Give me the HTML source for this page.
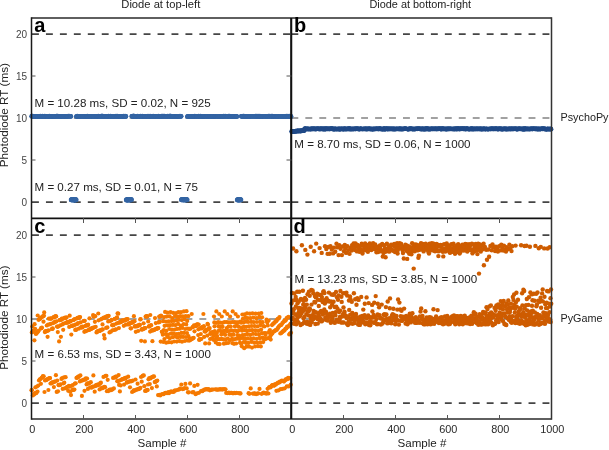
<!DOCTYPE html>
<html><head><meta charset="utf-8"><title>Figure</title>
<style>html,body{margin:0;padding:0;background:#fff;}svg{display:block;}</style></head>
<body>
<svg width="609" height="450" viewBox="0 0 609 450">
<rect width="609" height="450" fill="#fff"/>
<line x1="32.0" y1="34.0" x2="291.5" y2="34.0" stroke="#454545" stroke-width="1.75" stroke-dasharray="6.9 7.05"/>
<line x1="32.0" y1="202.0" x2="291.5" y2="202.0" stroke="#454545" stroke-width="1.75" stroke-dasharray="6.9 7.05"/>
<line x1="32.0" y1="118.0" x2="291.5" y2="118.0" stroke="#444" stroke-width="1.2" stroke-dasharray="6.9 7.05"/>
<line x1="32.0" y1="235.0" x2="291.5" y2="235.0" stroke="#454545" stroke-width="1.75" stroke-dasharray="6.9 7.05"/>
<line x1="32.0" y1="403.0" x2="291.5" y2="403.0" stroke="#454545" stroke-width="1.75" stroke-dasharray="6.9 7.05"/>
<line x1="32.0" y1="319.0" x2="291.5" y2="319.0" stroke="#444" stroke-width="1.2" stroke-dasharray="6.9 7.05"/>
<line x1="291.4" y1="34.0" x2="551.5" y2="34.0" stroke="#454545" stroke-width="1.75" stroke-dasharray="6.9 7.05"/>
<line x1="291.4" y1="202.0" x2="551.5" y2="202.0" stroke="#454545" stroke-width="1.75" stroke-dasharray="6.9 7.05"/>
<line x1="291.4" y1="118.0" x2="551.5" y2="118.0" stroke="#444" stroke-width="1.2" stroke-dasharray="6.9 7.05"/>
<line x1="291.4" y1="235.0" x2="551.5" y2="235.0" stroke="#454545" stroke-width="1.75" stroke-dasharray="6.9 7.05"/>
<line x1="291.4" y1="403.0" x2="551.5" y2="403.0" stroke="#454545" stroke-width="1.75" stroke-dasharray="6.9 7.05"/>
<line x1="291.4" y1="319.0" x2="551.5" y2="319.0" stroke="#444" stroke-width="1.2" stroke-dasharray="6.9 7.05"/>
<g fill="#3465a4"><circle cx="31.5" cy="116.3" r="2.2"/><circle cx="31.8" cy="116.3" r="2.2"/><circle cx="32.0" cy="116.4" r="2.2"/><circle cx="32.3" cy="116.0" r="2.2"/><circle cx="32.5" cy="116.3" r="2.2"/><circle cx="32.8" cy="116.0" r="2.2"/><circle cx="33.1" cy="116.2" r="2.2"/><circle cx="33.3" cy="116.4" r="2.2"/><circle cx="33.6" cy="116.4" r="2.2"/><circle cx="33.8" cy="116.2" r="2.2"/><circle cx="34.1" cy="116.3" r="2.2"/><circle cx="34.4" cy="116.3" r="2.2"/><circle cx="34.6" cy="116.4" r="2.2"/><circle cx="34.9" cy="116.6" r="2.2"/><circle cx="35.1" cy="116.4" r="2.2"/><circle cx="35.4" cy="116.7" r="2.2"/><circle cx="35.7" cy="116.3" r="2.2"/><circle cx="35.9" cy="116.4" r="2.2"/><circle cx="36.2" cy="116.4" r="2.2"/><circle cx="36.4" cy="116.4" r="2.2"/><circle cx="36.7" cy="116.3" r="2.2"/><circle cx="37.0" cy="116.6" r="2.2"/><circle cx="37.2" cy="116.6" r="2.2"/><circle cx="37.5" cy="116.5" r="2.2"/><circle cx="37.7" cy="116.7" r="2.2"/><circle cx="38.0" cy="116.5" r="2.2"/><circle cx="38.3" cy="116.1" r="2.2"/><circle cx="38.5" cy="116.5" r="2.2"/><circle cx="38.8" cy="116.2" r="2.2"/><circle cx="39.0" cy="116.6" r="2.2"/><circle cx="39.3" cy="116.3" r="2.2"/><circle cx="39.6" cy="116.4" r="2.2"/><circle cx="39.8" cy="116.3" r="2.2"/><circle cx="40.1" cy="116.2" r="2.2"/><circle cx="40.3" cy="116.0" r="2.2"/><circle cx="40.6" cy="116.3" r="2.2"/><circle cx="40.9" cy="116.3" r="2.2"/><circle cx="41.1" cy="116.5" r="2.2"/><circle cx="41.4" cy="116.2" r="2.2"/><circle cx="41.6" cy="116.4" r="2.2"/><circle cx="41.9" cy="116.2" r="2.2"/><circle cx="42.2" cy="116.3" r="2.2"/><circle cx="42.4" cy="116.0" r="2.2"/><circle cx="42.7" cy="116.7" r="2.2"/><circle cx="42.9" cy="116.4" r="2.2"/><circle cx="43.2" cy="116.2" r="2.2"/><circle cx="43.5" cy="116.4" r="2.2"/><circle cx="43.7" cy="116.5" r="2.2"/><circle cx="44.0" cy="116.4" r="2.2"/><circle cx="44.2" cy="116.6" r="2.2"/><circle cx="44.5" cy="116.3" r="2.2"/><circle cx="44.8" cy="115.9" r="2.2"/><circle cx="45.0" cy="116.1" r="2.2"/><circle cx="45.3" cy="116.5" r="2.2"/><circle cx="45.5" cy="116.5" r="2.2"/><circle cx="45.8" cy="116.4" r="2.2"/><circle cx="46.1" cy="116.2" r="2.2"/><circle cx="46.3" cy="116.5" r="2.2"/><circle cx="46.6" cy="116.4" r="2.2"/><circle cx="46.8" cy="116.2" r="2.2"/><circle cx="47.1" cy="116.2" r="2.2"/><circle cx="47.4" cy="116.4" r="2.2"/><circle cx="47.6" cy="116.5" r="2.2"/><circle cx="47.9" cy="116.6" r="2.2"/><circle cx="48.1" cy="116.4" r="2.2"/><circle cx="48.4" cy="116.7" r="2.2"/><circle cx="48.7" cy="116.2" r="2.2"/><circle cx="48.9" cy="116.4" r="2.2"/><circle cx="49.2" cy="116.2" r="2.2"/><circle cx="49.4" cy="116.0" r="2.2"/><circle cx="49.7" cy="116.1" r="2.2"/><circle cx="50.0" cy="116.5" r="2.2"/><circle cx="50.2" cy="116.2" r="2.2"/><circle cx="50.5" cy="116.1" r="2.2"/><circle cx="50.7" cy="116.4" r="2.2"/><circle cx="51.0" cy="116.5" r="2.2"/><circle cx="51.3" cy="116.3" r="2.2"/><circle cx="51.5" cy="116.6" r="2.2"/><circle cx="51.8" cy="116.1" r="2.2"/><circle cx="52.0" cy="116.7" r="2.2"/><circle cx="52.3" cy="116.5" r="2.2"/><circle cx="52.6" cy="116.4" r="2.2"/><circle cx="52.8" cy="116.4" r="2.2"/><circle cx="53.1" cy="116.3" r="2.2"/><circle cx="53.3" cy="116.3" r="2.2"/><circle cx="53.6" cy="116.4" r="2.2"/><circle cx="53.9" cy="116.1" r="2.2"/><circle cx="54.1" cy="116.7" r="2.2"/><circle cx="54.4" cy="116.3" r="2.2"/><circle cx="54.6" cy="116.4" r="2.2"/><circle cx="54.9" cy="116.3" r="2.2"/><circle cx="55.2" cy="116.3" r="2.2"/><circle cx="55.4" cy="116.5" r="2.2"/><circle cx="55.7" cy="116.4" r="2.2"/><circle cx="55.9" cy="116.2" r="2.2"/><circle cx="56.2" cy="116.3" r="2.2"/><circle cx="56.5" cy="116.4" r="2.2"/><circle cx="56.7" cy="116.0" r="2.2"/><circle cx="57.0" cy="115.9" r="2.2"/><circle cx="57.2" cy="116.6" r="2.2"/><circle cx="57.5" cy="116.3" r="2.2"/><circle cx="57.8" cy="115.9" r="2.2"/><circle cx="58.0" cy="116.2" r="2.2"/><circle cx="58.3" cy="116.3" r="2.2"/><circle cx="58.5" cy="116.4" r="2.2"/><circle cx="58.8" cy="116.4" r="2.2"/><circle cx="59.1" cy="116.4" r="2.2"/><circle cx="59.3" cy="116.4" r="2.2"/><circle cx="59.6" cy="116.2" r="2.2"/><circle cx="59.8" cy="116.4" r="2.2"/><circle cx="60.1" cy="116.4" r="2.2"/><circle cx="60.4" cy="116.5" r="2.2"/><circle cx="60.6" cy="116.3" r="2.2"/><circle cx="60.9" cy="116.5" r="2.2"/><circle cx="61.1" cy="116.4" r="2.2"/><circle cx="61.4" cy="116.1" r="2.2"/><circle cx="61.7" cy="116.3" r="2.2"/><circle cx="61.9" cy="116.2" r="2.2"/><circle cx="62.2" cy="116.3" r="2.2"/><circle cx="62.4" cy="116.3" r="2.2"/><circle cx="62.7" cy="116.3" r="2.2"/><circle cx="63.0" cy="116.4" r="2.2"/><circle cx="63.2" cy="116.2" r="2.2"/><circle cx="63.5" cy="116.5" r="2.2"/><circle cx="63.7" cy="116.1" r="2.2"/><circle cx="64.0" cy="116.3" r="2.2"/><circle cx="64.3" cy="116.4" r="2.2"/><circle cx="64.5" cy="116.4" r="2.2"/><circle cx="64.8" cy="116.4" r="2.2"/><circle cx="65.0" cy="116.3" r="2.2"/><circle cx="65.3" cy="116.4" r="2.2"/><circle cx="65.6" cy="116.1" r="2.2"/><circle cx="65.8" cy="116.5" r="2.2"/><circle cx="66.1" cy="116.7" r="2.2"/><circle cx="66.3" cy="116.4" r="2.2"/><circle cx="66.6" cy="116.7" r="2.2"/><circle cx="66.9" cy="116.3" r="2.2"/><circle cx="67.1" cy="116.1" r="2.2"/><circle cx="67.4" cy="116.2" r="2.2"/><circle cx="67.6" cy="116.5" r="2.2"/><circle cx="67.9" cy="116.4" r="2.2"/><circle cx="68.2" cy="116.0" r="2.2"/><circle cx="68.4" cy="116.3" r="2.2"/><circle cx="68.7" cy="116.3" r="2.2"/><circle cx="68.9" cy="116.1" r="2.2"/><circle cx="69.2" cy="115.9" r="2.2"/><circle cx="69.5" cy="116.1" r="2.2"/><circle cx="69.7" cy="116.3" r="2.2"/><circle cx="70.0" cy="116.3" r="2.2"/><circle cx="70.2" cy="116.2" r="2.2"/><circle cx="70.5" cy="116.4" r="2.2"/><circle cx="70.8" cy="116.5" r="2.2"/><circle cx="71.0" cy="116.3" r="2.2"/><circle cx="76.2" cy="116.4" r="2.2"/><circle cx="76.5" cy="116.4" r="2.2"/><circle cx="76.7" cy="116.6" r="2.2"/><circle cx="77.0" cy="116.5" r="2.2"/><circle cx="77.3" cy="116.0" r="2.2"/><circle cx="77.5" cy="116.7" r="2.2"/><circle cx="77.8" cy="116.4" r="2.2"/><circle cx="78.0" cy="116.3" r="2.2"/><circle cx="78.3" cy="116.4" r="2.2"/><circle cx="78.6" cy="116.5" r="2.2"/><circle cx="78.8" cy="116.3" r="2.2"/><circle cx="79.1" cy="116.3" r="2.2"/><circle cx="79.3" cy="116.3" r="2.2"/><circle cx="79.6" cy="116.6" r="2.2"/><circle cx="79.9" cy="116.3" r="2.2"/><circle cx="80.1" cy="116.5" r="2.2"/><circle cx="80.4" cy="116.4" r="2.2"/><circle cx="80.6" cy="116.3" r="2.2"/><circle cx="80.9" cy="116.2" r="2.2"/><circle cx="81.2" cy="116.2" r="2.2"/><circle cx="81.4" cy="116.4" r="2.2"/><circle cx="81.7" cy="116.2" r="2.2"/><circle cx="81.9" cy="116.1" r="2.2"/><circle cx="82.2" cy="116.1" r="2.2"/><circle cx="82.5" cy="116.1" r="2.2"/><circle cx="82.7" cy="116.3" r="2.2"/><circle cx="83.0" cy="116.3" r="2.2"/><circle cx="83.2" cy="116.2" r="2.2"/><circle cx="83.5" cy="116.5" r="2.2"/><circle cx="83.8" cy="116.3" r="2.2"/><circle cx="84.0" cy="116.4" r="2.2"/><circle cx="84.3" cy="116.4" r="2.2"/><circle cx="84.5" cy="116.6" r="2.2"/><circle cx="84.8" cy="116.5" r="2.2"/><circle cx="85.1" cy="116.3" r="2.2"/><circle cx="85.3" cy="116.2" r="2.2"/><circle cx="85.6" cy="116.2" r="2.2"/><circle cx="85.8" cy="116.3" r="2.2"/><circle cx="86.1" cy="116.4" r="2.2"/><circle cx="86.4" cy="116.5" r="2.2"/><circle cx="86.6" cy="116.3" r="2.2"/><circle cx="86.9" cy="116.4" r="2.2"/><circle cx="87.1" cy="116.2" r="2.2"/><circle cx="87.4" cy="116.0" r="2.2"/><circle cx="87.7" cy="116.3" r="2.2"/><circle cx="87.9" cy="116.6" r="2.2"/><circle cx="88.2" cy="116.5" r="2.2"/><circle cx="88.4" cy="116.6" r="2.2"/><circle cx="88.7" cy="116.5" r="2.2"/><circle cx="89.0" cy="116.1" r="2.2"/><circle cx="89.2" cy="116.3" r="2.2"/><circle cx="89.5" cy="116.6" r="2.2"/><circle cx="89.7" cy="116.2" r="2.2"/><circle cx="90.0" cy="116.1" r="2.2"/><circle cx="90.3" cy="116.4" r="2.2"/><circle cx="90.5" cy="116.4" r="2.2"/><circle cx="90.8" cy="116.4" r="2.2"/><circle cx="91.0" cy="116.3" r="2.2"/><circle cx="91.3" cy="116.2" r="2.2"/><circle cx="91.6" cy="116.1" r="2.2"/><circle cx="91.8" cy="116.1" r="2.2"/><circle cx="92.1" cy="116.1" r="2.2"/><circle cx="92.3" cy="116.1" r="2.2"/><circle cx="92.6" cy="116.2" r="2.2"/><circle cx="92.9" cy="116.6" r="2.2"/><circle cx="93.1" cy="116.3" r="2.2"/><circle cx="93.4" cy="116.3" r="2.2"/><circle cx="93.6" cy="116.4" r="2.2"/><circle cx="93.9" cy="116.2" r="2.2"/><circle cx="94.2" cy="116.4" r="2.2"/><circle cx="94.4" cy="116.5" r="2.2"/><circle cx="94.7" cy="116.1" r="2.2"/><circle cx="94.9" cy="116.2" r="2.2"/><circle cx="95.2" cy="116.3" r="2.2"/><circle cx="95.5" cy="116.2" r="2.2"/><circle cx="95.7" cy="116.1" r="2.2"/><circle cx="96.0" cy="116.3" r="2.2"/><circle cx="96.2" cy="116.7" r="2.2"/><circle cx="96.5" cy="116.4" r="2.2"/><circle cx="96.8" cy="116.4" r="2.2"/><circle cx="97.0" cy="116.5" r="2.2"/><circle cx="97.3" cy="116.3" r="2.2"/><circle cx="97.5" cy="116.1" r="2.2"/><circle cx="97.8" cy="116.4" r="2.2"/><circle cx="98.1" cy="116.5" r="2.2"/><circle cx="98.3" cy="116.0" r="2.2"/><circle cx="98.6" cy="116.4" r="2.2"/><circle cx="98.8" cy="116.5" r="2.2"/><circle cx="99.1" cy="116.3" r="2.2"/><circle cx="99.4" cy="116.2" r="2.2"/><circle cx="99.6" cy="116.4" r="2.2"/><circle cx="99.9" cy="116.2" r="2.2"/><circle cx="100.1" cy="116.4" r="2.2"/><circle cx="100.4" cy="116.5" r="2.2"/><circle cx="100.7" cy="116.3" r="2.2"/><circle cx="100.9" cy="116.2" r="2.2"/><circle cx="101.2" cy="116.4" r="2.2"/><circle cx="101.4" cy="116.3" r="2.2"/><circle cx="101.7" cy="116.3" r="2.2"/><circle cx="102.0" cy="115.8" r="2.2"/><circle cx="102.2" cy="116.4" r="2.2"/><circle cx="102.5" cy="116.1" r="2.2"/><circle cx="102.7" cy="116.3" r="2.2"/><circle cx="103.0" cy="116.3" r="2.2"/><circle cx="103.3" cy="116.2" r="2.2"/><circle cx="103.5" cy="116.2" r="2.2"/><circle cx="103.8" cy="116.1" r="2.2"/><circle cx="104.0" cy="116.3" r="2.2"/><circle cx="104.3" cy="116.4" r="2.2"/><circle cx="104.6" cy="116.4" r="2.2"/><circle cx="104.8" cy="116.2" r="2.2"/><circle cx="105.1" cy="116.2" r="2.2"/><circle cx="105.3" cy="116.1" r="2.2"/><circle cx="105.6" cy="116.2" r="2.2"/><circle cx="105.9" cy="116.1" r="2.2"/><circle cx="106.1" cy="116.1" r="2.2"/><circle cx="106.4" cy="116.3" r="2.2"/><circle cx="106.6" cy="116.6" r="2.2"/><circle cx="106.9" cy="116.5" r="2.2"/><circle cx="107.2" cy="116.6" r="2.2"/><circle cx="107.4" cy="116.1" r="2.2"/><circle cx="107.7" cy="116.5" r="2.2"/><circle cx="107.9" cy="116.1" r="2.2"/><circle cx="108.2" cy="116.2" r="2.2"/><circle cx="108.5" cy="116.0" r="2.2"/><circle cx="108.7" cy="116.2" r="2.2"/><circle cx="109.0" cy="116.3" r="2.2"/><circle cx="109.2" cy="116.4" r="2.2"/><circle cx="109.5" cy="116.3" r="2.2"/><circle cx="109.8" cy="116.3" r="2.2"/><circle cx="110.0" cy="116.4" r="2.2"/><circle cx="110.3" cy="116.3" r="2.2"/><circle cx="110.5" cy="116.0" r="2.2"/><circle cx="110.8" cy="116.6" r="2.2"/><circle cx="111.1" cy="116.3" r="2.2"/><circle cx="111.3" cy="116.5" r="2.2"/><circle cx="111.6" cy="116.3" r="2.2"/><circle cx="111.8" cy="116.2" r="2.2"/><circle cx="112.1" cy="116.3" r="2.2"/><circle cx="112.4" cy="116.2" r="2.2"/><circle cx="112.6" cy="116.6" r="2.2"/><circle cx="112.9" cy="116.1" r="2.2"/><circle cx="113.1" cy="116.4" r="2.2"/><circle cx="113.4" cy="116.2" r="2.2"/><circle cx="113.7" cy="116.3" r="2.2"/><circle cx="113.9" cy="116.8" r="2.2"/><circle cx="114.2" cy="116.4" r="2.2"/><circle cx="114.4" cy="116.3" r="2.2"/><circle cx="114.7" cy="116.1" r="2.2"/><circle cx="115.0" cy="116.3" r="2.2"/><circle cx="115.2" cy="116.3" r="2.2"/><circle cx="115.5" cy="116.6" r="2.2"/><circle cx="115.7" cy="116.1" r="2.2"/><circle cx="116.0" cy="116.0" r="2.2"/><circle cx="116.3" cy="116.3" r="2.2"/><circle cx="116.5" cy="116.4" r="2.2"/><circle cx="116.8" cy="116.6" r="2.2"/><circle cx="117.0" cy="116.2" r="2.2"/><circle cx="117.3" cy="115.9" r="2.2"/><circle cx="117.6" cy="116.2" r="2.2"/><circle cx="117.8" cy="116.1" r="2.2"/><circle cx="118.1" cy="116.2" r="2.2"/><circle cx="118.3" cy="116.5" r="2.2"/><circle cx="118.6" cy="116.1" r="2.2"/><circle cx="118.9" cy="116.5" r="2.2"/><circle cx="119.1" cy="116.4" r="2.2"/><circle cx="119.4" cy="116.3" r="2.2"/><circle cx="119.6" cy="116.2" r="2.2"/><circle cx="119.9" cy="116.3" r="2.2"/><circle cx="120.2" cy="116.3" r="2.2"/><circle cx="120.4" cy="116.4" r="2.2"/><circle cx="120.7" cy="116.5" r="2.2"/><circle cx="120.9" cy="116.3" r="2.2"/><circle cx="121.2" cy="116.4" r="2.2"/><circle cx="121.5" cy="116.5" r="2.2"/><circle cx="121.7" cy="116.5" r="2.2"/><circle cx="122.0" cy="116.4" r="2.2"/><circle cx="122.2" cy="116.6" r="2.2"/><circle cx="122.5" cy="116.5" r="2.2"/><circle cx="122.8" cy="116.6" r="2.2"/><circle cx="123.0" cy="116.3" r="2.2"/><circle cx="123.3" cy="116.3" r="2.2"/><circle cx="123.5" cy="116.0" r="2.2"/><circle cx="123.8" cy="116.6" r="2.2"/><circle cx="124.1" cy="116.4" r="2.2"/><circle cx="124.3" cy="116.2" r="2.2"/><circle cx="124.6" cy="116.4" r="2.2"/><circle cx="124.8" cy="116.4" r="2.2"/><circle cx="125.1" cy="116.0" r="2.2"/><circle cx="125.4" cy="116.4" r="2.2"/><circle cx="125.6" cy="116.5" r="2.2"/><circle cx="125.9" cy="116.5" r="2.2"/><circle cx="126.1" cy="116.3" r="2.2"/><circle cx="131.6" cy="116.1" r="2.2"/><circle cx="131.9" cy="116.2" r="2.2"/><circle cx="132.1" cy="116.3" r="2.2"/><circle cx="132.4" cy="116.5" r="2.2"/><circle cx="132.6" cy="116.2" r="2.2"/><circle cx="132.9" cy="116.4" r="2.2"/><circle cx="133.2" cy="116.7" r="2.2"/><circle cx="133.4" cy="115.8" r="2.2"/><circle cx="133.7" cy="116.2" r="2.2"/><circle cx="133.9" cy="116.0" r="2.2"/><circle cx="134.2" cy="116.5" r="2.2"/><circle cx="134.5" cy="116.1" r="2.2"/><circle cx="134.7" cy="116.1" r="2.2"/><circle cx="135.0" cy="116.1" r="2.2"/><circle cx="135.2" cy="116.3" r="2.2"/><circle cx="135.5" cy="116.5" r="2.2"/><circle cx="135.8" cy="116.3" r="2.2"/><circle cx="136.0" cy="116.7" r="2.2"/><circle cx="136.3" cy="116.6" r="2.2"/><circle cx="136.5" cy="116.3" r="2.2"/><circle cx="136.8" cy="116.5" r="2.2"/><circle cx="137.1" cy="116.3" r="2.2"/><circle cx="137.3" cy="116.3" r="2.2"/><circle cx="137.6" cy="116.0" r="2.2"/><circle cx="137.8" cy="116.1" r="2.2"/><circle cx="138.1" cy="116.3" r="2.2"/><circle cx="138.4" cy="116.1" r="2.2"/><circle cx="138.6" cy="116.5" r="2.2"/><circle cx="138.9" cy="116.4" r="2.2"/><circle cx="139.1" cy="116.2" r="2.2"/><circle cx="139.4" cy="116.5" r="2.2"/><circle cx="139.7" cy="116.4" r="2.2"/><circle cx="139.9" cy="116.5" r="2.2"/><circle cx="140.2" cy="116.3" r="2.2"/><circle cx="140.4" cy="116.0" r="2.2"/><circle cx="140.7" cy="116.4" r="2.2"/><circle cx="141.0" cy="116.3" r="2.2"/><circle cx="141.2" cy="116.5" r="2.2"/><circle cx="141.5" cy="116.5" r="2.2"/><circle cx="141.7" cy="116.5" r="2.2"/><circle cx="142.0" cy="116.1" r="2.2"/><circle cx="142.3" cy="115.9" r="2.2"/><circle cx="142.5" cy="116.2" r="2.2"/><circle cx="142.8" cy="116.4" r="2.2"/><circle cx="143.0" cy="116.2" r="2.2"/><circle cx="143.3" cy="116.4" r="2.2"/><circle cx="143.6" cy="116.2" r="2.2"/><circle cx="143.8" cy="116.3" r="2.2"/><circle cx="144.1" cy="116.3" r="2.2"/><circle cx="144.3" cy="116.2" r="2.2"/><circle cx="144.6" cy="116.4" r="2.2"/><circle cx="144.9" cy="116.4" r="2.2"/><circle cx="145.1" cy="116.6" r="2.2"/><circle cx="145.4" cy="116.4" r="2.2"/><circle cx="145.6" cy="116.6" r="2.2"/><circle cx="145.9" cy="116.3" r="2.2"/><circle cx="146.2" cy="116.5" r="2.2"/><circle cx="146.4" cy="116.3" r="2.2"/><circle cx="146.7" cy="116.2" r="2.2"/><circle cx="146.9" cy="116.6" r="2.2"/><circle cx="147.2" cy="116.5" r="2.2"/><circle cx="147.5" cy="116.5" r="2.2"/><circle cx="147.7" cy="116.2" r="2.2"/><circle cx="148.0" cy="116.0" r="2.2"/><circle cx="148.2" cy="116.2" r="2.2"/><circle cx="148.5" cy="116.4" r="2.2"/><circle cx="148.8" cy="116.1" r="2.2"/><circle cx="149.0" cy="116.6" r="2.2"/><circle cx="149.3" cy="116.1" r="2.2"/><circle cx="149.5" cy="116.4" r="2.2"/><circle cx="149.8" cy="116.8" r="2.2"/><circle cx="150.1" cy="115.9" r="2.2"/><circle cx="150.3" cy="116.1" r="2.2"/><circle cx="150.6" cy="116.5" r="2.2"/><circle cx="150.8" cy="116.3" r="2.2"/><circle cx="151.1" cy="116.4" r="2.2"/><circle cx="151.4" cy="116.3" r="2.2"/><circle cx="151.6" cy="116.6" r="2.2"/><circle cx="151.9" cy="116.4" r="2.2"/><circle cx="152.1" cy="116.2" r="2.2"/><circle cx="152.4" cy="116.3" r="2.2"/><circle cx="152.7" cy="116.1" r="2.2"/><circle cx="152.9" cy="116.3" r="2.2"/><circle cx="153.2" cy="115.9" r="2.2"/><circle cx="153.4" cy="116.4" r="2.2"/><circle cx="153.7" cy="116.3" r="2.2"/><circle cx="154.0" cy="116.6" r="2.2"/><circle cx="154.2" cy="116.5" r="2.2"/><circle cx="154.5" cy="116.1" r="2.2"/><circle cx="154.7" cy="116.5" r="2.2"/><circle cx="155.0" cy="116.2" r="2.2"/><circle cx="155.3" cy="116.3" r="2.2"/><circle cx="155.5" cy="116.5" r="2.2"/><circle cx="155.8" cy="116.4" r="2.2"/><circle cx="156.0" cy="116.4" r="2.2"/><circle cx="156.3" cy="116.4" r="2.2"/><circle cx="156.6" cy="116.2" r="2.2"/><circle cx="156.8" cy="116.2" r="2.2"/><circle cx="157.1" cy="116.4" r="2.2"/><circle cx="157.3" cy="116.5" r="2.2"/><circle cx="157.6" cy="116.3" r="2.2"/><circle cx="157.9" cy="116.3" r="2.2"/><circle cx="158.1" cy="116.1" r="2.2"/><circle cx="158.4" cy="115.9" r="2.2"/><circle cx="158.6" cy="116.2" r="2.2"/><circle cx="158.9" cy="116.3" r="2.2"/><circle cx="159.2" cy="116.3" r="2.2"/><circle cx="159.4" cy="116.5" r="2.2"/><circle cx="159.7" cy="116.5" r="2.2"/><circle cx="159.9" cy="116.5" r="2.2"/><circle cx="160.2" cy="116.4" r="2.2"/><circle cx="160.5" cy="116.4" r="2.2"/><circle cx="160.7" cy="116.2" r="2.2"/><circle cx="161.0" cy="116.4" r="2.2"/><circle cx="161.2" cy="116.4" r="2.2"/><circle cx="161.5" cy="116.5" r="2.2"/><circle cx="161.8" cy="116.0" r="2.2"/><circle cx="162.0" cy="116.2" r="2.2"/><circle cx="162.3" cy="116.0" r="2.2"/><circle cx="162.5" cy="116.2" r="2.2"/><circle cx="162.8" cy="116.1" r="2.2"/><circle cx="163.1" cy="116.4" r="2.2"/><circle cx="163.3" cy="116.2" r="2.2"/><circle cx="163.6" cy="115.9" r="2.2"/><circle cx="163.8" cy="116.5" r="2.2"/><circle cx="164.1" cy="116.1" r="2.2"/><circle cx="164.4" cy="116.0" r="2.2"/><circle cx="164.6" cy="116.2" r="2.2"/><circle cx="164.9" cy="116.2" r="2.2"/><circle cx="165.1" cy="116.1" r="2.2"/><circle cx="165.4" cy="116.4" r="2.2"/><circle cx="165.7" cy="116.2" r="2.2"/><circle cx="165.9" cy="116.5" r="2.2"/><circle cx="166.2" cy="116.4" r="2.2"/><circle cx="166.4" cy="116.4" r="2.2"/><circle cx="166.7" cy="116.3" r="2.2"/><circle cx="167.0" cy="116.3" r="2.2"/><circle cx="167.2" cy="116.2" r="2.2"/><circle cx="167.5" cy="116.6" r="2.2"/><circle cx="167.7" cy="116.0" r="2.2"/><circle cx="168.0" cy="116.1" r="2.2"/><circle cx="168.3" cy="116.2" r="2.2"/><circle cx="168.5" cy="116.4" r="2.2"/><circle cx="168.8" cy="116.3" r="2.2"/><circle cx="169.0" cy="116.2" r="2.2"/><circle cx="169.3" cy="116.2" r="2.2"/><circle cx="169.6" cy="116.6" r="2.2"/><circle cx="169.8" cy="116.2" r="2.2"/><circle cx="170.1" cy="115.8" r="2.2"/><circle cx="170.3" cy="116.6" r="2.2"/><circle cx="170.6" cy="116.1" r="2.2"/><circle cx="170.9" cy="116.3" r="2.2"/><circle cx="171.1" cy="116.3" r="2.2"/><circle cx="171.4" cy="116.1" r="2.2"/><circle cx="171.6" cy="116.5" r="2.2"/><circle cx="171.9" cy="116.3" r="2.2"/><circle cx="172.2" cy="116.1" r="2.2"/><circle cx="172.4" cy="116.4" r="2.2"/><circle cx="172.7" cy="116.4" r="2.2"/><circle cx="172.9" cy="116.3" r="2.2"/><circle cx="173.2" cy="116.4" r="2.2"/><circle cx="173.5" cy="116.1" r="2.2"/><circle cx="173.7" cy="116.5" r="2.2"/><circle cx="174.0" cy="116.2" r="2.2"/><circle cx="174.2" cy="116.5" r="2.2"/><circle cx="174.5" cy="116.2" r="2.2"/><circle cx="174.8" cy="116.3" r="2.2"/><circle cx="175.0" cy="116.8" r="2.2"/><circle cx="175.3" cy="116.3" r="2.2"/><circle cx="175.5" cy="116.5" r="2.2"/><circle cx="175.8" cy="116.4" r="2.2"/><circle cx="176.1" cy="116.1" r="2.2"/><circle cx="176.3" cy="116.5" r="2.2"/><circle cx="176.6" cy="116.5" r="2.2"/><circle cx="176.8" cy="116.1" r="2.2"/><circle cx="177.1" cy="116.3" r="2.2"/><circle cx="177.4" cy="116.1" r="2.2"/><circle cx="177.6" cy="116.3" r="2.2"/><circle cx="177.9" cy="116.5" r="2.2"/><circle cx="178.1" cy="116.3" r="2.2"/><circle cx="178.4" cy="116.1" r="2.2"/><circle cx="178.7" cy="116.2" r="2.2"/><circle cx="178.9" cy="116.3" r="2.2"/><circle cx="179.2" cy="116.3" r="2.2"/><circle cx="179.4" cy="116.3" r="2.2"/><circle cx="179.7" cy="116.4" r="2.2"/><circle cx="180.0" cy="116.0" r="2.2"/><circle cx="180.2" cy="116.3" r="2.2"/><circle cx="180.5" cy="116.5" r="2.2"/><circle cx="180.7" cy="116.4" r="2.2"/><circle cx="181.0" cy="116.2" r="2.2"/><circle cx="181.3" cy="116.2" r="2.2"/><circle cx="187.2" cy="116.4" r="2.2"/><circle cx="187.5" cy="116.6" r="2.2"/><circle cx="187.8" cy="116.4" r="2.2"/><circle cx="188.0" cy="116.3" r="2.2"/><circle cx="188.3" cy="116.3" r="2.2"/><circle cx="188.5" cy="116.5" r="2.2"/><circle cx="188.8" cy="116.2" r="2.2"/><circle cx="189.1" cy="116.5" r="2.2"/><circle cx="189.3" cy="116.4" r="2.2"/><circle cx="189.6" cy="116.1" r="2.2"/><circle cx="189.8" cy="116.4" r="2.2"/><circle cx="190.1" cy="116.4" r="2.2"/><circle cx="190.4" cy="116.1" r="2.2"/><circle cx="190.6" cy="116.4" r="2.2"/><circle cx="190.9" cy="116.4" r="2.2"/><circle cx="191.1" cy="116.3" r="2.2"/><circle cx="191.4" cy="116.1" r="2.2"/><circle cx="191.7" cy="116.7" r="2.2"/><circle cx="191.9" cy="116.5" r="2.2"/><circle cx="192.2" cy="116.5" r="2.2"/><circle cx="192.4" cy="116.5" r="2.2"/><circle cx="192.7" cy="116.5" r="2.2"/><circle cx="193.0" cy="116.5" r="2.2"/><circle cx="193.2" cy="116.3" r="2.2"/><circle cx="193.5" cy="116.5" r="2.2"/><circle cx="193.7" cy="116.3" r="2.2"/><circle cx="194.0" cy="116.3" r="2.2"/><circle cx="194.3" cy="116.4" r="2.2"/><circle cx="194.5" cy="116.3" r="2.2"/><circle cx="194.8" cy="116.0" r="2.2"/><circle cx="195.0" cy="116.3" r="2.2"/><circle cx="195.3" cy="116.4" r="2.2"/><circle cx="195.6" cy="116.3" r="2.2"/><circle cx="195.8" cy="116.5" r="2.2"/><circle cx="196.1" cy="116.3" r="2.2"/><circle cx="196.3" cy="116.2" r="2.2"/><circle cx="196.6" cy="116.5" r="2.2"/><circle cx="196.9" cy="116.4" r="2.2"/><circle cx="197.1" cy="116.1" r="2.2"/><circle cx="197.4" cy="116.4" r="2.2"/><circle cx="197.6" cy="116.3" r="2.2"/><circle cx="197.9" cy="116.5" r="2.2"/><circle cx="198.2" cy="116.5" r="2.2"/><circle cx="198.4" cy="116.4" r="2.2"/><circle cx="198.7" cy="116.0" r="2.2"/><circle cx="198.9" cy="116.4" r="2.2"/><circle cx="199.2" cy="116.4" r="2.2"/><circle cx="199.5" cy="116.4" r="2.2"/><circle cx="199.7" cy="116.3" r="2.2"/><circle cx="200.0" cy="116.2" r="2.2"/><circle cx="200.2" cy="116.3" r="2.2"/><circle cx="200.5" cy="116.0" r="2.2"/><circle cx="200.8" cy="116.3" r="2.2"/><circle cx="201.0" cy="116.1" r="2.2"/><circle cx="201.3" cy="116.3" r="2.2"/><circle cx="201.5" cy="116.2" r="2.2"/><circle cx="201.8" cy="116.6" r="2.2"/><circle cx="202.1" cy="116.3" r="2.2"/><circle cx="202.3" cy="116.3" r="2.2"/><circle cx="202.6" cy="116.4" r="2.2"/><circle cx="202.8" cy="116.7" r="2.2"/><circle cx="203.1" cy="116.2" r="2.2"/><circle cx="203.4" cy="116.4" r="2.2"/><circle cx="203.6" cy="116.4" r="2.2"/><circle cx="203.9" cy="116.4" r="2.2"/><circle cx="204.1" cy="116.4" r="2.2"/><circle cx="204.4" cy="116.3" r="2.2"/><circle cx="204.7" cy="116.5" r="2.2"/><circle cx="204.9" cy="116.5" r="2.2"/><circle cx="205.2" cy="116.3" r="2.2"/><circle cx="205.4" cy="116.3" r="2.2"/><circle cx="205.7" cy="116.4" r="2.2"/><circle cx="206.0" cy="116.4" r="2.2"/><circle cx="206.2" cy="116.5" r="2.2"/><circle cx="206.5" cy="116.3" r="2.2"/><circle cx="206.7" cy="116.1" r="2.2"/><circle cx="207.0" cy="116.5" r="2.2"/><circle cx="207.3" cy="116.1" r="2.2"/><circle cx="207.5" cy="116.2" r="2.2"/><circle cx="207.8" cy="116.4" r="2.2"/><circle cx="208.0" cy="116.2" r="2.2"/><circle cx="208.3" cy="116.6" r="2.2"/><circle cx="208.6" cy="116.6" r="2.2"/><circle cx="208.8" cy="116.5" r="2.2"/><circle cx="209.1" cy="116.4" r="2.2"/><circle cx="209.3" cy="116.4" r="2.2"/><circle cx="209.6" cy="116.4" r="2.2"/><circle cx="209.9" cy="116.3" r="2.2"/><circle cx="210.1" cy="116.7" r="2.2"/><circle cx="210.4" cy="116.2" r="2.2"/><circle cx="210.6" cy="116.6" r="2.2"/><circle cx="210.9" cy="116.4" r="2.2"/><circle cx="211.2" cy="116.4" r="2.2"/><circle cx="211.4" cy="116.5" r="2.2"/><circle cx="211.7" cy="116.6" r="2.2"/><circle cx="211.9" cy="116.5" r="2.2"/><circle cx="212.2" cy="116.3" r="2.2"/><circle cx="212.5" cy="116.2" r="2.2"/><circle cx="212.7" cy="116.2" r="2.2"/><circle cx="213.0" cy="116.5" r="2.2"/><circle cx="213.2" cy="116.5" r="2.2"/><circle cx="213.5" cy="116.5" r="2.2"/><circle cx="213.8" cy="116.2" r="2.2"/><circle cx="214.0" cy="116.7" r="2.2"/><circle cx="214.3" cy="116.1" r="2.2"/><circle cx="214.5" cy="116.4" r="2.2"/><circle cx="214.8" cy="116.5" r="2.2"/><circle cx="215.1" cy="116.3" r="2.2"/><circle cx="215.3" cy="116.1" r="2.2"/><circle cx="215.6" cy="116.3" r="2.2"/><circle cx="215.8" cy="116.1" r="2.2"/><circle cx="216.1" cy="116.3" r="2.2"/><circle cx="216.4" cy="116.1" r="2.2"/><circle cx="216.6" cy="116.1" r="2.2"/><circle cx="216.9" cy="116.3" r="2.2"/><circle cx="217.1" cy="116.1" r="2.2"/><circle cx="217.4" cy="116.3" r="2.2"/><circle cx="217.7" cy="116.3" r="2.2"/><circle cx="217.9" cy="116.5" r="2.2"/><circle cx="218.2" cy="116.4" r="2.2"/><circle cx="218.4" cy="116.2" r="2.2"/><circle cx="218.7" cy="116.5" r="2.2"/><circle cx="219.0" cy="116.2" r="2.2"/><circle cx="219.2" cy="116.3" r="2.2"/><circle cx="219.5" cy="116.3" r="2.2"/><circle cx="219.7" cy="116.7" r="2.2"/><circle cx="220.0" cy="116.3" r="2.2"/><circle cx="220.3" cy="116.2" r="2.2"/><circle cx="220.5" cy="116.4" r="2.2"/><circle cx="220.8" cy="116.3" r="2.2"/><circle cx="221.0" cy="116.7" r="2.2"/><circle cx="221.3" cy="116.2" r="2.2"/><circle cx="221.6" cy="116.4" r="2.2"/><circle cx="221.8" cy="116.2" r="2.2"/><circle cx="222.1" cy="116.6" r="2.2"/><circle cx="222.3" cy="116.2" r="2.2"/><circle cx="222.6" cy="116.4" r="2.2"/><circle cx="222.9" cy="116.2" r="2.2"/><circle cx="223.1" cy="116.5" r="2.2"/><circle cx="223.4" cy="116.4" r="2.2"/><circle cx="223.6" cy="115.9" r="2.2"/><circle cx="223.9" cy="116.5" r="2.2"/><circle cx="224.2" cy="116.4" r="2.2"/><circle cx="224.4" cy="116.4" r="2.2"/><circle cx="224.7" cy="116.5" r="2.2"/><circle cx="224.9" cy="116.1" r="2.2"/><circle cx="225.2" cy="116.0" r="2.2"/><circle cx="225.5" cy="116.4" r="2.2"/><circle cx="225.7" cy="116.6" r="2.2"/><circle cx="226.0" cy="116.1" r="2.2"/><circle cx="226.2" cy="116.1" r="2.2"/><circle cx="226.5" cy="116.2" r="2.2"/><circle cx="226.8" cy="116.1" r="2.2"/><circle cx="227.0" cy="116.5" r="2.2"/><circle cx="227.3" cy="116.3" r="2.2"/><circle cx="227.5" cy="116.6" r="2.2"/><circle cx="227.8" cy="116.6" r="2.2"/><circle cx="228.1" cy="116.2" r="2.2"/><circle cx="228.3" cy="116.4" r="2.2"/><circle cx="228.6" cy="115.9" r="2.2"/><circle cx="228.8" cy="116.3" r="2.2"/><circle cx="229.1" cy="116.4" r="2.2"/><circle cx="229.4" cy="116.2" r="2.2"/><circle cx="229.6" cy="116.0" r="2.2"/><circle cx="229.9" cy="116.2" r="2.2"/><circle cx="230.1" cy="116.5" r="2.2"/><circle cx="230.4" cy="116.3" r="2.2"/><circle cx="230.7" cy="116.1" r="2.2"/><circle cx="230.9" cy="116.4" r="2.2"/><circle cx="231.2" cy="116.4" r="2.2"/><circle cx="231.4" cy="116.1" r="2.2"/><circle cx="231.7" cy="116.3" r="2.2"/><circle cx="232.0" cy="116.5" r="2.2"/><circle cx="232.2" cy="116.4" r="2.2"/><circle cx="232.5" cy="116.4" r="2.2"/><circle cx="232.7" cy="116.3" r="2.2"/><circle cx="233.0" cy="116.3" r="2.2"/><circle cx="233.3" cy="116.1" r="2.2"/><circle cx="233.5" cy="116.2" r="2.2"/><circle cx="233.8" cy="116.6" r="2.2"/><circle cx="234.0" cy="116.3" r="2.2"/><circle cx="234.3" cy="116.2" r="2.2"/><circle cx="234.6" cy="116.2" r="2.2"/><circle cx="234.8" cy="116.1" r="2.2"/><circle cx="235.1" cy="116.4" r="2.2"/><circle cx="235.3" cy="116.5" r="2.2"/><circle cx="235.6" cy="116.2" r="2.2"/><circle cx="235.9" cy="116.5" r="2.2"/><circle cx="236.1" cy="116.7" r="2.2"/><circle cx="236.4" cy="116.1" r="2.2"/><circle cx="236.6" cy="116.4" r="2.2"/><circle cx="236.9" cy="116.4" r="2.2"/><circle cx="237.2" cy="116.6" r="2.2"/><circle cx="241.1" cy="116.3" r="2.2"/><circle cx="241.3" cy="116.1" r="2.2"/><circle cx="241.6" cy="116.4" r="2.2"/><circle cx="241.8" cy="116.2" r="2.2"/><circle cx="242.1" cy="116.4" r="2.2"/><circle cx="242.4" cy="116.1" r="2.2"/><circle cx="242.6" cy="116.4" r="2.2"/><circle cx="242.9" cy="116.4" r="2.2"/><circle cx="243.1" cy="116.0" r="2.2"/><circle cx="243.4" cy="116.3" r="2.2"/><circle cx="243.7" cy="116.3" r="2.2"/><circle cx="243.9" cy="115.9" r="2.2"/><circle cx="244.2" cy="116.3" r="2.2"/><circle cx="244.4" cy="116.5" r="2.2"/><circle cx="244.7" cy="116.2" r="2.2"/><circle cx="245.0" cy="116.5" r="2.2"/><circle cx="245.2" cy="116.1" r="2.2"/><circle cx="245.5" cy="116.1" r="2.2"/><circle cx="245.7" cy="116.4" r="2.2"/><circle cx="246.0" cy="116.4" r="2.2"/><circle cx="246.3" cy="116.3" r="2.2"/><circle cx="246.5" cy="116.3" r="2.2"/><circle cx="246.8" cy="116.5" r="2.2"/><circle cx="247.0" cy="116.2" r="2.2"/><circle cx="247.3" cy="116.7" r="2.2"/><circle cx="247.6" cy="116.4" r="2.2"/><circle cx="247.8" cy="116.4" r="2.2"/><circle cx="248.1" cy="116.4" r="2.2"/><circle cx="248.3" cy="116.3" r="2.2"/><circle cx="248.6" cy="116.5" r="2.2"/><circle cx="248.9" cy="116.2" r="2.2"/><circle cx="249.1" cy="116.4" r="2.2"/><circle cx="249.4" cy="116.4" r="2.2"/><circle cx="249.6" cy="116.5" r="2.2"/><circle cx="249.9" cy="116.5" r="2.2"/><circle cx="250.2" cy="116.3" r="2.2"/><circle cx="250.4" cy="116.5" r="2.2"/><circle cx="250.7" cy="116.3" r="2.2"/><circle cx="250.9" cy="116.1" r="2.2"/><circle cx="251.2" cy="116.1" r="2.2"/><circle cx="251.5" cy="116.1" r="2.2"/><circle cx="251.7" cy="116.4" r="2.2"/><circle cx="252.0" cy="116.5" r="2.2"/><circle cx="252.2" cy="116.1" r="2.2"/><circle cx="252.5" cy="116.3" r="2.2"/><circle cx="252.8" cy="116.1" r="2.2"/><circle cx="253.0" cy="116.3" r="2.2"/><circle cx="253.3" cy="116.1" r="2.2"/><circle cx="253.5" cy="116.2" r="2.2"/><circle cx="253.8" cy="116.2" r="2.2"/><circle cx="254.1" cy="116.2" r="2.2"/><circle cx="254.3" cy="116.3" r="2.2"/><circle cx="254.6" cy="116.3" r="2.2"/><circle cx="254.8" cy="116.3" r="2.2"/><circle cx="255.1" cy="116.2" r="2.2"/><circle cx="255.4" cy="116.4" r="2.2"/><circle cx="255.6" cy="116.0" r="2.2"/><circle cx="255.9" cy="116.3" r="2.2"/><circle cx="256.1" cy="116.2" r="2.2"/><circle cx="256.4" cy="116.3" r="2.2"/><circle cx="256.7" cy="116.4" r="2.2"/><circle cx="256.9" cy="116.0" r="2.2"/><circle cx="257.2" cy="116.4" r="2.2"/><circle cx="257.4" cy="116.5" r="2.2"/><circle cx="257.7" cy="116.4" r="2.2"/><circle cx="258.0" cy="116.4" r="2.2"/><circle cx="258.2" cy="116.0" r="2.2"/><circle cx="258.5" cy="116.3" r="2.2"/><circle cx="258.7" cy="116.2" r="2.2"/><circle cx="259.0" cy="116.5" r="2.2"/><circle cx="259.3" cy="116.3" r="2.2"/><circle cx="259.5" cy="116.2" r="2.2"/><circle cx="259.8" cy="116.0" r="2.2"/><circle cx="260.0" cy="116.4" r="2.2"/><circle cx="260.3" cy="116.2" r="2.2"/><circle cx="260.6" cy="116.3" r="2.2"/><circle cx="260.8" cy="116.5" r="2.2"/><circle cx="261.1" cy="116.3" r="2.2"/><circle cx="261.3" cy="116.4" r="2.2"/><circle cx="261.6" cy="116.7" r="2.2"/><circle cx="261.9" cy="116.2" r="2.2"/><circle cx="262.1" cy="116.2" r="2.2"/><circle cx="262.4" cy="116.4" r="2.2"/><circle cx="262.6" cy="116.5" r="2.2"/><circle cx="262.9" cy="116.1" r="2.2"/><circle cx="263.2" cy="116.3" r="2.2"/><circle cx="263.4" cy="116.1" r="2.2"/><circle cx="263.7" cy="116.1" r="2.2"/><circle cx="263.9" cy="116.4" r="2.2"/><circle cx="264.2" cy="116.2" r="2.2"/><circle cx="264.5" cy="116.4" r="2.2"/><circle cx="264.7" cy="116.3" r="2.2"/><circle cx="265.0" cy="116.3" r="2.2"/><circle cx="265.2" cy="116.3" r="2.2"/><circle cx="265.5" cy="116.1" r="2.2"/><circle cx="265.8" cy="116.3" r="2.2"/><circle cx="266.0" cy="116.3" r="2.2"/><circle cx="266.3" cy="116.4" r="2.2"/><circle cx="266.5" cy="116.3" r="2.2"/><circle cx="266.8" cy="116.5" r="2.2"/><circle cx="267.1" cy="116.4" r="2.2"/><circle cx="267.3" cy="116.3" r="2.2"/><circle cx="267.6" cy="116.4" r="2.2"/><circle cx="267.8" cy="116.3" r="2.2"/><circle cx="268.1" cy="116.4" r="2.2"/><circle cx="268.4" cy="116.0" r="2.2"/><circle cx="268.6" cy="116.1" r="2.2"/><circle cx="268.9" cy="116.2" r="2.2"/><circle cx="269.1" cy="116.3" r="2.2"/><circle cx="269.4" cy="116.0" r="2.2"/><circle cx="269.7" cy="116.3" r="2.2"/><circle cx="269.9" cy="116.3" r="2.2"/><circle cx="270.2" cy="116.3" r="2.2"/><circle cx="270.4" cy="116.3" r="2.2"/><circle cx="270.7" cy="116.1" r="2.2"/><circle cx="271.0" cy="116.3" r="2.2"/><circle cx="271.2" cy="116.0" r="2.2"/><circle cx="271.5" cy="116.5" r="2.2"/><circle cx="271.7" cy="116.2" r="2.2"/><circle cx="272.0" cy="116.5" r="2.2"/><circle cx="272.3" cy="116.0" r="2.2"/><circle cx="272.5" cy="116.4" r="2.2"/><circle cx="272.8" cy="116.3" r="2.2"/><circle cx="273.0" cy="116.2" r="2.2"/><circle cx="273.3" cy="116.1" r="2.2"/><circle cx="273.6" cy="116.5" r="2.2"/><circle cx="273.8" cy="116.4" r="2.2"/><circle cx="274.1" cy="116.6" r="2.2"/><circle cx="274.3" cy="116.3" r="2.2"/><circle cx="274.6" cy="116.3" r="2.2"/><circle cx="274.9" cy="116.4" r="2.2"/><circle cx="275.1" cy="116.4" r="2.2"/><circle cx="275.4" cy="116.4" r="2.2"/><circle cx="275.6" cy="116.4" r="2.2"/><circle cx="275.9" cy="116.2" r="2.2"/><circle cx="276.2" cy="116.1" r="2.2"/><circle cx="276.4" cy="116.6" r="2.2"/><circle cx="276.7" cy="116.3" r="2.2"/><circle cx="276.9" cy="116.4" r="2.2"/><circle cx="277.2" cy="116.2" r="2.2"/><circle cx="277.5" cy="116.5" r="2.2"/><circle cx="277.7" cy="116.3" r="2.2"/><circle cx="278.0" cy="116.5" r="2.2"/><circle cx="278.2" cy="116.2" r="2.2"/><circle cx="278.5" cy="116.3" r="2.2"/><circle cx="278.8" cy="116.3" r="2.2"/><circle cx="279.0" cy="116.3" r="2.2"/><circle cx="279.3" cy="116.4" r="2.2"/><circle cx="279.5" cy="116.6" r="2.2"/><circle cx="279.8" cy="116.2" r="2.2"/><circle cx="280.1" cy="116.3" r="2.2"/><circle cx="280.3" cy="116.3" r="2.2"/><circle cx="280.6" cy="116.2" r="2.2"/><circle cx="280.8" cy="116.1" r="2.2"/><circle cx="281.1" cy="116.5" r="2.2"/><circle cx="281.4" cy="116.5" r="2.2"/><circle cx="281.6" cy="116.1" r="2.2"/><circle cx="281.9" cy="116.1" r="2.2"/><circle cx="282.1" cy="116.4" r="2.2"/><circle cx="282.4" cy="116.5" r="2.2"/><circle cx="282.7" cy="116.4" r="2.2"/><circle cx="282.9" cy="116.4" r="2.2"/><circle cx="283.2" cy="116.6" r="2.2"/><circle cx="283.4" cy="116.3" r="2.2"/><circle cx="283.7" cy="116.5" r="2.2"/><circle cx="284.0" cy="116.5" r="2.2"/><circle cx="284.2" cy="116.2" r="2.2"/><circle cx="284.5" cy="116.4" r="2.2"/><circle cx="284.7" cy="116.3" r="2.2"/><circle cx="285.0" cy="116.2" r="2.2"/><circle cx="285.3" cy="116.2" r="2.2"/><circle cx="285.5" cy="116.4" r="2.2"/><circle cx="285.8" cy="116.3" r="2.2"/><circle cx="286.0" cy="116.5" r="2.2"/><circle cx="286.3" cy="116.0" r="2.2"/><circle cx="286.6" cy="116.2" r="2.2"/><circle cx="286.8" cy="116.5" r="2.2"/><circle cx="287.1" cy="116.3" r="2.2"/><circle cx="287.3" cy="116.2" r="2.2"/><circle cx="287.6" cy="116.2" r="2.2"/><circle cx="287.9" cy="116.0" r="2.2"/><circle cx="288.1" cy="116.1" r="2.2"/><circle cx="288.4" cy="116.4" r="2.2"/><circle cx="288.6" cy="116.3" r="2.2"/><circle cx="288.9" cy="116.5" r="2.2"/><circle cx="289.2" cy="116.3" r="2.2"/><circle cx="289.4" cy="116.3" r="2.2"/><circle cx="289.7" cy="115.9" r="2.2"/><circle cx="289.9" cy="116.3" r="2.2"/><circle cx="290.2" cy="116.7" r="2.2"/><circle cx="290.5" cy="116.4" r="2.2"/><circle cx="290.7" cy="116.3" r="2.2"/><circle cx="291.0" cy="116.5" r="2.2"/><circle cx="291.2" cy="116.5" r="2.2"/></g>
<g fill="#3465a4"><circle cx="71.3" cy="199.7" r="2.5"/><circle cx="71.5" cy="199.8" r="2.5"/><circle cx="71.8" cy="199.8" r="2.5"/><circle cx="72.1" cy="199.8" r="2.5"/><circle cx="72.3" cy="199.8" r="2.5"/><circle cx="72.6" cy="199.6" r="2.5"/><circle cx="72.8" cy="199.8" r="2.5"/><circle cx="73.1" cy="199.8" r="2.5"/><circle cx="73.4" cy="199.7" r="2.5"/><circle cx="73.6" cy="199.6" r="2.5"/><circle cx="73.9" cy="199.9" r="2.5"/><circle cx="74.1" cy="199.7" r="2.5"/><circle cx="74.4" cy="199.8" r="2.5"/><circle cx="74.7" cy="199.9" r="2.5"/><circle cx="74.9" cy="199.7" r="2.5"/><circle cx="75.2" cy="199.7" r="2.5"/><circle cx="75.4" cy="199.7" r="2.5"/><circle cx="75.7" cy="199.8" r="2.5"/><circle cx="76.0" cy="199.7" r="2.5"/><circle cx="126.4" cy="199.7" r="2.5"/><circle cx="126.7" cy="199.9" r="2.5"/><circle cx="126.9" cy="199.9" r="2.5"/><circle cx="127.2" cy="199.7" r="2.5"/><circle cx="127.4" cy="199.7" r="2.5"/><circle cx="127.7" cy="199.7" r="2.5"/><circle cx="128.0" cy="199.9" r="2.5"/><circle cx="128.2" cy="199.8" r="2.5"/><circle cx="128.5" cy="199.8" r="2.5"/><circle cx="128.7" cy="199.7" r="2.5"/><circle cx="129.0" cy="199.5" r="2.5"/><circle cx="129.3" cy="199.7" r="2.5"/><circle cx="129.5" cy="199.8" r="2.5"/><circle cx="129.8" cy="199.8" r="2.5"/><circle cx="130.0" cy="199.7" r="2.5"/><circle cx="130.3" cy="199.7" r="2.5"/><circle cx="130.6" cy="199.8" r="2.5"/><circle cx="130.8" cy="199.7" r="2.5"/><circle cx="131.1" cy="199.8" r="2.5"/><circle cx="131.3" cy="199.6" r="2.5"/><circle cx="181.5" cy="199.8" r="2.5"/><circle cx="181.8" cy="199.6" r="2.5"/><circle cx="182.0" cy="199.8" r="2.5"/><circle cx="182.3" cy="199.7" r="2.5"/><circle cx="182.6" cy="199.6" r="2.5"/><circle cx="182.8" cy="199.6" r="2.5"/><circle cx="183.1" cy="199.7" r="2.5"/><circle cx="183.3" cy="199.8" r="2.5"/><circle cx="183.6" cy="199.8" r="2.5"/><circle cx="183.9" cy="199.8" r="2.5"/><circle cx="184.1" cy="199.7" r="2.5"/><circle cx="184.4" cy="199.7" r="2.5"/><circle cx="184.6" cy="199.7" r="2.5"/><circle cx="184.9" cy="199.6" r="2.5"/><circle cx="185.2" cy="199.8" r="2.5"/><circle cx="185.4" cy="199.7" r="2.5"/><circle cx="185.7" cy="199.7" r="2.5"/><circle cx="185.9" cy="199.7" r="2.5"/><circle cx="186.2" cy="199.6" r="2.5"/><circle cx="186.5" cy="199.7" r="2.5"/><circle cx="186.7" cy="199.8" r="2.5"/><circle cx="187.0" cy="199.7" r="2.5"/><circle cx="237.4" cy="199.7" r="2.5"/><circle cx="237.7" cy="199.9" r="2.5"/><circle cx="237.9" cy="199.8" r="2.5"/><circle cx="238.2" cy="199.8" r="2.5"/><circle cx="238.5" cy="199.8" r="2.5"/><circle cx="238.7" cy="199.7" r="2.5"/><circle cx="239.0" cy="199.8" r="2.5"/><circle cx="239.2" cy="199.9" r="2.5"/><circle cx="239.5" cy="199.7" r="2.5"/><circle cx="239.8" cy="199.7" r="2.5"/><circle cx="240.0" cy="199.7" r="2.5"/><circle cx="240.3" cy="199.7" r="2.5"/><circle cx="240.5" cy="199.7" r="2.5"/><circle cx="240.8" cy="199.7" r="2.5"/></g>
<g fill="#204a87"><circle cx="291.5" cy="131.5" r="2.2"/><circle cx="291.8" cy="131.4" r="2.2"/><circle cx="292.0" cy="131.4" r="2.2"/><circle cx="292.3" cy="131.5" r="2.2"/><circle cx="292.5" cy="131.2" r="2.2"/><circle cx="292.8" cy="131.4" r="2.2"/><circle cx="293.1" cy="131.4" r="2.2"/><circle cx="293.3" cy="131.6" r="2.2"/><circle cx="293.6" cy="131.4" r="2.2"/><circle cx="293.8" cy="131.2" r="2.2"/><circle cx="294.1" cy="131.5" r="2.2"/><circle cx="294.4" cy="131.3" r="2.2"/><circle cx="294.6" cy="131.1" r="2.2"/><circle cx="294.9" cy="131.3" r="2.2"/><circle cx="295.1" cy="131.2" r="2.2"/><circle cx="295.4" cy="131.4" r="2.2"/><circle cx="295.7" cy="131.0" r="2.2"/><circle cx="295.9" cy="131.0" r="2.2"/><circle cx="296.2" cy="131.1" r="2.2"/><circle cx="296.4" cy="131.4" r="2.2"/><circle cx="296.7" cy="131.3" r="2.2"/><circle cx="297.0" cy="130.9" r="2.2"/><circle cx="297.2" cy="130.8" r="2.2"/><circle cx="297.5" cy="131.0" r="2.2"/><circle cx="297.7" cy="130.8" r="2.2"/><circle cx="298.0" cy="131.1" r="2.2"/><circle cx="298.3" cy="131.0" r="2.2"/><circle cx="298.5" cy="131.0" r="2.2"/><circle cx="298.8" cy="130.9" r="2.2"/><circle cx="299.0" cy="131.2" r="2.2"/><circle cx="299.3" cy="130.8" r="2.2"/><circle cx="299.6" cy="130.7" r="2.2"/><circle cx="299.8" cy="131.1" r="2.2"/><circle cx="300.1" cy="131.1" r="2.2"/><circle cx="300.3" cy="130.8" r="2.2"/><circle cx="300.6" cy="131.0" r="2.2"/><circle cx="300.9" cy="131.2" r="2.2"/><circle cx="301.1" cy="130.7" r="2.2"/><circle cx="301.4" cy="130.8" r="2.2"/><circle cx="301.6" cy="130.9" r="2.2"/><circle cx="301.9" cy="130.4" r="2.2"/><circle cx="302.2" cy="130.7" r="2.2"/><circle cx="302.4" cy="130.9" r="2.2"/><circle cx="302.7" cy="130.7" r="2.2"/><circle cx="302.9" cy="130.9" r="2.2"/><circle cx="303.2" cy="130.8" r="2.2"/><circle cx="303.5" cy="130.6" r="2.2"/><circle cx="303.7" cy="130.7" r="2.2"/><circle cx="304.0" cy="130.7" r="2.2"/><circle cx="304.2" cy="130.3" r="2.2"/><circle cx="304.5" cy="128.8" r="2.2"/><circle cx="304.8" cy="128.8" r="2.2"/><circle cx="305.0" cy="128.8" r="2.2"/><circle cx="305.3" cy="128.8" r="2.2"/><circle cx="305.5" cy="128.7" r="2.2"/><circle cx="305.8" cy="128.9" r="2.2"/><circle cx="306.1" cy="128.6" r="2.2"/><circle cx="306.3" cy="129.1" r="2.2"/><circle cx="306.6" cy="129.0" r="2.2"/><circle cx="306.8" cy="129.2" r="2.2"/><circle cx="307.1" cy="129.0" r="2.2"/><circle cx="307.4" cy="128.8" r="2.2"/><circle cx="307.6" cy="128.7" r="2.2"/><circle cx="307.9" cy="129.0" r="2.2"/><circle cx="308.1" cy="128.9" r="2.2"/><circle cx="308.4" cy="129.0" r="2.2"/><circle cx="308.7" cy="129.0" r="2.2"/><circle cx="308.9" cy="129.1" r="2.2"/><circle cx="309.2" cy="128.9" r="2.2"/><circle cx="309.4" cy="129.2" r="2.2"/><circle cx="309.7" cy="128.9" r="2.2"/><circle cx="310.0" cy="128.9" r="2.2"/><circle cx="310.2" cy="129.0" r="2.2"/><circle cx="310.5" cy="129.1" r="2.2"/><circle cx="310.7" cy="129.2" r="2.2"/><circle cx="311.0" cy="128.6" r="2.2"/><circle cx="311.3" cy="129.1" r="2.2"/><circle cx="311.5" cy="128.7" r="2.2"/><circle cx="311.8" cy="128.8" r="2.2"/><circle cx="312.0" cy="129.0" r="2.2"/><circle cx="312.3" cy="129.1" r="2.2"/><circle cx="312.6" cy="128.7" r="2.2"/><circle cx="312.8" cy="128.6" r="2.2"/><circle cx="313.1" cy="129.1" r="2.2"/><circle cx="313.3" cy="129.0" r="2.2"/><circle cx="313.6" cy="128.7" r="2.2"/><circle cx="313.9" cy="128.9" r="2.2"/><circle cx="314.1" cy="128.6" r="2.2"/><circle cx="314.4" cy="129.0" r="2.2"/><circle cx="314.6" cy="128.8" r="2.2"/><circle cx="314.9" cy="129.1" r="2.2"/><circle cx="315.2" cy="128.6" r="2.2"/><circle cx="315.4" cy="129.0" r="2.2"/><circle cx="315.7" cy="129.3" r="2.2"/><circle cx="315.9" cy="128.9" r="2.2"/><circle cx="316.2" cy="128.9" r="2.2"/><circle cx="316.5" cy="128.6" r="2.2"/><circle cx="316.7" cy="129.0" r="2.2"/><circle cx="317.0" cy="128.9" r="2.2"/><circle cx="317.2" cy="128.8" r="2.2"/><circle cx="317.5" cy="128.7" r="2.2"/><circle cx="317.8" cy="128.9" r="2.2"/><circle cx="318.0" cy="128.7" r="2.2"/><circle cx="318.3" cy="128.8" r="2.2"/><circle cx="318.5" cy="129.0" r="2.2"/><circle cx="318.8" cy="128.9" r="2.2"/><circle cx="319.1" cy="128.9" r="2.2"/><circle cx="319.3" cy="129.1" r="2.2"/><circle cx="319.6" cy="128.7" r="2.2"/><circle cx="319.8" cy="129.2" r="2.2"/><circle cx="320.1" cy="128.7" r="2.2"/><circle cx="320.4" cy="128.8" r="2.2"/><circle cx="320.6" cy="128.9" r="2.2"/><circle cx="320.9" cy="129.0" r="2.2"/><circle cx="321.1" cy="129.0" r="2.2"/><circle cx="321.4" cy="128.8" r="2.2"/><circle cx="321.7" cy="128.8" r="2.2"/><circle cx="321.9" cy="128.9" r="2.2"/><circle cx="322.2" cy="128.8" r="2.2"/><circle cx="322.4" cy="129.0" r="2.2"/><circle cx="322.7" cy="128.9" r="2.2"/><circle cx="323.0" cy="129.2" r="2.2"/><circle cx="323.2" cy="128.8" r="2.2"/><circle cx="323.5" cy="128.9" r="2.2"/><circle cx="323.7" cy="129.0" r="2.2"/><circle cx="324.0" cy="128.7" r="2.2"/><circle cx="324.3" cy="128.8" r="2.2"/><circle cx="324.5" cy="129.4" r="2.2"/><circle cx="324.8" cy="128.9" r="2.2"/><circle cx="325.0" cy="129.2" r="2.2"/><circle cx="325.3" cy="128.7" r="2.2"/><circle cx="325.6" cy="128.5" r="2.2"/><circle cx="325.8" cy="129.0" r="2.2"/><circle cx="326.1" cy="128.9" r="2.2"/><circle cx="326.3" cy="129.0" r="2.2"/><circle cx="326.6" cy="128.9" r="2.2"/><circle cx="326.9" cy="128.8" r="2.2"/><circle cx="327.1" cy="128.7" r="2.2"/><circle cx="327.4" cy="129.1" r="2.2"/><circle cx="327.6" cy="128.7" r="2.2"/><circle cx="327.9" cy="129.1" r="2.2"/><circle cx="328.2" cy="128.9" r="2.2"/><circle cx="328.4" cy="128.7" r="2.2"/><circle cx="328.7" cy="128.8" r="2.2"/><circle cx="328.9" cy="129.1" r="2.2"/><circle cx="329.2" cy="129.0" r="2.2"/><circle cx="329.5" cy="129.0" r="2.2"/><circle cx="329.7" cy="128.9" r="2.2"/><circle cx="330.0" cy="128.7" r="2.2"/><circle cx="330.2" cy="129.1" r="2.2"/><circle cx="330.5" cy="128.8" r="2.2"/><circle cx="330.8" cy="128.8" r="2.2"/><circle cx="331.0" cy="128.8" r="2.2"/><circle cx="331.3" cy="128.8" r="2.2"/><circle cx="331.5" cy="128.7" r="2.2"/><circle cx="331.8" cy="128.8" r="2.2"/><circle cx="332.1" cy="128.8" r="2.2"/><circle cx="332.3" cy="128.8" r="2.2"/><circle cx="332.6" cy="128.6" r="2.2"/><circle cx="332.8" cy="129.2" r="2.2"/><circle cx="333.1" cy="128.7" r="2.2"/><circle cx="333.4" cy="129.0" r="2.2"/><circle cx="333.6" cy="129.0" r="2.2"/><circle cx="333.9" cy="129.1" r="2.2"/><circle cx="334.1" cy="129.2" r="2.2"/><circle cx="334.4" cy="129.0" r="2.2"/><circle cx="334.7" cy="129.0" r="2.2"/><circle cx="334.9" cy="128.8" r="2.2"/><circle cx="335.2" cy="129.2" r="2.2"/><circle cx="335.4" cy="128.7" r="2.2"/><circle cx="335.7" cy="128.9" r="2.2"/><circle cx="336.0" cy="129.0" r="2.2"/><circle cx="336.2" cy="129.0" r="2.2"/><circle cx="336.5" cy="129.1" r="2.2"/><circle cx="336.7" cy="129.1" r="2.2"/><circle cx="337.0" cy="129.0" r="2.2"/><circle cx="337.3" cy="128.9" r="2.2"/><circle cx="337.5" cy="128.9" r="2.2"/><circle cx="337.8" cy="129.2" r="2.2"/><circle cx="338.0" cy="129.0" r="2.2"/><circle cx="338.3" cy="129.1" r="2.2"/><circle cx="338.6" cy="128.9" r="2.2"/><circle cx="338.8" cy="128.6" r="2.2"/><circle cx="339.1" cy="128.8" r="2.2"/><circle cx="339.3" cy="129.0" r="2.2"/><circle cx="339.6" cy="129.2" r="2.2"/><circle cx="339.9" cy="129.2" r="2.2"/><circle cx="340.1" cy="129.2" r="2.2"/><circle cx="340.4" cy="128.8" r="2.2"/><circle cx="340.6" cy="129.0" r="2.2"/><circle cx="340.9" cy="128.9" r="2.2"/><circle cx="341.2" cy="129.0" r="2.2"/><circle cx="341.4" cy="128.9" r="2.2"/><circle cx="341.7" cy="128.7" r="2.2"/><circle cx="341.9" cy="129.0" r="2.2"/><circle cx="342.2" cy="129.0" r="2.2"/><circle cx="342.5" cy="129.1" r="2.2"/><circle cx="342.7" cy="128.8" r="2.2"/><circle cx="343.0" cy="129.1" r="2.2"/><circle cx="343.2" cy="129.1" r="2.2"/><circle cx="343.5" cy="129.2" r="2.2"/><circle cx="343.8" cy="129.2" r="2.2"/><circle cx="344.0" cy="128.8" r="2.2"/><circle cx="344.3" cy="128.5" r="2.2"/><circle cx="344.5" cy="129.1" r="2.2"/><circle cx="344.8" cy="128.8" r="2.2"/><circle cx="345.1" cy="128.9" r="2.2"/><circle cx="345.3" cy="129.1" r="2.2"/><circle cx="345.6" cy="129.0" r="2.2"/><circle cx="345.8" cy="129.0" r="2.2"/><circle cx="346.1" cy="129.0" r="2.2"/><circle cx="346.4" cy="128.6" r="2.2"/><circle cx="346.6" cy="129.2" r="2.2"/><circle cx="346.9" cy="128.9" r="2.2"/><circle cx="347.1" cy="128.9" r="2.2"/><circle cx="347.4" cy="129.0" r="2.2"/><circle cx="347.7" cy="128.9" r="2.2"/><circle cx="347.9" cy="128.8" r="2.2"/><circle cx="348.2" cy="128.9" r="2.2"/><circle cx="348.4" cy="128.8" r="2.2"/><circle cx="348.7" cy="128.8" r="2.2"/><circle cx="349.0" cy="129.3" r="2.2"/><circle cx="349.2" cy="128.7" r="2.2"/><circle cx="349.5" cy="128.5" r="2.2"/><circle cx="349.7" cy="128.8" r="2.2"/><circle cx="350.0" cy="128.7" r="2.2"/><circle cx="350.3" cy="129.2" r="2.2"/><circle cx="350.5" cy="128.9" r="2.2"/><circle cx="350.8" cy="129.1" r="2.2"/><circle cx="351.0" cy="129.0" r="2.2"/><circle cx="351.3" cy="128.8" r="2.2"/><circle cx="351.6" cy="129.1" r="2.2"/><circle cx="351.8" cy="128.9" r="2.2"/><circle cx="352.1" cy="129.2" r="2.2"/><circle cx="352.3" cy="128.9" r="2.2"/><circle cx="352.6" cy="128.9" r="2.2"/><circle cx="352.9" cy="129.0" r="2.2"/><circle cx="353.1" cy="129.0" r="2.2"/><circle cx="353.4" cy="128.6" r="2.2"/><circle cx="353.6" cy="129.1" r="2.2"/><circle cx="353.9" cy="129.1" r="2.2"/><circle cx="354.2" cy="129.1" r="2.2"/><circle cx="354.4" cy="128.7" r="2.2"/><circle cx="354.7" cy="128.6" r="2.2"/><circle cx="354.9" cy="128.9" r="2.2"/><circle cx="355.2" cy="129.0" r="2.2"/><circle cx="355.5" cy="129.0" r="2.2"/><circle cx="355.7" cy="128.7" r="2.2"/><circle cx="356.0" cy="129.1" r="2.2"/><circle cx="356.2" cy="128.7" r="2.2"/><circle cx="356.5" cy="128.7" r="2.2"/><circle cx="356.8" cy="128.9" r="2.2"/><circle cx="357.0" cy="128.8" r="2.2"/><circle cx="357.3" cy="128.8" r="2.2"/><circle cx="357.5" cy="128.7" r="2.2"/><circle cx="357.8" cy="129.1" r="2.2"/><circle cx="358.1" cy="128.7" r="2.2"/><circle cx="358.3" cy="129.0" r="2.2"/><circle cx="358.6" cy="129.0" r="2.2"/><circle cx="358.8" cy="128.9" r="2.2"/><circle cx="359.1" cy="129.0" r="2.2"/><circle cx="359.4" cy="129.1" r="2.2"/><circle cx="359.6" cy="129.2" r="2.2"/><circle cx="359.9" cy="129.1" r="2.2"/><circle cx="360.1" cy="128.7" r="2.2"/><circle cx="360.4" cy="128.6" r="2.2"/><circle cx="360.7" cy="128.8" r="2.2"/><circle cx="360.9" cy="128.7" r="2.2"/><circle cx="361.2" cy="129.0" r="2.2"/><circle cx="361.4" cy="128.9" r="2.2"/><circle cx="361.7" cy="128.9" r="2.2"/><circle cx="362.0" cy="129.1" r="2.2"/><circle cx="362.2" cy="129.1" r="2.2"/><circle cx="362.5" cy="128.9" r="2.2"/><circle cx="362.7" cy="129.0" r="2.2"/><circle cx="363.0" cy="129.1" r="2.2"/><circle cx="363.3" cy="128.9" r="2.2"/><circle cx="363.5" cy="129.0" r="2.2"/><circle cx="363.8" cy="128.7" r="2.2"/><circle cx="364.0" cy="128.9" r="2.2"/><circle cx="364.3" cy="129.0" r="2.2"/><circle cx="364.6" cy="128.9" r="2.2"/><circle cx="364.8" cy="128.9" r="2.2"/><circle cx="365.1" cy="129.0" r="2.2"/><circle cx="365.3" cy="129.0" r="2.2"/><circle cx="365.6" cy="128.8" r="2.2"/><circle cx="365.9" cy="128.8" r="2.2"/><circle cx="366.1" cy="128.7" r="2.2"/><circle cx="366.4" cy="129.2" r="2.2"/><circle cx="366.6" cy="129.0" r="2.2"/><circle cx="366.9" cy="129.0" r="2.2"/><circle cx="367.2" cy="128.9" r="2.2"/><circle cx="367.4" cy="129.0" r="2.2"/><circle cx="367.7" cy="129.0" r="2.2"/><circle cx="367.9" cy="128.8" r="2.2"/><circle cx="368.2" cy="128.9" r="2.2"/><circle cx="368.5" cy="129.1" r="2.2"/><circle cx="368.7" cy="128.7" r="2.2"/><circle cx="369.0" cy="128.8" r="2.2"/><circle cx="369.2" cy="129.0" r="2.2"/><circle cx="369.5" cy="128.8" r="2.2"/><circle cx="369.8" cy="129.0" r="2.2"/><circle cx="370.0" cy="128.7" r="2.2"/><circle cx="370.3" cy="129.0" r="2.2"/><circle cx="370.5" cy="129.1" r="2.2"/><circle cx="370.8" cy="129.0" r="2.2"/><circle cx="371.1" cy="129.0" r="2.2"/><circle cx="371.3" cy="128.9" r="2.2"/><circle cx="371.6" cy="128.9" r="2.2"/><circle cx="371.8" cy="128.9" r="2.2"/><circle cx="372.1" cy="129.0" r="2.2"/><circle cx="372.4" cy="129.5" r="2.2"/><circle cx="372.6" cy="128.9" r="2.2"/><circle cx="372.9" cy="129.2" r="2.2"/><circle cx="373.1" cy="128.9" r="2.2"/><circle cx="373.4" cy="128.7" r="2.2"/><circle cx="373.7" cy="128.9" r="2.2"/><circle cx="373.9" cy="129.0" r="2.2"/><circle cx="374.2" cy="129.0" r="2.2"/><circle cx="374.4" cy="128.9" r="2.2"/><circle cx="374.7" cy="129.0" r="2.2"/><circle cx="375.0" cy="129.0" r="2.2"/><circle cx="375.2" cy="129.1" r="2.2"/><circle cx="375.5" cy="128.7" r="2.2"/><circle cx="375.7" cy="128.9" r="2.2"/><circle cx="376.0" cy="128.8" r="2.2"/><circle cx="376.3" cy="129.0" r="2.2"/><circle cx="376.5" cy="128.9" r="2.2"/><circle cx="376.8" cy="128.9" r="2.2"/><circle cx="377.0" cy="128.8" r="2.2"/><circle cx="377.3" cy="128.8" r="2.2"/><circle cx="377.6" cy="128.9" r="2.2"/><circle cx="377.8" cy="129.0" r="2.2"/><circle cx="378.1" cy="129.1" r="2.2"/><circle cx="378.3" cy="128.6" r="2.2"/><circle cx="378.6" cy="129.0" r="2.2"/><circle cx="378.9" cy="129.0" r="2.2"/><circle cx="379.1" cy="128.7" r="2.2"/><circle cx="379.4" cy="128.7" r="2.2"/><circle cx="379.6" cy="128.8" r="2.2"/><circle cx="379.9" cy="129.0" r="2.2"/><circle cx="380.2" cy="128.5" r="2.2"/><circle cx="380.4" cy="128.9" r="2.2"/><circle cx="380.7" cy="128.8" r="2.2"/><circle cx="380.9" cy="128.9" r="2.2"/><circle cx="381.2" cy="129.2" r="2.2"/><circle cx="381.5" cy="129.1" r="2.2"/><circle cx="381.7" cy="128.9" r="2.2"/><circle cx="382.0" cy="128.9" r="2.2"/><circle cx="382.2" cy="129.0" r="2.2"/><circle cx="382.5" cy="129.1" r="2.2"/><circle cx="382.8" cy="129.2" r="2.2"/><circle cx="383.0" cy="129.0" r="2.2"/><circle cx="383.3" cy="129.2" r="2.2"/><circle cx="383.5" cy="128.8" r="2.2"/><circle cx="383.8" cy="128.7" r="2.2"/><circle cx="384.1" cy="128.4" r="2.2"/><circle cx="384.3" cy="128.8" r="2.2"/><circle cx="384.6" cy="129.0" r="2.2"/><circle cx="384.8" cy="129.1" r="2.2"/><circle cx="385.1" cy="129.5" r="2.2"/><circle cx="385.4" cy="129.0" r="2.2"/><circle cx="385.6" cy="128.9" r="2.2"/><circle cx="385.9" cy="128.8" r="2.2"/><circle cx="386.1" cy="128.8" r="2.2"/><circle cx="386.4" cy="128.8" r="2.2"/><circle cx="386.7" cy="128.9" r="2.2"/><circle cx="386.9" cy="128.8" r="2.2"/><circle cx="387.2" cy="128.7" r="2.2"/><circle cx="387.4" cy="129.1" r="2.2"/><circle cx="387.7" cy="129.0" r="2.2"/><circle cx="388.0" cy="129.2" r="2.2"/><circle cx="388.2" cy="128.6" r="2.2"/><circle cx="388.5" cy="128.7" r="2.2"/><circle cx="388.7" cy="128.8" r="2.2"/><circle cx="389.0" cy="129.1" r="2.2"/><circle cx="389.3" cy="128.9" r="2.2"/><circle cx="389.5" cy="129.0" r="2.2"/><circle cx="389.8" cy="128.9" r="2.2"/><circle cx="390.0" cy="129.0" r="2.2"/><circle cx="390.3" cy="128.8" r="2.2"/><circle cx="390.6" cy="129.0" r="2.2"/><circle cx="390.8" cy="128.8" r="2.2"/><circle cx="391.1" cy="128.9" r="2.2"/><circle cx="391.3" cy="129.0" r="2.2"/><circle cx="391.6" cy="128.9" r="2.2"/><circle cx="391.9" cy="129.0" r="2.2"/><circle cx="392.1" cy="128.8" r="2.2"/><circle cx="392.4" cy="129.0" r="2.2"/><circle cx="392.6" cy="128.9" r="2.2"/><circle cx="392.9" cy="129.0" r="2.2"/><circle cx="393.2" cy="129.2" r="2.2"/><circle cx="393.4" cy="128.8" r="2.2"/><circle cx="393.7" cy="129.1" r="2.2"/><circle cx="393.9" cy="128.8" r="2.2"/><circle cx="394.2" cy="128.8" r="2.2"/><circle cx="394.5" cy="129.2" r="2.2"/><circle cx="394.7" cy="129.1" r="2.2"/><circle cx="395.0" cy="129.0" r="2.2"/><circle cx="395.2" cy="129.1" r="2.2"/><circle cx="395.5" cy="129.1" r="2.2"/><circle cx="395.8" cy="128.8" r="2.2"/><circle cx="396.0" cy="129.0" r="2.2"/><circle cx="396.3" cy="128.9" r="2.2"/><circle cx="396.5" cy="129.0" r="2.2"/><circle cx="396.8" cy="128.9" r="2.2"/><circle cx="397.1" cy="129.0" r="2.2"/><circle cx="397.3" cy="128.9" r="2.2"/><circle cx="397.6" cy="128.8" r="2.2"/><circle cx="397.8" cy="128.9" r="2.2"/><circle cx="398.1" cy="129.0" r="2.2"/><circle cx="398.4" cy="129.1" r="2.2"/><circle cx="398.6" cy="128.9" r="2.2"/><circle cx="398.9" cy="128.9" r="2.2"/><circle cx="399.1" cy="129.0" r="2.2"/><circle cx="399.4" cy="129.0" r="2.2"/><circle cx="399.7" cy="128.8" r="2.2"/><circle cx="399.9" cy="128.5" r="2.2"/><circle cx="400.2" cy="129.0" r="2.2"/><circle cx="400.4" cy="128.9" r="2.2"/><circle cx="400.7" cy="128.9" r="2.2"/><circle cx="401.0" cy="129.4" r="2.2"/><circle cx="401.2" cy="128.9" r="2.2"/><circle cx="401.5" cy="129.0" r="2.2"/><circle cx="401.7" cy="128.7" r="2.2"/><circle cx="402.0" cy="129.0" r="2.2"/><circle cx="402.3" cy="129.1" r="2.2"/><circle cx="402.5" cy="129.0" r="2.2"/><circle cx="402.8" cy="128.9" r="2.2"/><circle cx="403.0" cy="129.0" r="2.2"/><circle cx="403.3" cy="128.9" r="2.2"/><circle cx="403.6" cy="129.1" r="2.2"/><circle cx="403.8" cy="129.0" r="2.2"/><circle cx="404.1" cy="128.8" r="2.2"/><circle cx="404.3" cy="128.6" r="2.2"/><circle cx="404.6" cy="128.8" r="2.2"/><circle cx="404.9" cy="128.9" r="2.2"/><circle cx="405.1" cy="128.7" r="2.2"/><circle cx="405.4" cy="128.7" r="2.2"/><circle cx="405.6" cy="128.6" r="2.2"/><circle cx="405.9" cy="128.7" r="2.2"/><circle cx="406.2" cy="128.9" r="2.2"/><circle cx="406.4" cy="128.9" r="2.2"/><circle cx="406.7" cy="128.9" r="2.2"/><circle cx="406.9" cy="128.9" r="2.2"/><circle cx="407.2" cy="128.9" r="2.2"/><circle cx="407.5" cy="129.1" r="2.2"/><circle cx="407.7" cy="129.3" r="2.2"/><circle cx="408.0" cy="129.0" r="2.2"/><circle cx="408.2" cy="129.3" r="2.2"/><circle cx="408.5" cy="128.9" r="2.2"/><circle cx="408.8" cy="128.9" r="2.2"/><circle cx="409.0" cy="129.2" r="2.2"/><circle cx="409.3" cy="128.8" r="2.2"/><circle cx="409.5" cy="128.8" r="2.2"/><circle cx="409.8" cy="128.9" r="2.2"/><circle cx="410.1" cy="128.6" r="2.2"/><circle cx="410.3" cy="128.6" r="2.2"/><circle cx="410.6" cy="129.1" r="2.2"/><circle cx="410.8" cy="128.7" r="2.2"/><circle cx="411.1" cy="128.8" r="2.2"/><circle cx="411.4" cy="128.8" r="2.2"/><circle cx="411.6" cy="128.8" r="2.2"/><circle cx="411.9" cy="129.0" r="2.2"/><circle cx="412.1" cy="129.0" r="2.2"/><circle cx="412.4" cy="129.1" r="2.2"/><circle cx="412.7" cy="129.0" r="2.2"/><circle cx="412.9" cy="128.9" r="2.2"/><circle cx="413.2" cy="129.2" r="2.2"/><circle cx="413.4" cy="129.1" r="2.2"/><circle cx="413.7" cy="128.8" r="2.2"/><circle cx="414.0" cy="128.9" r="2.2"/><circle cx="414.2" cy="128.9" r="2.2"/><circle cx="414.5" cy="129.2" r="2.2"/><circle cx="414.7" cy="129.1" r="2.2"/><circle cx="415.0" cy="129.0" r="2.2"/><circle cx="415.3" cy="128.9" r="2.2"/><circle cx="415.5" cy="129.0" r="2.2"/><circle cx="415.8" cy="128.8" r="2.2"/><circle cx="416.0" cy="128.9" r="2.2"/><circle cx="416.3" cy="128.9" r="2.2"/><circle cx="416.6" cy="128.9" r="2.2"/><circle cx="416.8" cy="128.8" r="2.2"/><circle cx="417.1" cy="129.0" r="2.2"/><circle cx="417.3" cy="128.7" r="2.2"/><circle cx="417.6" cy="128.8" r="2.2"/><circle cx="417.9" cy="128.9" r="2.2"/><circle cx="418.1" cy="128.9" r="2.2"/><circle cx="418.4" cy="128.8" r="2.2"/><circle cx="418.6" cy="128.7" r="2.2"/><circle cx="418.9" cy="128.8" r="2.2"/><circle cx="419.2" cy="128.9" r="2.2"/><circle cx="419.4" cy="128.8" r="2.2"/><circle cx="419.7" cy="128.9" r="2.2"/><circle cx="419.9" cy="128.7" r="2.2"/><circle cx="420.2" cy="128.9" r="2.2"/><circle cx="420.5" cy="129.3" r="2.2"/><circle cx="420.7" cy="128.7" r="2.2"/><circle cx="421.0" cy="128.9" r="2.2"/><circle cx="421.2" cy="129.1" r="2.2"/><circle cx="421.5" cy="129.0" r="2.2"/><circle cx="421.8" cy="129.1" r="2.2"/><circle cx="422.0" cy="128.6" r="2.2"/><circle cx="422.3" cy="128.8" r="2.2"/><circle cx="422.5" cy="129.2" r="2.2"/><circle cx="422.8" cy="128.8" r="2.2"/><circle cx="423.1" cy="129.0" r="2.2"/><circle cx="423.3" cy="128.6" r="2.2"/><circle cx="423.6" cy="129.1" r="2.2"/><circle cx="423.8" cy="129.3" r="2.2"/><circle cx="424.1" cy="128.9" r="2.2"/><circle cx="424.4" cy="129.0" r="2.2"/><circle cx="424.6" cy="129.0" r="2.2"/><circle cx="424.9" cy="129.3" r="2.2"/><circle cx="425.1" cy="128.8" r="2.2"/><circle cx="425.4" cy="128.6" r="2.2"/><circle cx="425.7" cy="129.2" r="2.2"/><circle cx="425.9" cy="128.7" r="2.2"/><circle cx="426.2" cy="129.0" r="2.2"/><circle cx="426.4" cy="128.5" r="2.2"/><circle cx="426.7" cy="128.8" r="2.2"/><circle cx="427.0" cy="129.0" r="2.2"/><circle cx="427.2" cy="128.7" r="2.2"/><circle cx="427.5" cy="128.8" r="2.2"/><circle cx="427.7" cy="129.0" r="2.2"/><circle cx="428.0" cy="128.8" r="2.2"/><circle cx="428.3" cy="129.0" r="2.2"/><circle cx="428.5" cy="129.2" r="2.2"/><circle cx="428.8" cy="128.6" r="2.2"/><circle cx="429.0" cy="129.0" r="2.2"/><circle cx="429.3" cy="129.0" r="2.2"/><circle cx="429.6" cy="128.9" r="2.2"/><circle cx="429.8" cy="129.2" r="2.2"/><circle cx="430.1" cy="129.1" r="2.2"/><circle cx="430.3" cy="129.0" r="2.2"/><circle cx="430.6" cy="129.0" r="2.2"/><circle cx="430.9" cy="128.9" r="2.2"/><circle cx="431.1" cy="128.7" r="2.2"/><circle cx="431.4" cy="129.0" r="2.2"/><circle cx="431.6" cy="128.8" r="2.2"/><circle cx="431.9" cy="128.8" r="2.2"/><circle cx="432.2" cy="129.1" r="2.2"/><circle cx="432.4" cy="128.9" r="2.2"/><circle cx="432.7" cy="129.1" r="2.2"/><circle cx="432.9" cy="128.7" r="2.2"/><circle cx="433.2" cy="128.8" r="2.2"/><circle cx="433.5" cy="128.9" r="2.2"/><circle cx="433.7" cy="129.1" r="2.2"/><circle cx="434.0" cy="128.9" r="2.2"/><circle cx="434.2" cy="129.0" r="2.2"/><circle cx="434.5" cy="128.8" r="2.2"/><circle cx="434.8" cy="128.9" r="2.2"/><circle cx="435.0" cy="129.1" r="2.2"/><circle cx="435.3" cy="128.8" r="2.2"/><circle cx="435.5" cy="128.8" r="2.2"/><circle cx="435.8" cy="129.0" r="2.2"/><circle cx="436.1" cy="128.7" r="2.2"/><circle cx="436.3" cy="129.0" r="2.2"/><circle cx="436.6" cy="129.0" r="2.2"/><circle cx="436.8" cy="128.9" r="2.2"/><circle cx="437.1" cy="129.0" r="2.2"/><circle cx="437.4" cy="129.0" r="2.2"/><circle cx="437.6" cy="128.9" r="2.2"/><circle cx="437.9" cy="128.7" r="2.2"/><circle cx="438.1" cy="128.7" r="2.2"/><circle cx="438.4" cy="129.0" r="2.2"/><circle cx="438.7" cy="128.6" r="2.2"/><circle cx="438.9" cy="128.9" r="2.2"/><circle cx="439.2" cy="128.9" r="2.2"/><circle cx="439.4" cy="128.8" r="2.2"/><circle cx="439.7" cy="128.9" r="2.2"/><circle cx="440.0" cy="128.5" r="2.2"/><circle cx="440.2" cy="128.9" r="2.2"/><circle cx="440.5" cy="129.1" r="2.2"/><circle cx="440.7" cy="128.7" r="2.2"/><circle cx="441.0" cy="129.0" r="2.2"/><circle cx="441.3" cy="129.0" r="2.2"/><circle cx="441.5" cy="129.4" r="2.2"/><circle cx="441.8" cy="128.8" r="2.2"/><circle cx="442.0" cy="128.8" r="2.2"/><circle cx="442.3" cy="128.8" r="2.2"/><circle cx="442.6" cy="128.8" r="2.2"/><circle cx="442.8" cy="128.6" r="2.2"/><circle cx="443.1" cy="128.9" r="2.2"/><circle cx="443.3" cy="128.8" r="2.2"/><circle cx="443.6" cy="129.0" r="2.2"/><circle cx="443.9" cy="129.0" r="2.2"/><circle cx="444.1" cy="128.7" r="2.2"/><circle cx="444.4" cy="128.9" r="2.2"/><circle cx="444.6" cy="129.1" r="2.2"/><circle cx="444.9" cy="128.9" r="2.2"/><circle cx="445.2" cy="129.0" r="2.2"/><circle cx="445.4" cy="129.1" r="2.2"/><circle cx="445.7" cy="128.8" r="2.2"/><circle cx="445.9" cy="129.0" r="2.2"/><circle cx="446.2" cy="129.2" r="2.2"/><circle cx="446.5" cy="129.1" r="2.2"/><circle cx="446.7" cy="128.6" r="2.2"/><circle cx="447.0" cy="129.2" r="2.2"/><circle cx="447.2" cy="128.9" r="2.2"/><circle cx="447.5" cy="128.8" r="2.2"/><circle cx="447.8" cy="128.8" r="2.2"/><circle cx="448.0" cy="129.1" r="2.2"/><circle cx="448.3" cy="129.0" r="2.2"/><circle cx="448.5" cy="128.9" r="2.2"/><circle cx="448.8" cy="128.8" r="2.2"/><circle cx="449.1" cy="129.0" r="2.2"/><circle cx="449.3" cy="129.1" r="2.2"/><circle cx="449.6" cy="128.8" r="2.2"/><circle cx="449.8" cy="128.7" r="2.2"/><circle cx="450.1" cy="128.9" r="2.2"/><circle cx="450.4" cy="129.0" r="2.2"/><circle cx="450.6" cy="128.9" r="2.2"/><circle cx="450.9" cy="128.9" r="2.2"/><circle cx="451.1" cy="128.8" r="2.2"/><circle cx="451.4" cy="129.1" r="2.2"/><circle cx="451.7" cy="128.9" r="2.2"/><circle cx="451.9" cy="128.9" r="2.2"/><circle cx="452.2" cy="129.1" r="2.2"/><circle cx="452.4" cy="128.9" r="2.2"/><circle cx="452.7" cy="128.9" r="2.2"/><circle cx="453.0" cy="129.0" r="2.2"/><circle cx="453.2" cy="128.9" r="2.2"/><circle cx="453.5" cy="129.2" r="2.2"/><circle cx="453.7" cy="128.9" r="2.2"/><circle cx="454.0" cy="128.8" r="2.2"/><circle cx="454.3" cy="128.9" r="2.2"/><circle cx="454.5" cy="128.7" r="2.2"/><circle cx="454.8" cy="129.1" r="2.2"/><circle cx="455.0" cy="129.2" r="2.2"/><circle cx="455.3" cy="128.9" r="2.2"/><circle cx="455.6" cy="128.8" r="2.2"/><circle cx="455.8" cy="128.6" r="2.2"/><circle cx="456.1" cy="128.8" r="2.2"/><circle cx="456.3" cy="129.1" r="2.2"/><circle cx="456.6" cy="128.8" r="2.2"/><circle cx="456.9" cy="129.1" r="2.2"/><circle cx="457.1" cy="129.2" r="2.2"/><circle cx="457.4" cy="128.5" r="2.2"/><circle cx="457.6" cy="128.9" r="2.2"/><circle cx="457.9" cy="128.8" r="2.2"/><circle cx="458.2" cy="128.8" r="2.2"/><circle cx="458.4" cy="128.6" r="2.2"/><circle cx="458.7" cy="128.9" r="2.2"/><circle cx="458.9" cy="128.7" r="2.2"/><circle cx="459.2" cy="129.1" r="2.2"/><circle cx="459.5" cy="129.2" r="2.2"/><circle cx="459.7" cy="128.7" r="2.2"/><circle cx="460.0" cy="128.7" r="2.2"/><circle cx="460.2" cy="128.8" r="2.2"/><circle cx="460.5" cy="128.9" r="2.2"/><circle cx="460.8" cy="128.9" r="2.2"/><circle cx="461.0" cy="129.0" r="2.2"/><circle cx="461.3" cy="128.7" r="2.2"/><circle cx="461.5" cy="128.8" r="2.2"/><circle cx="461.8" cy="128.8" r="2.2"/><circle cx="462.1" cy="128.9" r="2.2"/><circle cx="462.3" cy="128.7" r="2.2"/><circle cx="462.6" cy="128.8" r="2.2"/><circle cx="462.8" cy="128.8" r="2.2"/><circle cx="463.1" cy="129.1" r="2.2"/><circle cx="463.4" cy="128.8" r="2.2"/><circle cx="463.6" cy="128.6" r="2.2"/><circle cx="463.9" cy="129.0" r="2.2"/><circle cx="464.1" cy="128.9" r="2.2"/><circle cx="464.4" cy="128.8" r="2.2"/><circle cx="464.7" cy="128.8" r="2.2"/><circle cx="464.9" cy="128.8" r="2.2"/><circle cx="465.2" cy="129.2" r="2.2"/><circle cx="465.4" cy="128.8" r="2.2"/><circle cx="465.7" cy="129.1" r="2.2"/><circle cx="466.0" cy="129.1" r="2.2"/><circle cx="466.2" cy="128.8" r="2.2"/><circle cx="466.5" cy="129.0" r="2.2"/><circle cx="466.7" cy="128.8" r="2.2"/><circle cx="467.0" cy="128.4" r="2.2"/><circle cx="467.3" cy="128.8" r="2.2"/><circle cx="467.5" cy="128.8" r="2.2"/><circle cx="467.8" cy="129.1" r="2.2"/><circle cx="468.0" cy="129.0" r="2.2"/><circle cx="468.3" cy="129.1" r="2.2"/><circle cx="468.6" cy="129.0" r="2.2"/><circle cx="468.8" cy="129.1" r="2.2"/><circle cx="469.1" cy="129.0" r="2.2"/><circle cx="469.3" cy="129.0" r="2.2"/><circle cx="469.6" cy="129.1" r="2.2"/><circle cx="469.9" cy="129.2" r="2.2"/><circle cx="470.1" cy="129.1" r="2.2"/><circle cx="470.4" cy="128.8" r="2.2"/><circle cx="470.6" cy="128.9" r="2.2"/><circle cx="470.9" cy="128.7" r="2.2"/><circle cx="471.2" cy="128.7" r="2.2"/><circle cx="471.4" cy="129.0" r="2.2"/><circle cx="471.7" cy="128.8" r="2.2"/><circle cx="471.9" cy="129.2" r="2.2"/><circle cx="472.2" cy="128.5" r="2.2"/><circle cx="472.5" cy="128.7" r="2.2"/><circle cx="472.7" cy="129.0" r="2.2"/><circle cx="473.0" cy="129.1" r="2.2"/><circle cx="473.2" cy="128.9" r="2.2"/><circle cx="473.5" cy="129.2" r="2.2"/><circle cx="473.8" cy="129.1" r="2.2"/><circle cx="474.0" cy="128.8" r="2.2"/><circle cx="474.3" cy="128.9" r="2.2"/><circle cx="474.5" cy="129.0" r="2.2"/><circle cx="474.8" cy="128.8" r="2.2"/><circle cx="475.1" cy="129.1" r="2.2"/><circle cx="475.3" cy="128.9" r="2.2"/><circle cx="475.6" cy="129.0" r="2.2"/><circle cx="475.8" cy="129.1" r="2.2"/><circle cx="476.1" cy="128.8" r="2.2"/><circle cx="476.4" cy="129.1" r="2.2"/><circle cx="476.6" cy="128.6" r="2.2"/><circle cx="476.9" cy="129.0" r="2.2"/><circle cx="477.1" cy="128.6" r="2.2"/><circle cx="477.4" cy="129.1" r="2.2"/><circle cx="477.7" cy="128.8" r="2.2"/><circle cx="477.9" cy="129.1" r="2.2"/><circle cx="478.2" cy="129.1" r="2.2"/><circle cx="478.4" cy="128.9" r="2.2"/><circle cx="478.7" cy="128.8" r="2.2"/><circle cx="479.0" cy="129.1" r="2.2"/><circle cx="479.2" cy="128.7" r="2.2"/><circle cx="479.5" cy="129.1" r="2.2"/><circle cx="479.7" cy="128.9" r="2.2"/><circle cx="480.0" cy="128.9" r="2.2"/><circle cx="480.3" cy="128.8" r="2.2"/><circle cx="480.5" cy="129.2" r="2.2"/><circle cx="480.8" cy="128.6" r="2.2"/><circle cx="481.0" cy="128.8" r="2.2"/><circle cx="481.3" cy="129.0" r="2.2"/><circle cx="481.6" cy="129.1" r="2.2"/><circle cx="481.8" cy="129.2" r="2.2"/><circle cx="482.1" cy="129.1" r="2.2"/><circle cx="482.3" cy="128.8" r="2.2"/><circle cx="482.6" cy="129.0" r="2.2"/><circle cx="482.9" cy="129.1" r="2.2"/><circle cx="483.1" cy="129.0" r="2.2"/><circle cx="483.4" cy="128.7" r="2.2"/><circle cx="483.6" cy="129.0" r="2.2"/><circle cx="483.9" cy="129.0" r="2.2"/><circle cx="484.2" cy="128.7" r="2.2"/><circle cx="484.4" cy="128.8" r="2.2"/><circle cx="484.7" cy="128.9" r="2.2"/><circle cx="484.9" cy="129.0" r="2.2"/><circle cx="485.2" cy="129.2" r="2.2"/><circle cx="485.5" cy="129.1" r="2.2"/><circle cx="485.7" cy="129.0" r="2.2"/><circle cx="486.0" cy="129.0" r="2.2"/><circle cx="486.2" cy="128.9" r="2.2"/><circle cx="486.5" cy="128.8" r="2.2"/><circle cx="486.8" cy="128.9" r="2.2"/><circle cx="487.0" cy="128.9" r="2.2"/><circle cx="487.3" cy="129.1" r="2.2"/><circle cx="487.5" cy="129.3" r="2.2"/><circle cx="487.8" cy="129.0" r="2.2"/><circle cx="488.1" cy="129.1" r="2.2"/><circle cx="488.3" cy="129.0" r="2.2"/><circle cx="488.6" cy="129.0" r="2.2"/><circle cx="488.8" cy="129.1" r="2.2"/><circle cx="489.1" cy="129.1" r="2.2"/><circle cx="489.4" cy="128.9" r="2.2"/><circle cx="489.6" cy="128.9" r="2.2"/><circle cx="489.9" cy="129.0" r="2.2"/><circle cx="490.1" cy="128.8" r="2.2"/><circle cx="490.4" cy="129.0" r="2.2"/><circle cx="490.7" cy="129.1" r="2.2"/><circle cx="490.9" cy="128.9" r="2.2"/><circle cx="491.2" cy="128.6" r="2.2"/><circle cx="491.4" cy="129.0" r="2.2"/><circle cx="491.7" cy="128.7" r="2.2"/><circle cx="492.0" cy="128.7" r="2.2"/><circle cx="492.2" cy="128.7" r="2.2"/><circle cx="492.5" cy="129.1" r="2.2"/><circle cx="492.7" cy="128.6" r="2.2"/><circle cx="493.0" cy="128.9" r="2.2"/><circle cx="493.3" cy="129.0" r="2.2"/><circle cx="493.5" cy="129.0" r="2.2"/><circle cx="493.8" cy="128.8" r="2.2"/><circle cx="494.0" cy="128.9" r="2.2"/><circle cx="494.3" cy="128.9" r="2.2"/><circle cx="494.6" cy="128.7" r="2.2"/><circle cx="494.8" cy="129.0" r="2.2"/><circle cx="495.1" cy="129.1" r="2.2"/><circle cx="495.3" cy="128.8" r="2.2"/><circle cx="495.6" cy="128.8" r="2.2"/><circle cx="495.9" cy="128.7" r="2.2"/><circle cx="496.1" cy="129.1" r="2.2"/><circle cx="496.4" cy="128.7" r="2.2"/><circle cx="496.6" cy="128.8" r="2.2"/><circle cx="496.9" cy="128.6" r="2.2"/><circle cx="497.2" cy="129.1" r="2.2"/><circle cx="497.4" cy="128.9" r="2.2"/><circle cx="497.7" cy="129.0" r="2.2"/><circle cx="497.9" cy="129.2" r="2.2"/><circle cx="498.2" cy="129.0" r="2.2"/><circle cx="498.5" cy="128.7" r="2.2"/><circle cx="498.7" cy="129.0" r="2.2"/><circle cx="499.0" cy="129.0" r="2.2"/><circle cx="499.2" cy="128.8" r="2.2"/><circle cx="499.5" cy="128.8" r="2.2"/><circle cx="499.8" cy="128.8" r="2.2"/><circle cx="500.0" cy="129.1" r="2.2"/><circle cx="500.3" cy="128.9" r="2.2"/><circle cx="500.5" cy="128.7" r="2.2"/><circle cx="500.8" cy="129.0" r="2.2"/><circle cx="501.1" cy="129.0" r="2.2"/><circle cx="501.3" cy="128.8" r="2.2"/><circle cx="501.6" cy="128.7" r="2.2"/><circle cx="501.8" cy="129.1" r="2.2"/><circle cx="502.1" cy="129.4" r="2.2"/><circle cx="502.4" cy="129.2" r="2.2"/><circle cx="502.6" cy="129.1" r="2.2"/><circle cx="502.9" cy="128.9" r="2.2"/><circle cx="503.1" cy="128.8" r="2.2"/><circle cx="503.4" cy="128.9" r="2.2"/><circle cx="503.7" cy="129.0" r="2.2"/><circle cx="503.9" cy="128.9" r="2.2"/><circle cx="504.2" cy="129.1" r="2.2"/><circle cx="504.4" cy="128.9" r="2.2"/><circle cx="504.7" cy="129.0" r="2.2"/><circle cx="505.0" cy="128.5" r="2.2"/><circle cx="505.2" cy="128.8" r="2.2"/><circle cx="505.5" cy="129.1" r="2.2"/><circle cx="505.7" cy="129.1" r="2.2"/><circle cx="506.0" cy="129.0" r="2.2"/><circle cx="506.3" cy="129.2" r="2.2"/><circle cx="506.5" cy="129.0" r="2.2"/><circle cx="506.8" cy="129.0" r="2.2"/><circle cx="507.0" cy="128.8" r="2.2"/><circle cx="507.3" cy="129.0" r="2.2"/><circle cx="507.6" cy="129.1" r="2.2"/><circle cx="507.8" cy="129.1" r="2.2"/><circle cx="508.1" cy="129.1" r="2.2"/><circle cx="508.3" cy="128.9" r="2.2"/><circle cx="508.6" cy="129.0" r="2.2"/><circle cx="508.9" cy="128.7" r="2.2"/><circle cx="509.1" cy="129.0" r="2.2"/><circle cx="509.4" cy="128.7" r="2.2"/><circle cx="509.6" cy="128.9" r="2.2"/><circle cx="509.9" cy="128.9" r="2.2"/><circle cx="510.2" cy="129.3" r="2.2"/><circle cx="510.4" cy="129.1" r="2.2"/><circle cx="510.7" cy="128.8" r="2.2"/><circle cx="510.9" cy="128.7" r="2.2"/><circle cx="511.2" cy="128.9" r="2.2"/><circle cx="511.5" cy="128.8" r="2.2"/><circle cx="511.7" cy="129.0" r="2.2"/><circle cx="512.0" cy="129.0" r="2.2"/><circle cx="512.2" cy="129.0" r="2.2"/><circle cx="512.5" cy="128.8" r="2.2"/><circle cx="512.8" cy="128.9" r="2.2"/><circle cx="513.0" cy="129.0" r="2.2"/><circle cx="513.3" cy="129.0" r="2.2"/><circle cx="513.5" cy="128.8" r="2.2"/><circle cx="513.8" cy="128.9" r="2.2"/><circle cx="514.1" cy="129.1" r="2.2"/><circle cx="514.3" cy="128.6" r="2.2"/><circle cx="514.6" cy="128.9" r="2.2"/><circle cx="514.8" cy="128.9" r="2.2"/><circle cx="515.1" cy="128.7" r="2.2"/><circle cx="515.4" cy="128.7" r="2.2"/><circle cx="515.6" cy="128.9" r="2.2"/><circle cx="515.9" cy="128.8" r="2.2"/><circle cx="516.1" cy="129.1" r="2.2"/><circle cx="516.4" cy="129.0" r="2.2"/><circle cx="516.7" cy="129.3" r="2.2"/><circle cx="516.9" cy="128.7" r="2.2"/><circle cx="517.2" cy="129.2" r="2.2"/><circle cx="517.4" cy="128.8" r="2.2"/><circle cx="517.7" cy="129.1" r="2.2"/><circle cx="518.0" cy="129.1" r="2.2"/><circle cx="518.2" cy="129.0" r="2.2"/><circle cx="518.5" cy="128.9" r="2.2"/><circle cx="518.7" cy="128.8" r="2.2"/><circle cx="519.0" cy="128.6" r="2.2"/><circle cx="519.3" cy="128.9" r="2.2"/><circle cx="519.5" cy="128.8" r="2.2"/><circle cx="519.8" cy="129.0" r="2.2"/><circle cx="520.0" cy="128.8" r="2.2"/><circle cx="520.3" cy="128.9" r="2.2"/><circle cx="520.6" cy="129.0" r="2.2"/><circle cx="520.8" cy="128.9" r="2.2"/><circle cx="521.1" cy="128.9" r="2.2"/><circle cx="521.3" cy="128.9" r="2.2"/><circle cx="521.6" cy="128.9" r="2.2"/><circle cx="521.9" cy="129.0" r="2.2"/><circle cx="522.1" cy="129.0" r="2.2"/><circle cx="522.4" cy="128.8" r="2.2"/><circle cx="522.6" cy="129.2" r="2.2"/><circle cx="522.9" cy="129.0" r="2.2"/><circle cx="523.2" cy="128.7" r="2.2"/><circle cx="523.4" cy="129.4" r="2.2"/><circle cx="523.7" cy="129.0" r="2.2"/><circle cx="523.9" cy="128.8" r="2.2"/><circle cx="524.2" cy="129.2" r="2.2"/><circle cx="524.5" cy="128.5" r="2.2"/><circle cx="524.7" cy="129.4" r="2.2"/><circle cx="525.0" cy="128.7" r="2.2"/><circle cx="525.2" cy="128.7" r="2.2"/><circle cx="525.5" cy="128.8" r="2.2"/><circle cx="525.8" cy="129.0" r="2.2"/><circle cx="526.0" cy="128.9" r="2.2"/><circle cx="526.3" cy="129.1" r="2.2"/><circle cx="526.5" cy="128.8" r="2.2"/><circle cx="526.8" cy="129.1" r="2.2"/><circle cx="527.1" cy="129.0" r="2.2"/><circle cx="527.3" cy="128.8" r="2.2"/><circle cx="527.6" cy="129.1" r="2.2"/><circle cx="527.8" cy="129.0" r="2.2"/><circle cx="528.1" cy="128.9" r="2.2"/><circle cx="528.4" cy="129.1" r="2.2"/><circle cx="528.6" cy="128.7" r="2.2"/><circle cx="528.9" cy="128.9" r="2.2"/><circle cx="529.1" cy="129.2" r="2.2"/><circle cx="529.4" cy="128.9" r="2.2"/><circle cx="529.7" cy="129.1" r="2.2"/><circle cx="529.9" cy="129.0" r="2.2"/><circle cx="530.2" cy="128.9" r="2.2"/><circle cx="530.4" cy="129.0" r="2.2"/><circle cx="530.7" cy="128.8" r="2.2"/><circle cx="531.0" cy="129.0" r="2.2"/><circle cx="531.2" cy="128.8" r="2.2"/><circle cx="531.5" cy="128.9" r="2.2"/><circle cx="531.7" cy="128.8" r="2.2"/><circle cx="532.0" cy="129.0" r="2.2"/><circle cx="532.3" cy="129.0" r="2.2"/><circle cx="532.5" cy="129.1" r="2.2"/><circle cx="532.8" cy="128.8" r="2.2"/><circle cx="533.0" cy="128.8" r="2.2"/><circle cx="533.3" cy="128.6" r="2.2"/><circle cx="533.6" cy="128.7" r="2.2"/><circle cx="533.8" cy="128.9" r="2.2"/><circle cx="534.1" cy="129.0" r="2.2"/><circle cx="534.3" cy="128.9" r="2.2"/><circle cx="534.6" cy="128.9" r="2.2"/><circle cx="534.9" cy="128.7" r="2.2"/><circle cx="535.1" cy="128.8" r="2.2"/><circle cx="535.4" cy="129.1" r="2.2"/><circle cx="535.6" cy="129.0" r="2.2"/><circle cx="535.9" cy="128.7" r="2.2"/><circle cx="536.2" cy="128.9" r="2.2"/><circle cx="536.4" cy="129.0" r="2.2"/><circle cx="536.7" cy="128.7" r="2.2"/><circle cx="536.9" cy="129.0" r="2.2"/><circle cx="537.2" cy="129.0" r="2.2"/><circle cx="537.5" cy="129.0" r="2.2"/><circle cx="537.7" cy="129.2" r="2.2"/><circle cx="538.0" cy="128.8" r="2.2"/><circle cx="538.2" cy="129.1" r="2.2"/><circle cx="538.5" cy="129.0" r="2.2"/><circle cx="538.8" cy="129.0" r="2.2"/><circle cx="539.0" cy="128.8" r="2.2"/><circle cx="539.3" cy="128.9" r="2.2"/><circle cx="539.5" cy="128.9" r="2.2"/><circle cx="539.8" cy="129.2" r="2.2"/><circle cx="540.1" cy="128.9" r="2.2"/><circle cx="540.3" cy="129.2" r="2.2"/><circle cx="540.6" cy="128.9" r="2.2"/><circle cx="540.8" cy="128.9" r="2.2"/><circle cx="541.1" cy="128.9" r="2.2"/><circle cx="541.4" cy="128.6" r="2.2"/><circle cx="541.6" cy="128.8" r="2.2"/><circle cx="541.9" cy="128.8" r="2.2"/><circle cx="542.1" cy="128.9" r="2.2"/><circle cx="542.4" cy="129.0" r="2.2"/><circle cx="542.7" cy="128.8" r="2.2"/><circle cx="542.9" cy="128.7" r="2.2"/><circle cx="543.2" cy="129.1" r="2.2"/><circle cx="543.4" cy="128.7" r="2.2"/><circle cx="543.7" cy="128.8" r="2.2"/><circle cx="544.0" cy="128.8" r="2.2"/><circle cx="544.2" cy="128.8" r="2.2"/><circle cx="544.5" cy="129.1" r="2.2"/><circle cx="544.7" cy="129.1" r="2.2"/><circle cx="545.0" cy="128.6" r="2.2"/><circle cx="545.3" cy="128.9" r="2.2"/><circle cx="545.5" cy="129.2" r="2.2"/><circle cx="545.8" cy="128.9" r="2.2"/><circle cx="546.0" cy="129.0" r="2.2"/><circle cx="546.3" cy="129.2" r="2.2"/><circle cx="546.6" cy="129.3" r="2.2"/><circle cx="546.8" cy="129.2" r="2.2"/><circle cx="547.1" cy="128.9" r="2.2"/><circle cx="547.3" cy="128.9" r="2.2"/><circle cx="547.6" cy="129.0" r="2.2"/><circle cx="547.9" cy="128.9" r="2.2"/><circle cx="548.1" cy="128.8" r="2.2"/><circle cx="548.4" cy="129.3" r="2.2"/><circle cx="548.6" cy="129.0" r="2.2"/><circle cx="548.9" cy="129.1" r="2.2"/><circle cx="549.2" cy="129.1" r="2.2"/><circle cx="549.4" cy="129.0" r="2.2"/><circle cx="549.7" cy="128.9" r="2.2"/><circle cx="549.9" cy="129.0" r="2.2"/><circle cx="550.2" cy="129.2" r="2.2"/><circle cx="550.5" cy="129.0" r="2.2"/><circle cx="550.7" cy="128.6" r="2.2"/><circle cx="551.0" cy="129.1" r="2.2"/><circle cx="551.2" cy="129.2" r="2.2"/></g>
<g fill="#f57900"><circle cx="31.5" cy="390.2" r="2.1"/><circle cx="31.8" cy="332.4" r="2.1"/><circle cx="32.0" cy="390.2" r="2.1"/><circle cx="32.3" cy="326.5" r="2.1"/><circle cx="32.5" cy="331.8" r="2.1"/><circle cx="32.8" cy="395.4" r="2.1"/><circle cx="33.1" cy="331.3" r="2.1"/><circle cx="33.3" cy="331.1" r="2.1"/><circle cx="33.6" cy="394.1" r="2.1"/><circle cx="33.8" cy="330.5" r="2.1"/><circle cx="34.1" cy="394.4" r="2.1"/><circle cx="34.4" cy="340.3" r="2.1"/><circle cx="34.6" cy="324.2" r="2.1"/><circle cx="34.9" cy="393.5" r="2.1"/><circle cx="35.1" cy="328.8" r="2.1"/><circle cx="35.4" cy="387.3" r="2.1"/><circle cx="35.7" cy="392.9" r="2.1"/><circle cx="35.9" cy="333.9" r="2.1"/><circle cx="36.2" cy="393.2" r="2.1"/><circle cx="36.4" cy="333.5" r="2.1"/><circle cx="36.7" cy="333.1" r="2.1"/><circle cx="37.0" cy="386.5" r="2.1"/><circle cx="37.2" cy="332.2" r="2.1"/><circle cx="37.5" cy="391.6" r="2.1"/><circle cx="37.7" cy="315.5" r="2.1"/><circle cx="38.0" cy="331.7" r="2.1"/><circle cx="38.3" cy="385.5" r="2.1"/><circle cx="38.5" cy="319.8" r="2.1"/><circle cx="38.8" cy="330.6" r="2.1"/><circle cx="39.0" cy="380.5" r="2.1"/><circle cx="39.3" cy="319.3" r="2.1"/><circle cx="39.6" cy="379.7" r="2.1"/><circle cx="39.8" cy="318.7" r="2.1"/><circle cx="40.1" cy="318.7" r="2.1"/><circle cx="40.3" cy="379.0" r="2.1"/><circle cx="40.6" cy="317.9" r="2.1"/><circle cx="40.9" cy="383.8" r="2.1"/><circle cx="41.1" cy="328.2" r="2.1"/><circle cx="41.4" cy="328.3" r="2.1"/><circle cx="41.6" cy="377.9" r="2.1"/><circle cx="41.9" cy="327.6" r="2.1"/><circle cx="42.2" cy="316.8" r="2.1"/><circle cx="42.4" cy="377.3" r="2.1"/><circle cx="42.7" cy="316.6" r="2.1"/><circle cx="42.9" cy="376.1" r="2.1"/><circle cx="43.2" cy="316.0" r="2.1"/><circle cx="43.5" cy="321.7" r="2.1"/><circle cx="43.7" cy="376.3" r="2.1"/><circle cx="44.0" cy="315.8" r="2.1"/><circle cx="44.2" cy="312.4" r="2.1"/><circle cx="44.5" cy="392.0" r="2.1"/><circle cx="44.8" cy="332.1" r="2.1"/><circle cx="45.0" cy="380.4" r="2.1"/><circle cx="45.3" cy="331.4" r="2.1"/><circle cx="45.5" cy="331.6" r="2.1"/><circle cx="45.8" cy="380.2" r="2.1"/><circle cx="46.1" cy="331.0" r="2.1"/><circle cx="46.3" cy="380.0" r="2.1"/><circle cx="46.6" cy="331.1" r="2.1"/><circle cx="46.8" cy="325.5" r="2.1"/><circle cx="47.1" cy="379.4" r="2.1"/><circle cx="47.4" cy="330.8" r="2.1"/><circle cx="47.6" cy="336.8" r="2.1"/><circle cx="47.9" cy="378.8" r="2.1"/><circle cx="48.1" cy="324.5" r="2.1"/><circle cx="48.4" cy="390.0" r="2.1"/><circle cx="48.7" cy="330.3" r="2.1"/><circle cx="48.9" cy="318.7" r="2.1"/><circle cx="49.2" cy="378.3" r="2.1"/><circle cx="49.4" cy="324.5" r="2.1"/><circle cx="49.7" cy="378.2" r="2.1"/><circle cx="50.0" cy="378.0" r="2.1"/><circle cx="50.2" cy="318.6" r="2.1"/><circle cx="50.5" cy="383.5" r="2.1"/><circle cx="50.7" cy="323.9" r="2.1"/><circle cx="51.0" cy="318.7" r="2.1"/><circle cx="51.3" cy="383.3" r="2.1"/><circle cx="51.5" cy="318.4" r="2.1"/><circle cx="51.8" cy="382.7" r="2.1"/><circle cx="52.0" cy="328.8" r="2.1"/><circle cx="52.3" cy="328.9" r="2.1"/><circle cx="52.6" cy="382.4" r="2.1"/><circle cx="52.8" cy="328.4" r="2.1"/><circle cx="53.1" cy="323.1" r="2.1"/><circle cx="53.3" cy="382.3" r="2.1"/><circle cx="53.6" cy="317.0" r="2.1"/><circle cx="53.9" cy="387.1" r="2.1"/><circle cx="54.1" cy="317.4" r="2.1"/><circle cx="54.4" cy="322.4" r="2.1"/><circle cx="54.6" cy="381.7" r="2.1"/><circle cx="54.9" cy="321.9" r="2.1"/><circle cx="55.2" cy="381.5" r="2.1"/><circle cx="55.4" cy="316.2" r="2.1"/><circle cx="55.7" cy="316.5" r="2.1"/><circle cx="55.9" cy="375.2" r="2.1"/><circle cx="56.2" cy="316.4" r="2.1"/><circle cx="56.5" cy="321.3" r="2.1"/><circle cx="56.7" cy="391.9" r="2.1"/><circle cx="57.0" cy="326.5" r="2.1"/><circle cx="57.2" cy="380.6" r="2.1"/><circle cx="57.5" cy="326.8" r="2.1"/><circle cx="57.8" cy="332.1" r="2.1"/><circle cx="58.0" cy="391.3" r="2.1"/><circle cx="58.3" cy="326.4" r="2.1"/><circle cx="58.5" cy="384.8" r="2.1"/><circle cx="58.8" cy="385.2" r="2.1"/><circle cx="59.1" cy="341.4" r="2.1"/><circle cx="59.3" cy="385.1" r="2.1"/><circle cx="59.6" cy="320.2" r="2.1"/><circle cx="59.8" cy="320.1" r="2.1"/><circle cx="60.1" cy="384.9" r="2.1"/><circle cx="60.4" cy="325.3" r="2.1"/><circle cx="60.6" cy="384.3" r="2.1"/><circle cx="60.9" cy="336.8" r="2.1"/><circle cx="61.1" cy="319.6" r="2.1"/><circle cx="61.4" cy="378.9" r="2.1"/><circle cx="61.7" cy="319.6" r="2.1"/><circle cx="61.9" cy="318.7" r="2.1"/><circle cx="62.2" cy="378.1" r="2.1"/><circle cx="62.4" cy="324.4" r="2.1"/><circle cx="62.7" cy="388.9" r="2.1"/><circle cx="63.0" cy="318.6" r="2.1"/><circle cx="63.2" cy="329.8" r="2.1"/><circle cx="63.5" cy="383.3" r="2.1"/><circle cx="63.7" cy="323.6" r="2.1"/><circle cx="64.0" cy="377.4" r="2.1"/><circle cx="64.3" cy="382.7" r="2.1"/><circle cx="64.5" cy="318.1" r="2.1"/><circle cx="64.8" cy="388.3" r="2.1"/><circle cx="65.0" cy="317.7" r="2.1"/><circle cx="65.3" cy="318.0" r="2.1"/><circle cx="65.6" cy="377.2" r="2.1"/><circle cx="65.8" cy="323.0" r="2.1"/><circle cx="66.1" cy="388.1" r="2.1"/><circle cx="66.3" cy="322.5" r="2.1"/><circle cx="66.6" cy="317.4" r="2.1"/><circle cx="66.9" cy="387.0" r="2.1"/><circle cx="67.1" cy="322.6" r="2.1"/><circle cx="67.4" cy="322.3" r="2.1"/><circle cx="67.6" cy="386.8" r="2.1"/><circle cx="67.9" cy="321.9" r="2.1"/><circle cx="68.2" cy="390.8" r="2.1"/><circle cx="68.4" cy="322.5" r="2.1"/><circle cx="68.7" cy="322.1" r="2.1"/><circle cx="68.9" cy="385.8" r="2.1"/><circle cx="69.2" cy="326.9" r="2.1"/><circle cx="69.5" cy="386.7" r="2.1"/><circle cx="69.7" cy="315.7" r="2.1"/><circle cx="70.0" cy="321.4" r="2.1"/><circle cx="70.2" cy="391.8" r="2.1"/><circle cx="70.5" cy="321.2" r="2.1"/><circle cx="70.8" cy="321.0" r="2.1"/><circle cx="71.0" cy="395.1" r="2.1"/><circle cx="71.3" cy="334.6" r="2.1"/><circle cx="71.5" cy="385.8" r="2.1"/><circle cx="71.8" cy="325.9" r="2.1"/><circle cx="72.1" cy="325.8" r="2.1"/><circle cx="72.3" cy="390.2" r="2.1"/><circle cx="72.6" cy="325.6" r="2.1"/><circle cx="72.8" cy="385.1" r="2.1"/><circle cx="73.1" cy="389.7" r="2.1"/><circle cx="73.4" cy="320.0" r="2.1"/><circle cx="73.6" cy="389.9" r="2.1"/><circle cx="73.9" cy="325.3" r="2.1"/><circle cx="74.1" cy="319.6" r="2.1"/><circle cx="74.4" cy="389.5" r="2.1"/><circle cx="74.7" cy="319.2" r="2.1"/><circle cx="74.9" cy="383.6" r="2.1"/><circle cx="75.2" cy="329.9" r="2.1"/><circle cx="75.4" cy="324.6" r="2.1"/><circle cx="75.7" cy="383.3" r="2.1"/><circle cx="76.0" cy="329.7" r="2.1"/><circle cx="76.2" cy="329.7" r="2.1"/><circle cx="76.5" cy="377.9" r="2.1"/><circle cx="76.7" cy="318.5" r="2.1"/><circle cx="77.0" cy="377.6" r="2.1"/><circle cx="77.3" cy="323.9" r="2.1"/><circle cx="77.5" cy="317.9" r="2.1"/><circle cx="77.8" cy="377.4" r="2.1"/><circle cx="78.0" cy="323.2" r="2.1"/><circle cx="78.3" cy="376.7" r="2.1"/><circle cx="78.6" cy="317.7" r="2.1"/><circle cx="78.8" cy="328.7" r="2.1"/><circle cx="79.1" cy="376.3" r="2.1"/><circle cx="79.3" cy="317.5" r="2.1"/><circle cx="79.6" cy="317.3" r="2.1"/><circle cx="79.9" cy="381.4" r="2.1"/><circle cx="80.1" cy="317.1" r="2.1"/><circle cx="80.4" cy="375.4" r="2.1"/><circle cx="80.6" cy="322.4" r="2.1"/><circle cx="80.9" cy="327.4" r="2.1"/><circle cx="81.2" cy="380.7" r="2.1"/><circle cx="81.4" cy="327.5" r="2.1"/><circle cx="81.7" cy="327.2" r="2.1"/><circle cx="81.9" cy="395.9" r="2.1"/><circle cx="82.2" cy="327.5" r="2.1"/><circle cx="82.5" cy="380.5" r="2.1"/><circle cx="82.7" cy="326.6" r="2.1"/><circle cx="83.0" cy="326.8" r="2.1"/><circle cx="83.2" cy="380.0" r="2.1"/><circle cx="83.5" cy="321.0" r="2.1"/><circle cx="83.8" cy="379.7" r="2.1"/><circle cx="84.0" cy="320.9" r="2.1"/><circle cx="84.3" cy="331.8" r="2.1"/><circle cx="84.5" cy="390.8" r="2.1"/><circle cx="84.8" cy="320.8" r="2.1"/><circle cx="85.1" cy="331.2" r="2.1"/><circle cx="85.3" cy="379.6" r="2.1"/><circle cx="85.6" cy="325.8" r="2.1"/><circle cx="85.8" cy="378.3" r="2.1"/><circle cx="86.1" cy="331.2" r="2.1"/><circle cx="86.4" cy="325.4" r="2.1"/><circle cx="86.6" cy="384.4" r="2.1"/><circle cx="86.9" cy="325.0" r="2.1"/><circle cx="87.1" cy="378.5" r="2.1"/><circle cx="87.4" cy="383.4" r="2.1"/><circle cx="87.7" cy="325.4" r="2.1"/><circle cx="87.9" cy="388.9" r="2.1"/><circle cx="88.2" cy="324.7" r="2.1"/><circle cx="88.4" cy="330.1" r="2.1"/><circle cx="88.7" cy="383.4" r="2.1"/><circle cx="89.0" cy="329.9" r="2.1"/><circle cx="89.2" cy="383.3" r="2.1"/><circle cx="89.5" cy="318.3" r="2.1"/><circle cx="89.7" cy="329.3" r="2.1"/><circle cx="90.0" cy="387.5" r="2.1"/><circle cx="90.3" cy="329.3" r="2.1"/><circle cx="90.5" cy="329.1" r="2.1"/><circle cx="90.8" cy="382.2" r="2.1"/><circle cx="91.0" cy="329.0" r="2.1"/><circle cx="91.3" cy="387.6" r="2.1"/><circle cx="91.6" cy="328.5" r="2.1"/><circle cx="91.8" cy="328.3" r="2.1"/><circle cx="92.1" cy="387.3" r="2.1"/><circle cx="92.3" cy="328.1" r="2.1"/><circle cx="92.6" cy="386.5" r="2.1"/><circle cx="92.9" cy="328.0" r="2.1"/><circle cx="93.1" cy="315.0" r="2.1"/><circle cx="93.4" cy="375.4" r="2.1"/><circle cx="93.6" cy="316.4" r="2.1"/><circle cx="93.9" cy="327.4" r="2.1"/><circle cx="94.2" cy="386.5" r="2.1"/><circle cx="94.4" cy="316.4" r="2.1"/><circle cx="94.7" cy="391.7" r="2.1"/><circle cx="94.9" cy="321.8" r="2.1"/><circle cx="95.2" cy="316.2" r="2.1"/><circle cx="95.5" cy="385.5" r="2.1"/><circle cx="95.7" cy="326.8" r="2.1"/><circle cx="96.0" cy="385.4" r="2.1"/><circle cx="96.2" cy="385.7" r="2.1"/><circle cx="96.5" cy="332.4" r="2.1"/><circle cx="96.8" cy="385.2" r="2.1"/><circle cx="97.0" cy="331.9" r="2.1"/><circle cx="97.3" cy="331.6" r="2.1"/><circle cx="97.5" cy="384.6" r="2.1"/><circle cx="97.8" cy="331.2" r="2.1"/><circle cx="98.1" cy="384.6" r="2.1"/><circle cx="98.3" cy="313.5" r="2.1"/><circle cx="98.6" cy="320.3" r="2.1"/><circle cx="98.8" cy="384.9" r="2.1"/><circle cx="99.1" cy="330.7" r="2.1"/><circle cx="99.4" cy="331.0" r="2.1"/><circle cx="99.6" cy="389.4" r="2.1"/><circle cx="99.9" cy="330.8" r="2.1"/><circle cx="100.1" cy="383.4" r="2.1"/><circle cx="100.4" cy="330.3" r="2.1"/><circle cx="100.7" cy="319.5" r="2.1"/><circle cx="100.9" cy="382.7" r="2.1"/><circle cx="101.2" cy="330.1" r="2.1"/><circle cx="101.4" cy="388.4" r="2.1"/><circle cx="101.7" cy="318.8" r="2.1"/><circle cx="102.0" cy="329.5" r="2.1"/><circle cx="102.2" cy="387.6" r="2.1"/><circle cx="102.5" cy="324.4" r="2.1"/><circle cx="102.7" cy="329.4" r="2.1"/><circle cx="103.0" cy="388.1" r="2.1"/><circle cx="103.3" cy="318.0" r="2.1"/><circle cx="103.5" cy="376.9" r="2.1"/><circle cx="103.8" cy="317.6" r="2.1"/><circle cx="104.0" cy="335.1" r="2.1"/><circle cx="104.3" cy="386.9" r="2.1"/><circle cx="104.6" cy="338.4" r="2.1"/><circle cx="104.8" cy="317.5" r="2.1"/><circle cx="105.1" cy="387.2" r="2.1"/><circle cx="105.3" cy="317.7" r="2.1"/><circle cx="105.6" cy="375.8" r="2.1"/><circle cx="105.9" cy="316.9" r="2.1"/><circle cx="106.1" cy="327.9" r="2.1"/><circle cx="106.4" cy="375.8" r="2.1"/><circle cx="106.6" cy="316.7" r="2.1"/><circle cx="106.9" cy="391.2" r="2.1"/><circle cx="107.2" cy="316.4" r="2.1"/><circle cx="107.4" cy="327.4" r="2.1"/><circle cx="107.7" cy="379.8" r="2.1"/><circle cx="107.9" cy="316.2" r="2.1"/><circle cx="108.2" cy="321.4" r="2.1"/><circle cx="108.5" cy="391.1" r="2.1"/><circle cx="108.7" cy="315.8" r="2.1"/><circle cx="109.0" cy="390.1" r="2.1"/><circle cx="109.2" cy="321.0" r="2.1"/><circle cx="109.5" cy="332.4" r="2.1"/><circle cx="109.8" cy="389.5" r="2.1"/><circle cx="110.0" cy="321.1" r="2.1"/><circle cx="110.3" cy="389.8" r="2.1"/><circle cx="110.5" cy="390.1" r="2.1"/><circle cx="110.8" cy="331.7" r="2.1"/><circle cx="111.1" cy="390.1" r="2.1"/><circle cx="111.3" cy="320.5" r="2.1"/><circle cx="111.6" cy="319.9" r="2.1"/><circle cx="111.8" cy="389.4" r="2.1"/><circle cx="112.1" cy="325.2" r="2.1"/><circle cx="112.4" cy="389.5" r="2.1"/><circle cx="112.6" cy="330.3" r="2.1"/><circle cx="112.9" cy="325.3" r="2.1"/><circle cx="113.1" cy="377.9" r="2.1"/><circle cx="113.4" cy="324.9" r="2.1"/><circle cx="113.7" cy="324.8" r="2.1"/><circle cx="113.9" cy="388.4" r="2.1"/><circle cx="114.2" cy="330.0" r="2.1"/><circle cx="114.4" cy="377.4" r="2.1"/><circle cx="114.7" cy="318.8" r="2.1"/><circle cx="115.0" cy="319.0" r="2.1"/><circle cx="115.2" cy="377.5" r="2.1"/><circle cx="115.5" cy="329.5" r="2.1"/><circle cx="115.7" cy="376.7" r="2.1"/><circle cx="116.0" cy="329.3" r="2.1"/><circle cx="116.3" cy="323.6" r="2.1"/><circle cx="116.5" cy="376.7" r="2.1"/><circle cx="116.8" cy="317.9" r="2.1"/><circle cx="117.0" cy="317.4" r="2.1"/><circle cx="117.3" cy="381.2" r="2.1"/><circle cx="117.6" cy="313.3" r="2.1"/><circle cx="117.8" cy="381.3" r="2.1"/><circle cx="118.1" cy="322.9" r="2.1"/><circle cx="118.3" cy="313.7" r="2.1"/><circle cx="118.6" cy="375.1" r="2.1"/><circle cx="118.9" cy="328.1" r="2.1"/><circle cx="119.1" cy="384.9" r="2.1"/><circle cx="119.4" cy="380.7" r="2.1"/><circle cx="119.6" cy="322.3" r="2.1"/><circle cx="119.9" cy="391.4" r="2.1"/><circle cx="120.2" cy="322.4" r="2.1"/><circle cx="120.4" cy="321.9" r="2.1"/><circle cx="120.7" cy="385.4" r="2.1"/><circle cx="120.9" cy="322.0" r="2.1"/><circle cx="121.2" cy="379.8" r="2.1"/><circle cx="121.5" cy="321.4" r="2.1"/><circle cx="121.7" cy="321.4" r="2.1"/><circle cx="122.0" cy="379.4" r="2.1"/><circle cx="122.2" cy="320.7" r="2.1"/><circle cx="122.5" cy="320.6" r="2.1"/><circle cx="122.8" cy="379.1" r="2.1"/><circle cx="123.0" cy="320.5" r="2.1"/><circle cx="123.3" cy="378.8" r="2.1"/><circle cx="123.5" cy="320.7" r="2.1"/><circle cx="123.8" cy="325.8" r="2.1"/><circle cx="124.1" cy="384.6" r="2.1"/><circle cx="124.3" cy="320.1" r="2.1"/><circle cx="124.6" cy="378.3" r="2.1"/><circle cx="124.8" cy="378.4" r="2.1"/><circle cx="125.1" cy="320.4" r="2.1"/><circle cx="125.4" cy="378.4" r="2.1"/><circle cx="125.6" cy="319.6" r="2.1"/><circle cx="125.9" cy="324.7" r="2.1"/><circle cx="126.1" cy="377.7" r="2.1"/><circle cx="126.4" cy="319.4" r="2.1"/><circle cx="126.7" cy="382.7" r="2.1"/><circle cx="126.9" cy="319.5" r="2.1"/><circle cx="127.2" cy="319.3" r="2.1"/><circle cx="127.4" cy="382.1" r="2.1"/><circle cx="127.7" cy="319.0" r="2.1"/><circle cx="128.0" cy="324.5" r="2.1"/><circle cx="128.2" cy="376.7" r="2.1"/><circle cx="128.5" cy="324.2" r="2.1"/><circle cx="128.7" cy="381.8" r="2.1"/><circle cx="129.0" cy="323.7" r="2.1"/><circle cx="129.3" cy="324.0" r="2.1"/><circle cx="129.5" cy="381.3" r="2.1"/><circle cx="129.8" cy="323.1" r="2.1"/><circle cx="130.0" cy="387.3" r="2.1"/><circle cx="130.3" cy="323.3" r="2.1"/><circle cx="130.6" cy="328.3" r="2.1"/><circle cx="130.8" cy="381.3" r="2.1"/><circle cx="131.1" cy="328.3" r="2.1"/><circle cx="131.3" cy="322.6" r="2.1"/><circle cx="131.6" cy="381.2" r="2.1"/><circle cx="131.9" cy="322.7" r="2.1"/><circle cx="132.1" cy="392.0" r="2.1"/><circle cx="132.4" cy="322.4" r="2.1"/><circle cx="132.6" cy="322.1" r="2.1"/><circle cx="132.9" cy="380.6" r="2.1"/><circle cx="133.2" cy="322.1" r="2.1"/><circle cx="133.4" cy="391.1" r="2.1"/><circle cx="133.7" cy="390.4" r="2.1"/><circle cx="133.9" cy="316.2" r="2.1"/><circle cx="134.2" cy="390.6" r="2.1"/><circle cx="134.5" cy="321.2" r="2.1"/><circle cx="134.7" cy="326.4" r="2.1"/><circle cx="135.0" cy="390.4" r="2.1"/><circle cx="135.2" cy="326.4" r="2.1"/><circle cx="135.5" cy="379.5" r="2.1"/><circle cx="135.8" cy="331.8" r="2.1"/><circle cx="136.0" cy="326.1" r="2.1"/><circle cx="136.3" cy="389.5" r="2.1"/><circle cx="136.5" cy="325.9" r="2.1"/><circle cx="136.8" cy="326.4" r="2.1"/><circle cx="137.1" cy="389.6" r="2.1"/><circle cx="137.3" cy="325.8" r="2.1"/><circle cx="137.6" cy="383.7" r="2.1"/><circle cx="137.8" cy="326.0" r="2.1"/><circle cx="138.1" cy="331.0" r="2.1"/><circle cx="138.4" cy="388.9" r="2.1"/><circle cx="138.6" cy="325.5" r="2.1"/><circle cx="138.9" cy="389.1" r="2.1"/><circle cx="139.1" cy="324.9" r="2.1"/><circle cx="139.4" cy="324.8" r="2.1"/><circle cx="139.7" cy="388.6" r="2.1"/><circle cx="139.9" cy="324.9" r="2.1"/><circle cx="140.2" cy="319.4" r="2.1"/><circle cx="140.4" cy="387.9" r="2.1"/><circle cx="140.7" cy="319.2" r="2.1"/><circle cx="141.0" cy="377.0" r="2.1"/><circle cx="141.2" cy="340.8" r="2.1"/><circle cx="141.5" cy="329.7" r="2.1"/><circle cx="141.7" cy="381.7" r="2.1"/><circle cx="142.0" cy="329.0" r="2.1"/><circle cx="142.3" cy="329.2" r="2.1"/><circle cx="142.5" cy="376.1" r="2.1"/><circle cx="142.8" cy="329.3" r="2.1"/><circle cx="143.0" cy="375.6" r="2.1"/><circle cx="143.3" cy="329.0" r="2.1"/><circle cx="143.6" cy="323.3" r="2.1"/><circle cx="143.8" cy="375.4" r="2.1"/><circle cx="144.1" cy="328.5" r="2.1"/><circle cx="144.3" cy="386.2" r="2.1"/><circle cx="144.6" cy="328.1" r="2.1"/><circle cx="144.9" cy="341.4" r="2.1"/><circle cx="145.1" cy="390.9" r="2.1"/><circle cx="145.4" cy="328.1" r="2.1"/><circle cx="145.6" cy="316.6" r="2.1"/><circle cx="145.9" cy="390.7" r="2.1"/><circle cx="146.2" cy="316.3" r="2.1"/><circle cx="146.4" cy="390.6" r="2.1"/><circle cx="146.7" cy="316.4" r="2.1"/><circle cx="146.9" cy="316.3" r="2.1"/><circle cx="147.2" cy="389.9" r="2.1"/><circle cx="147.5" cy="316.3" r="2.1"/><circle cx="147.7" cy="390.0" r="2.1"/><circle cx="148.0" cy="384.5" r="2.1"/><circle cx="148.2" cy="321.5" r="2.1"/><circle cx="148.5" cy="379.3" r="2.1"/><circle cx="148.8" cy="326.5" r="2.1"/><circle cx="149.0" cy="326.4" r="2.1"/><circle cx="149.3" cy="378.2" r="2.1"/><circle cx="149.5" cy="326.1" r="2.1"/><circle cx="149.8" cy="384.1" r="2.1"/><circle cx="150.1" cy="331.6" r="2.1"/><circle cx="150.3" cy="315.0" r="2.1"/><circle cx="150.6" cy="378.4" r="2.1"/><circle cx="150.8" cy="325.5" r="2.1"/><circle cx="151.1" cy="325.2" r="2.1"/><circle cx="151.4" cy="377.3" r="2.1"/><circle cx="151.6" cy="330.4" r="2.1"/><circle cx="151.9" cy="388.1" r="2.1"/><circle cx="152.1" cy="330.5" r="2.1"/><circle cx="152.4" cy="341.2" r="2.1"/><circle cx="152.7" cy="376.9" r="2.1"/><circle cx="152.9" cy="330.4" r="2.1"/><circle cx="153.2" cy="376.7" r="2.1"/><circle cx="153.4" cy="329.9" r="2.1"/><circle cx="153.7" cy="330.1" r="2.1"/><circle cx="154.0" cy="376.4" r="2.1"/><circle cx="154.2" cy="329.8" r="2.1"/><circle cx="154.5" cy="329.8" r="2.1"/><circle cx="154.7" cy="382.1" r="2.1"/><circle cx="155.0" cy="318.1" r="2.1"/><circle cx="155.3" cy="381.9" r="2.1"/><circle cx="155.5" cy="329.0" r="2.1"/><circle cx="155.8" cy="323.1" r="2.1"/><circle cx="156.0" cy="381.3" r="2.1"/><circle cx="156.3" cy="328.9" r="2.1"/><circle cx="156.6" cy="381.1" r="2.1"/><circle cx="156.8" cy="386.4" r="2.1"/><circle cx="157.1" cy="328.3" r="2.1"/><circle cx="157.3" cy="380.6" r="2.1"/><circle cx="157.6" cy="328.4" r="2.1"/><circle cx="157.9" cy="328.3" r="2.1"/><circle cx="158.1" cy="395.1" r="2.1"/><circle cx="158.4" cy="328.0" r="2.1"/><circle cx="158.6" cy="322.5" r="2.1"/><circle cx="158.9" cy="322.0" r="2.1"/><circle cx="159.2" cy="316.6" r="2.1"/><circle cx="159.4" cy="394.8" r="2.1"/><circle cx="159.7" cy="321.9" r="2.1"/><circle cx="159.9" cy="316.6" r="2.1"/><circle cx="160.2" cy="395.4" r="2.1"/><circle cx="160.5" cy="316.2" r="2.1"/><circle cx="160.7" cy="341.6" r="2.1"/><circle cx="161.0" cy="315.7" r="2.1"/><circle cx="161.2" cy="316.0" r="2.1"/><circle cx="161.5" cy="394.5" r="2.1"/><circle cx="161.8" cy="331.8" r="2.1"/><circle cx="162.0" cy="331.8" r="2.1"/><circle cx="162.3" cy="394.0" r="2.1"/><circle cx="162.5" cy="331.6" r="2.1"/><circle cx="162.8" cy="334.7" r="2.1"/><circle cx="163.1" cy="321.2" r="2.1"/><circle cx="163.3" cy="342.0" r="2.1"/><circle cx="163.6" cy="394.2" r="2.1"/><circle cx="163.8" cy="330.0" r="2.1"/><circle cx="164.1" cy="317.1" r="2.1"/><circle cx="164.4" cy="339.1" r="2.1"/><circle cx="164.6" cy="325.8" r="2.1"/><circle cx="164.9" cy="393.1" r="2.1"/><circle cx="165.1" cy="311.9" r="2.1"/><circle cx="165.4" cy="334.0" r="2.1"/><circle cx="165.7" cy="392.8" r="2.1"/><circle cx="165.9" cy="321.6" r="2.1"/><circle cx="166.2" cy="342.7" r="2.1"/><circle cx="166.4" cy="330.8" r="2.1"/><circle cx="166.7" cy="316.6" r="2.1"/><circle cx="167.0" cy="393.2" r="2.1"/><circle cx="167.2" cy="336.9" r="2.1"/><circle cx="167.5" cy="325.3" r="2.1"/><circle cx="167.7" cy="312.7" r="2.1"/><circle cx="168.0" cy="334.7" r="2.1"/><circle cx="168.3" cy="392.2" r="2.1"/><circle cx="168.5" cy="321.3" r="2.1"/><circle cx="168.8" cy="342.2" r="2.1"/><circle cx="169.0" cy="393.2" r="2.1"/><circle cx="169.3" cy="329.0" r="2.1"/><circle cx="169.6" cy="316.4" r="2.1"/><circle cx="169.8" cy="338.2" r="2.1"/><circle cx="170.1" cy="325.2" r="2.1"/><circle cx="170.3" cy="392.0" r="2.1"/><circle cx="170.6" cy="312.1" r="2.1"/><circle cx="170.9" cy="333.6" r="2.1"/><circle cx="171.1" cy="391.3" r="2.1"/><circle cx="171.4" cy="321.1" r="2.1"/><circle cx="171.6" cy="342.3" r="2.1"/><circle cx="171.9" cy="329.6" r="2.1"/><circle cx="172.2" cy="318.0" r="2.1"/><circle cx="172.4" cy="391.8" r="2.1"/><circle cx="172.7" cy="337.2" r="2.1"/><circle cx="172.9" cy="324.9" r="2.1"/><circle cx="173.2" cy="312.9" r="2.1"/><circle cx="173.5" cy="333.3" r="2.1"/><circle cx="173.7" cy="391.9" r="2.1"/><circle cx="174.0" cy="321.0" r="2.1"/><circle cx="174.2" cy="341.5" r="2.1"/><circle cx="174.5" cy="390.7" r="2.1"/><circle cx="174.8" cy="329.5" r="2.1"/><circle cx="175.0" cy="316.1" r="2.1"/><circle cx="175.3" cy="336.6" r="2.1"/><circle cx="175.5" cy="325.1" r="2.1"/><circle cx="175.8" cy="390.4" r="2.1"/><circle cx="176.1" cy="313.1" r="2.1"/><circle cx="176.3" cy="334.2" r="2.1"/><circle cx="176.6" cy="320.3" r="2.1"/><circle cx="176.8" cy="341.6" r="2.1"/><circle cx="177.1" cy="328.9" r="2.1"/><circle cx="177.4" cy="316.7" r="2.1"/><circle cx="177.6" cy="337.5" r="2.1"/><circle cx="177.9" cy="389.8" r="2.1"/><circle cx="178.1" cy="323.9" r="2.1"/><circle cx="178.4" cy="312.2" r="2.1"/><circle cx="178.7" cy="333.9" r="2.1"/><circle cx="178.9" cy="319.8" r="2.1"/><circle cx="179.2" cy="389.5" r="2.1"/><circle cx="179.4" cy="341.1" r="2.1"/><circle cx="179.7" cy="328.7" r="2.1"/><circle cx="180.0" cy="388.7" r="2.1"/><circle cx="180.2" cy="316.2" r="2.1"/><circle cx="180.5" cy="336.9" r="2.1"/><circle cx="180.7" cy="325.5" r="2.1"/><circle cx="181.0" cy="312.2" r="2.1"/><circle cx="181.3" cy="384.7" r="2.1"/><circle cx="181.5" cy="332.9" r="2.1"/><circle cx="181.8" cy="320.1" r="2.1"/><circle cx="182.0" cy="341.7" r="2.1"/><circle cx="182.3" cy="327.8" r="2.1"/><circle cx="182.6" cy="389.1" r="2.1"/><circle cx="182.8" cy="316.3" r="2.1"/><circle cx="183.1" cy="336.9" r="2.1"/><circle cx="183.3" cy="389.0" r="2.1"/><circle cx="183.6" cy="324.1" r="2.1"/><circle cx="183.9" cy="311.4" r="2.1"/><circle cx="184.1" cy="332.9" r="2.1"/><circle cx="184.4" cy="319.2" r="2.1"/><circle cx="184.6" cy="388.1" r="2.1"/><circle cx="184.9" cy="341.0" r="2.1"/><circle cx="185.2" cy="329.0" r="2.1"/><circle cx="185.4" cy="383.9" r="2.1"/><circle cx="185.7" cy="316.2" r="2.1"/><circle cx="185.9" cy="337.0" r="2.1"/><circle cx="186.2" cy="324.4" r="2.1"/><circle cx="186.5" cy="311.2" r="2.1"/><circle cx="186.7" cy="388.4" r="2.1"/><circle cx="187.0" cy="333.1" r="2.1"/><circle cx="187.2" cy="320.9" r="2.1"/><circle cx="187.5" cy="340.3" r="2.1"/><circle cx="187.8" cy="328.6" r="2.1"/><circle cx="188.0" cy="392.3" r="2.1"/><circle cx="188.3" cy="316.2" r="2.1"/><circle cx="188.5" cy="336.2" r="2.1"/><circle cx="188.8" cy="392.3" r="2.1"/><circle cx="189.1" cy="340.7" r="2.1"/><circle cx="189.3" cy="329.0" r="2.1"/><circle cx="189.6" cy="339.8" r="2.1"/><circle cx="189.8" cy="339.7" r="2.1"/><circle cx="190.1" cy="383.4" r="2.1"/><circle cx="190.4" cy="328.7" r="2.1"/><circle cx="190.6" cy="339.2" r="2.1"/><circle cx="190.9" cy="339.6" r="2.1"/><circle cx="191.1" cy="339.3" r="2.1"/><circle cx="191.4" cy="339.2" r="2.1"/><circle cx="191.7" cy="314.0" r="2.1"/><circle cx="191.9" cy="338.5" r="2.1"/><circle cx="192.2" cy="392.3" r="2.1"/><circle cx="192.4" cy="338.6" r="2.1"/><circle cx="192.7" cy="327.1" r="2.1"/><circle cx="193.0" cy="338.3" r="2.1"/><circle cx="193.2" cy="326.8" r="2.1"/><circle cx="193.5" cy="392.2" r="2.1"/><circle cx="193.7" cy="337.8" r="2.1"/><circle cx="194.0" cy="325.3" r="2.1"/><circle cx="194.3" cy="385.9" r="2.1"/><circle cx="194.5" cy="331.3" r="2.1"/><circle cx="194.8" cy="326.1" r="2.1"/><circle cx="195.0" cy="325.7" r="2.1"/><circle cx="195.3" cy="326.1" r="2.1"/><circle cx="195.6" cy="394.2" r="2.1"/><circle cx="195.8" cy="325.5" r="2.1"/><circle cx="196.1" cy="325.4" r="2.1"/><circle cx="196.3" cy="325.9" r="2.1"/><circle cx="196.6" cy="324.8" r="2.1"/><circle cx="196.9" cy="393.3" r="2.1"/><circle cx="197.1" cy="324.3" r="2.1"/><circle cx="197.4" cy="324.7" r="2.1"/><circle cx="197.6" cy="384.8" r="2.1"/><circle cx="197.9" cy="324.6" r="2.1"/><circle cx="198.2" cy="335.1" r="2.1"/><circle cx="198.4" cy="329.3" r="2.1"/><circle cx="198.7" cy="324.5" r="2.1"/><circle cx="198.9" cy="392.8" r="2.1"/><circle cx="199.2" cy="340.0" r="2.1"/><circle cx="199.5" cy="339.4" r="2.1"/><circle cx="199.7" cy="339.2" r="2.1"/><circle cx="200.0" cy="328.5" r="2.1"/><circle cx="200.2" cy="339.3" r="2.1"/><circle cx="200.5" cy="328.2" r="2.1"/><circle cx="200.8" cy="334.1" r="2.1"/><circle cx="201.0" cy="391.2" r="2.1"/><circle cx="201.3" cy="339.0" r="2.1"/><circle cx="201.5" cy="327.7" r="2.1"/><circle cx="201.8" cy="328.4" r="2.1"/><circle cx="202.1" cy="327.3" r="2.1"/><circle cx="202.3" cy="391.2" r="2.1"/><circle cx="202.6" cy="327.4" r="2.1"/><circle cx="202.8" cy="327.1" r="2.1"/><circle cx="203.1" cy="390.4" r="2.1"/><circle cx="203.4" cy="314.0" r="2.1"/><circle cx="203.6" cy="327.0" r="2.1"/><circle cx="203.9" cy="326.2" r="2.1"/><circle cx="204.1" cy="336.9" r="2.1"/><circle cx="204.4" cy="389.7" r="2.1"/><circle cx="204.7" cy="331.5" r="2.1"/><circle cx="204.9" cy="331.0" r="2.1"/><circle cx="205.2" cy="343.4" r="2.1"/><circle cx="205.4" cy="331.6" r="2.1"/><circle cx="205.7" cy="389.4" r="2.1"/><circle cx="206.0" cy="330.8" r="2.1"/><circle cx="206.2" cy="330.2" r="2.1"/><circle cx="206.5" cy="389.2" r="2.1"/><circle cx="206.7" cy="329.8" r="2.1"/><circle cx="207.0" cy="330.0" r="2.1"/><circle cx="207.3" cy="335.6" r="2.1"/><circle cx="207.5" cy="323.8" r="2.1"/><circle cx="207.8" cy="389.6" r="2.1"/><circle cx="208.0" cy="324.7" r="2.1"/><circle cx="208.3" cy="329.0" r="2.1"/><circle cx="208.6" cy="389.1" r="2.1"/><circle cx="208.8" cy="328.9" r="2.1"/><circle cx="209.1" cy="343.4" r="2.1"/><circle cx="209.3" cy="329.0" r="2.1"/><circle cx="209.6" cy="328.1" r="2.1"/><circle cx="209.9" cy="390.3" r="2.1"/><circle cx="210.1" cy="339.0" r="2.1"/><circle cx="210.4" cy="333.9" r="2.1"/><circle cx="210.6" cy="333.2" r="2.1"/><circle cx="210.9" cy="332.9" r="2.1"/><circle cx="211.2" cy="389.8" r="2.1"/><circle cx="211.4" cy="338.5" r="2.1"/><circle cx="211.7" cy="333.1" r="2.1"/><circle cx="211.9" cy="389.6" r="2.1"/><circle cx="212.2" cy="338.3" r="2.1"/><circle cx="212.5" cy="332.3" r="2.1"/><circle cx="212.7" cy="332.1" r="2.1"/><circle cx="213.0" cy="332.3" r="2.1"/><circle cx="213.2" cy="389.5" r="2.1"/><circle cx="213.5" cy="335.7" r="2.1"/><circle cx="213.8" cy="340.0" r="2.1"/><circle cx="214.0" cy="316.5" r="2.1"/><circle cx="214.3" cy="322.4" r="2.1"/><circle cx="214.5" cy="326.3" r="2.1"/><circle cx="214.8" cy="331.1" r="2.1"/><circle cx="215.1" cy="334.9" r="2.1"/><circle cx="215.3" cy="389.3" r="2.1"/><circle cx="215.6" cy="338.9" r="2.1"/><circle cx="215.8" cy="342.5" r="2.1"/><circle cx="216.1" cy="322.8" r="2.1"/><circle cx="216.4" cy="311.4" r="2.1"/><circle cx="216.6" cy="389.6" r="2.1"/><circle cx="216.9" cy="332.8" r="2.1"/><circle cx="217.1" cy="336.0" r="2.1"/><circle cx="217.4" cy="389.6" r="2.1"/><circle cx="217.7" cy="339.1" r="2.1"/><circle cx="217.9" cy="343.9" r="2.1"/><circle cx="218.2" cy="322.1" r="2.1"/><circle cx="218.4" cy="326.2" r="2.1"/><circle cx="218.7" cy="389.7" r="2.1"/><circle cx="219.0" cy="330.3" r="2.1"/><circle cx="219.2" cy="314.0" r="2.1"/><circle cx="219.5" cy="339.2" r="2.1"/><circle cx="219.7" cy="344.1" r="2.1"/><circle cx="220.0" cy="389.1" r="2.1"/><circle cx="220.3" cy="322.6" r="2.1"/><circle cx="220.5" cy="326.9" r="2.1"/><circle cx="220.8" cy="389.5" r="2.1"/><circle cx="221.0" cy="331.2" r="2.1"/><circle cx="221.3" cy="334.6" r="2.1"/><circle cx="221.6" cy="338.9" r="2.1"/><circle cx="221.8" cy="316.5" r="2.1"/><circle cx="222.1" cy="389.4" r="2.1"/><circle cx="222.3" cy="322.9" r="2.1"/><circle cx="222.6" cy="326.8" r="2.1"/><circle cx="222.9" cy="389.3" r="2.1"/><circle cx="223.1" cy="331.1" r="2.1"/><circle cx="223.4" cy="333.6" r="2.1"/><circle cx="223.6" cy="339.4" r="2.1"/><circle cx="223.9" cy="343.7" r="2.1"/><circle cx="224.2" cy="389.2" r="2.1"/><circle cx="224.4" cy="322.1" r="2.1"/><circle cx="224.7" cy="311.4" r="2.1"/><circle cx="224.9" cy="330.9" r="2.1"/><circle cx="225.2" cy="334.8" r="2.1"/><circle cx="225.5" cy="389.3" r="2.1"/><circle cx="225.7" cy="339.3" r="2.1"/><circle cx="226.0" cy="343.2" r="2.1"/><circle cx="226.2" cy="392.9" r="2.1"/><circle cx="226.5" cy="322.0" r="2.1"/><circle cx="226.8" cy="328.1" r="2.1"/><circle cx="227.0" cy="331.2" r="2.1"/><circle cx="227.3" cy="314.0" r="2.1"/><circle cx="227.5" cy="393.1" r="2.1"/><circle cx="227.8" cy="338.7" r="2.1"/><circle cx="228.1" cy="343.0" r="2.1"/><circle cx="228.3" cy="322.4" r="2.1"/><circle cx="228.6" cy="326.5" r="2.1"/><circle cx="228.8" cy="392.7" r="2.1"/><circle cx="229.1" cy="331.0" r="2.1"/><circle cx="229.4" cy="334.7" r="2.1"/><circle cx="229.6" cy="393.1" r="2.1"/><circle cx="229.9" cy="340.1" r="2.1"/><circle cx="230.1" cy="316.5" r="2.1"/><circle cx="230.4" cy="322.4" r="2.1"/><circle cx="230.7" cy="326.5" r="2.1"/><circle cx="230.9" cy="392.9" r="2.1"/><circle cx="231.2" cy="330.4" r="2.1"/><circle cx="231.4" cy="334.9" r="2.1"/><circle cx="231.7" cy="392.9" r="2.1"/><circle cx="232.0" cy="338.8" r="2.1"/><circle cx="232.2" cy="343.1" r="2.1"/><circle cx="232.5" cy="322.0" r="2.1"/><circle cx="232.7" cy="311.4" r="2.1"/><circle cx="233.0" cy="393.3" r="2.1"/><circle cx="233.3" cy="330.8" r="2.1"/><circle cx="233.5" cy="334.7" r="2.1"/><circle cx="233.8" cy="339.4" r="2.1"/><circle cx="234.0" cy="343.8" r="2.1"/><circle cx="234.3" cy="392.8" r="2.1"/><circle cx="234.6" cy="322.2" r="2.1"/><circle cx="234.8" cy="326.3" r="2.1"/><circle cx="235.1" cy="393.2" r="2.1"/><circle cx="235.3" cy="330.5" r="2.1"/><circle cx="235.6" cy="314.0" r="2.1"/><circle cx="235.9" cy="338.8" r="2.1"/><circle cx="236.1" cy="343.5" r="2.1"/><circle cx="236.4" cy="392.9" r="2.1"/><circle cx="236.6" cy="322.4" r="2.1"/><circle cx="236.9" cy="325.7" r="2.1"/><circle cx="237.2" cy="331.4" r="2.1"/><circle cx="237.4" cy="335.1" r="2.1"/><circle cx="237.7" cy="338.3" r="2.1"/><circle cx="237.9" cy="316.5" r="2.1"/><circle cx="238.2" cy="322.3" r="2.1"/><circle cx="238.5" cy="393.1" r="2.1"/><circle cx="238.7" cy="326.7" r="2.1"/><circle cx="239.0" cy="330.3" r="2.1"/><circle cx="239.2" cy="335.7" r="2.1"/><circle cx="239.5" cy="339.0" r="2.1"/><circle cx="239.8" cy="393.4" r="2.1"/><circle cx="240.0" cy="342.7" r="2.1"/><circle cx="240.3" cy="321.5" r="2.1"/><circle cx="240.5" cy="393.4" r="2.1"/><circle cx="240.8" cy="338.1" r="2.1"/><circle cx="241.1" cy="322.7" r="2.1"/><circle cx="241.3" cy="344.0" r="2.1"/><circle cx="241.6" cy="327.7" r="2.1"/><circle cx="241.8" cy="346.3" r="2.1"/><circle cx="242.1" cy="330.7" r="2.1"/><circle cx="242.4" cy="314.5" r="2.1"/><circle cx="242.6" cy="335.1" r="2.1"/><circle cx="242.9" cy="318.8" r="2.1"/><circle cx="243.1" cy="338.1" r="2.1"/><circle cx="243.4" cy="322.4" r="2.1"/><circle cx="243.7" cy="342.0" r="2.1"/><circle cx="243.9" cy="326.6" r="2.1"/><circle cx="244.2" cy="348.2" r="2.1"/><circle cx="244.4" cy="330.1" r="2.1"/><circle cx="244.7" cy="314.3" r="2.1"/><circle cx="245.0" cy="334.8" r="2.1"/><circle cx="245.2" cy="317.4" r="2.1"/><circle cx="245.5" cy="338.9" r="2.1"/><circle cx="245.7" cy="321.7" r="2.1"/><circle cx="246.0" cy="342.9" r="2.1"/><circle cx="246.3" cy="326.8" r="2.1"/><circle cx="246.5" cy="346.7" r="2.1"/><circle cx="246.8" cy="330.8" r="2.1"/><circle cx="247.0" cy="313.4" r="2.1"/><circle cx="247.3" cy="334.1" r="2.1"/><circle cx="247.6" cy="318.1" r="2.1"/><circle cx="247.8" cy="338.4" r="2.1"/><circle cx="248.1" cy="321.9" r="2.1"/><circle cx="248.3" cy="342.9" r="2.1"/><circle cx="248.6" cy="393.2" r="2.1"/><circle cx="248.9" cy="326.4" r="2.1"/><circle cx="249.1" cy="346.6" r="2.1"/><circle cx="249.4" cy="393.8" r="2.1"/><circle cx="249.6" cy="330.3" r="2.1"/><circle cx="249.9" cy="313.7" r="2.1"/><circle cx="250.2" cy="334.9" r="2.1"/><circle cx="250.4" cy="318.2" r="2.1"/><circle cx="250.7" cy="388.4" r="2.1"/><circle cx="250.9" cy="338.9" r="2.1"/><circle cx="251.2" cy="321.9" r="2.1"/><circle cx="251.5" cy="341.9" r="2.1"/><circle cx="251.7" cy="326.0" r="2.1"/><circle cx="252.0" cy="347.6" r="2.1"/><circle cx="252.2" cy="330.2" r="2.1"/><circle cx="252.5" cy="313.3" r="2.1"/><circle cx="252.8" cy="393.6" r="2.1"/><circle cx="253.0" cy="333.8" r="2.1"/><circle cx="253.3" cy="317.6" r="2.1"/><circle cx="253.5" cy="338.3" r="2.1"/><circle cx="253.8" cy="322.1" r="2.1"/><circle cx="254.1" cy="393.7" r="2.1"/><circle cx="254.3" cy="342.7" r="2.1"/><circle cx="254.6" cy="326.1" r="2.1"/><circle cx="254.8" cy="393.3" r="2.1"/><circle cx="255.1" cy="346.5" r="2.1"/><circle cx="255.4" cy="330.3" r="2.1"/><circle cx="255.6" cy="313.7" r="2.1"/><circle cx="255.9" cy="334.1" r="2.1"/><circle cx="256.1" cy="394.1" r="2.1"/><circle cx="256.4" cy="318.2" r="2.1"/><circle cx="256.7" cy="338.8" r="2.1"/><circle cx="256.9" cy="322.0" r="2.1"/><circle cx="257.2" cy="342.6" r="2.1"/><circle cx="257.4" cy="393.6" r="2.1"/><circle cx="257.7" cy="326.4" r="2.1"/><circle cx="258.0" cy="346.2" r="2.1"/><circle cx="258.2" cy="393.4" r="2.1"/><circle cx="258.5" cy="330.9" r="2.1"/><circle cx="258.7" cy="313.6" r="2.1"/><circle cx="259.0" cy="334.8" r="2.1"/><circle cx="259.3" cy="316.9" r="2.1"/><circle cx="259.5" cy="388.9" r="2.1"/><circle cx="259.8" cy="338.2" r="2.1"/><circle cx="260.0" cy="321.9" r="2.1"/><circle cx="260.3" cy="342.4" r="2.1"/><circle cx="260.6" cy="325.1" r="2.1"/><circle cx="260.8" cy="346.4" r="2.1"/><circle cx="261.1" cy="329.6" r="2.1"/><circle cx="261.3" cy="313.0" r="2.1"/><circle cx="261.6" cy="393.8" r="2.1"/><circle cx="261.9" cy="333.2" r="2.1"/><circle cx="262.1" cy="317.3" r="2.1"/><circle cx="262.4" cy="337.7" r="2.1"/><circle cx="262.6" cy="322.2" r="2.1"/><circle cx="262.9" cy="393.2" r="2.1"/><circle cx="263.2" cy="342.1" r="2.1"/><circle cx="263.4" cy="326.1" r="2.1"/><circle cx="263.7" cy="392.7" r="2.1"/><circle cx="263.9" cy="339.1" r="2.1"/><circle cx="264.2" cy="333.0" r="2.1"/><circle cx="264.5" cy="326.5" r="2.1"/><circle cx="264.7" cy="338.3" r="2.1"/><circle cx="265.0" cy="393.1" r="2.1"/><circle cx="265.2" cy="339.1" r="2.1"/><circle cx="265.5" cy="335.0" r="2.1"/><circle cx="265.8" cy="333.1" r="2.1"/><circle cx="266.0" cy="338.7" r="2.1"/><circle cx="266.3" cy="393.7" r="2.1"/><circle cx="266.5" cy="319.7" r="2.1"/><circle cx="266.8" cy="321.0" r="2.1"/><circle cx="267.1" cy="393.0" r="2.1"/><circle cx="267.3" cy="322.5" r="2.1"/><circle cx="267.6" cy="388.8" r="2.1"/><circle cx="267.8" cy="325.5" r="2.1"/><circle cx="268.1" cy="338.2" r="2.1"/><circle cx="268.4" cy="393.5" r="2.1"/><circle cx="268.6" cy="320.5" r="2.1"/><circle cx="268.9" cy="332.6" r="2.1"/><circle cx="269.1" cy="387.3" r="2.1"/><circle cx="269.4" cy="331.1" r="2.1"/><circle cx="269.7" cy="387.1" r="2.1"/><circle cx="269.9" cy="330.0" r="2.1"/><circle cx="270.2" cy="336.4" r="2.1"/><circle cx="270.4" cy="387.4" r="2.1"/><circle cx="270.7" cy="339.6" r="2.1"/><circle cx="271.0" cy="386.8" r="2.1"/><circle cx="271.2" cy="334.6" r="2.1"/><circle cx="271.5" cy="333.4" r="2.1"/><circle cx="271.7" cy="385.7" r="2.1"/><circle cx="272.0" cy="325.1" r="2.1"/><circle cx="272.3" cy="333.6" r="2.1"/><circle cx="272.5" cy="385.0" r="2.1"/><circle cx="272.8" cy="324.1" r="2.1"/><circle cx="273.0" cy="385.0" r="2.1"/><circle cx="273.3" cy="331.6" r="2.1"/><circle cx="273.6" cy="323.4" r="2.1"/><circle cx="273.8" cy="385.6" r="2.1"/><circle cx="274.1" cy="331.5" r="2.1"/><circle cx="274.3" cy="385.6" r="2.1"/><circle cx="274.6" cy="322.6" r="2.1"/><circle cx="274.9" cy="330.9" r="2.1"/><circle cx="275.1" cy="384.2" r="2.1"/><circle cx="275.4" cy="321.6" r="2.1"/><circle cx="275.6" cy="330.0" r="2.1"/><circle cx="275.9" cy="384.6" r="2.1"/><circle cx="276.2" cy="321.2" r="2.1"/><circle cx="276.4" cy="390.8" r="2.1"/><circle cx="276.7" cy="329.9" r="2.1"/><circle cx="276.9" cy="320.1" r="2.1"/><circle cx="277.2" cy="383.4" r="2.1"/><circle cx="277.5" cy="328.7" r="2.1"/><circle cx="277.7" cy="318.8" r="2.1"/><circle cx="278.0" cy="382.6" r="2.1"/><circle cx="278.2" cy="327.7" r="2.1"/><circle cx="278.5" cy="390.3" r="2.1"/><circle cx="278.8" cy="318.5" r="2.1"/><circle cx="279.0" cy="326.3" r="2.1"/><circle cx="279.3" cy="382.6" r="2.1"/><circle cx="279.5" cy="317.1" r="2.1"/><circle cx="279.8" cy="381.6" r="2.1"/><circle cx="280.1" cy="325.3" r="2.1"/><circle cx="280.3" cy="333.5" r="2.1"/><circle cx="280.6" cy="389.2" r="2.1"/><circle cx="280.8" cy="325.2" r="2.1"/><circle cx="281.1" cy="333.2" r="2.1"/><circle cx="281.4" cy="381.3" r="2.1"/><circle cx="281.6" cy="324.6" r="2.1"/><circle cx="281.9" cy="380.6" r="2.1"/><circle cx="282.1" cy="332.2" r="2.1"/><circle cx="282.4" cy="323.0" r="2.1"/><circle cx="282.7" cy="388.8" r="2.1"/><circle cx="282.9" cy="331.4" r="2.1"/><circle cx="283.2" cy="322.3" r="2.1"/><circle cx="283.4" cy="380.8" r="2.1"/><circle cx="283.7" cy="330.7" r="2.1"/><circle cx="284.0" cy="381.6" r="2.1"/><circle cx="284.2" cy="320.8" r="2.1"/><circle cx="284.5" cy="330.4" r="2.1"/><circle cx="284.7" cy="388.3" r="2.1"/><circle cx="285.0" cy="321.0" r="2.1"/><circle cx="285.3" cy="380.2" r="2.1"/><circle cx="285.5" cy="328.6" r="2.1"/><circle cx="285.8" cy="320.2" r="2.1"/><circle cx="286.0" cy="379.1" r="2.1"/><circle cx="286.3" cy="328.5" r="2.1"/><circle cx="286.6" cy="318.1" r="2.1"/><circle cx="286.8" cy="386.4" r="2.1"/><circle cx="287.1" cy="326.5" r="2.1"/><circle cx="287.3" cy="379.2" r="2.1"/><circle cx="287.6" cy="317.7" r="2.1"/><circle cx="287.9" cy="326.9" r="2.1"/><circle cx="288.1" cy="377.9" r="2.1"/><circle cx="288.4" cy="316.9" r="2.1"/><circle cx="288.6" cy="386.4" r="2.1"/><circle cx="288.9" cy="326.0" r="2.1"/><circle cx="289.2" cy="334.5" r="2.1"/><circle cx="289.4" cy="378.5" r="2.1"/><circle cx="289.7" cy="325.0" r="2.1"/><circle cx="289.9" cy="333.7" r="2.1"/><circle cx="290.2" cy="378.0" r="2.1"/><circle cx="290.5" cy="323.9" r="2.1"/><circle cx="290.7" cy="384.7" r="2.1"/><circle cx="291.0" cy="332.8" r="2.1"/><circle cx="291.2" cy="323.4" r="2.1"/></g>
<g fill="#ce5c00"><circle cx="291.5" cy="303.4" r="2.2"/><circle cx="291.8" cy="318.7" r="2.2"/><circle cx="292.0" cy="293.0" r="2.2"/><circle cx="292.3" cy="319.1" r="2.2"/><circle cx="292.5" cy="317.8" r="2.2"/><circle cx="292.8" cy="300.6" r="2.2"/><circle cx="293.1" cy="248.5" r="2.2"/><circle cx="293.3" cy="312.8" r="2.2"/><circle cx="293.6" cy="313.3" r="2.2"/><circle cx="293.8" cy="309.3" r="2.2"/><circle cx="294.1" cy="323.8" r="2.2"/><circle cx="294.4" cy="293.4" r="2.2"/><circle cx="294.6" cy="319.4" r="2.2"/><circle cx="294.9" cy="320.9" r="2.2"/><circle cx="295.1" cy="300.0" r="2.2"/><circle cx="295.4" cy="314.7" r="2.2"/><circle cx="295.7" cy="296.9" r="2.2"/><circle cx="295.9" cy="306.4" r="2.2"/><circle cx="296.2" cy="324.3" r="2.2"/><circle cx="296.4" cy="251.2" r="2.2"/><circle cx="296.7" cy="300.0" r="2.2"/><circle cx="297.0" cy="320.5" r="2.2"/><circle cx="297.2" cy="291.7" r="2.2"/><circle cx="297.5" cy="303.4" r="2.2"/><circle cx="297.7" cy="317.4" r="2.2"/><circle cx="298.0" cy="313.8" r="2.2"/><circle cx="298.3" cy="308.2" r="2.2"/><circle cx="298.5" cy="322.5" r="2.2"/><circle cx="298.8" cy="301.6" r="2.2"/><circle cx="299.0" cy="311.4" r="2.2"/><circle cx="299.3" cy="291.7" r="2.2"/><circle cx="299.6" cy="308.0" r="2.2"/><circle cx="299.8" cy="316.3" r="2.2"/><circle cx="300.1" cy="314.9" r="2.2"/><circle cx="300.3" cy="309.2" r="2.2"/><circle cx="300.6" cy="325.0" r="2.2"/><circle cx="300.9" cy="298.9" r="2.2"/><circle cx="301.1" cy="312.3" r="2.2"/><circle cx="301.4" cy="313.6" r="2.2"/><circle cx="301.6" cy="308.5" r="2.2"/><circle cx="301.9" cy="245.3" r="2.2"/><circle cx="302.2" cy="323.9" r="2.2"/><circle cx="302.4" cy="299.8" r="2.2"/><circle cx="302.7" cy="311.3" r="2.2"/><circle cx="302.9" cy="290.8" r="2.2"/><circle cx="303.2" cy="304.6" r="2.2"/><circle cx="303.5" cy="318.2" r="2.2"/><circle cx="303.7" cy="300.9" r="2.2"/><circle cx="304.0" cy="310.3" r="2.2"/><circle cx="304.2" cy="322.0" r="2.2"/><circle cx="304.5" cy="316.8" r="2.2"/><circle cx="304.8" cy="307.4" r="2.2"/><circle cx="305.0" cy="297.9" r="2.2"/><circle cx="305.3" cy="249.9" r="2.2"/><circle cx="305.5" cy="307.9" r="2.2"/><circle cx="305.8" cy="323.0" r="2.2"/><circle cx="306.1" cy="299.8" r="2.2"/><circle cx="306.3" cy="314.1" r="2.2"/><circle cx="306.6" cy="323.5" r="2.2"/><circle cx="306.8" cy="304.6" r="2.2"/><circle cx="307.1" cy="322.0" r="2.2"/><circle cx="307.4" cy="254.6" r="2.2"/><circle cx="307.6" cy="294.3" r="2.2"/><circle cx="307.9" cy="311.3" r="2.2"/><circle cx="308.1" cy="324.0" r="2.2"/><circle cx="308.4" cy="315.4" r="2.2"/><circle cx="308.7" cy="311.3" r="2.2"/><circle cx="308.9" cy="291.8" r="2.2"/><circle cx="309.2" cy="308.5" r="2.2"/><circle cx="309.4" cy="322.1" r="2.2"/><circle cx="309.7" cy="295.8" r="2.2"/><circle cx="310.0" cy="309.0" r="2.2"/><circle cx="310.2" cy="324.9" r="2.2"/><circle cx="310.5" cy="316.7" r="2.2"/><circle cx="310.7" cy="246.8" r="2.2"/><circle cx="311.0" cy="318.8" r="2.2"/><circle cx="311.3" cy="290.0" r="2.2"/><circle cx="311.5" cy="304.6" r="2.2"/><circle cx="311.8" cy="322.3" r="2.2"/><circle cx="312.0" cy="315.5" r="2.2"/><circle cx="312.3" cy="315.5" r="2.2"/><circle cx="312.6" cy="290.4" r="2.2"/><circle cx="312.8" cy="318.2" r="2.2"/><circle cx="313.1" cy="319.2" r="2.2"/><circle cx="313.3" cy="293.2" r="2.2"/><circle cx="313.6" cy="310.9" r="2.2"/><circle cx="313.9" cy="312.2" r="2.2"/><circle cx="314.1" cy="251.3" r="2.2"/><circle cx="314.4" cy="301.9" r="2.2"/><circle cx="314.6" cy="316.2" r="2.2"/><circle cx="314.9" cy="296.0" r="2.2"/><circle cx="315.2" cy="302.6" r="2.2"/><circle cx="315.4" cy="324.0" r="2.2"/><circle cx="315.7" cy="297.2" r="2.2"/><circle cx="315.9" cy="312.3" r="2.2"/><circle cx="316.2" cy="243.6" r="2.2"/><circle cx="316.5" cy="296.1" r="2.2"/><circle cx="316.7" cy="318.1" r="2.2"/><circle cx="317.0" cy="317.2" r="2.2"/><circle cx="317.2" cy="293.8" r="2.2"/><circle cx="317.5" cy="319.1" r="2.2"/><circle cx="317.8" cy="323.6" r="2.2"/><circle cx="318.0" cy="299.8" r="2.2"/><circle cx="318.3" cy="313.7" r="2.2"/><circle cx="318.5" cy="313.4" r="2.2"/><circle cx="318.8" cy="306.0" r="2.2"/><circle cx="319.1" cy="316.5" r="2.2"/><circle cx="319.3" cy="294.8" r="2.2"/><circle cx="319.6" cy="248.1" r="2.2"/><circle cx="319.8" cy="320.2" r="2.2"/><circle cx="320.1" cy="312.1" r="2.2"/><circle cx="320.4" cy="300.1" r="2.2"/><circle cx="320.6" cy="318.4" r="2.2"/><circle cx="320.9" cy="294.9" r="2.2"/><circle cx="321.1" cy="310.9" r="2.2"/><circle cx="321.4" cy="321.4" r="2.2"/><circle cx="321.7" cy="252.9" r="2.2"/><circle cx="321.9" cy="297.1" r="2.2"/><circle cx="322.2" cy="320.7" r="2.2"/><circle cx="322.4" cy="313.7" r="2.2"/><circle cx="322.7" cy="302.0" r="2.2"/><circle cx="323.0" cy="314.6" r="2.2"/><circle cx="323.2" cy="292.0" r="2.2"/><circle cx="323.5" cy="311.8" r="2.2"/><circle cx="323.7" cy="291.2" r="2.2"/><circle cx="324.0" cy="300.2" r="2.2"/><circle cx="324.3" cy="309.5" r="2.2"/><circle cx="324.5" cy="293.1" r="2.2"/><circle cx="324.8" cy="303.6" r="2.2"/><circle cx="325.0" cy="246.3" r="2.2"/><circle cx="325.3" cy="317.8" r="2.2"/><circle cx="325.6" cy="302.3" r="2.2"/><circle cx="325.8" cy="319.8" r="2.2"/><circle cx="326.1" cy="312.0" r="2.2"/><circle cx="326.3" cy="249.0" r="2.2"/><circle cx="326.6" cy="298.3" r="2.2"/><circle cx="326.9" cy="317.9" r="2.2"/><circle cx="327.1" cy="314.7" r="2.2"/><circle cx="327.4" cy="320.4" r="2.2"/><circle cx="327.6" cy="253.9" r="2.2"/><circle cx="327.9" cy="320.3" r="2.2"/><circle cx="328.2" cy="300.7" r="2.2"/><circle cx="328.4" cy="247.0" r="2.2"/><circle cx="328.7" cy="314.9" r="2.2"/><circle cx="328.9" cy="292.6" r="2.2"/><circle cx="329.2" cy="301.6" r="2.2"/><circle cx="329.5" cy="316.9" r="2.2"/><circle cx="329.7" cy="253.8" r="2.2"/><circle cx="330.0" cy="313.8" r="2.2"/><circle cx="330.2" cy="307.3" r="2.2"/><circle cx="330.5" cy="246.2" r="2.2"/><circle cx="330.8" cy="322.7" r="2.2"/><circle cx="331.0" cy="301.4" r="2.2"/><circle cx="331.3" cy="320.6" r="2.2"/><circle cx="331.5" cy="294.5" r="2.2"/><circle cx="331.8" cy="249.5" r="2.2"/><circle cx="332.1" cy="304.7" r="2.2"/><circle cx="332.3" cy="318.9" r="2.2"/><circle cx="332.6" cy="316.7" r="2.2"/><circle cx="332.8" cy="312.9" r="2.2"/><circle cx="333.1" cy="253.4" r="2.2"/><circle cx="333.4" cy="294.9" r="2.2"/><circle cx="333.6" cy="301.8" r="2.2"/><circle cx="333.9" cy="247.6" r="2.2"/><circle cx="334.1" cy="322.2" r="2.2"/><circle cx="334.4" cy="293.9" r="2.2"/><circle cx="334.7" cy="307.0" r="2.2"/><circle cx="334.9" cy="322.8" r="2.2"/><circle cx="335.2" cy="251.8" r="2.2"/><circle cx="335.4" cy="315.4" r="2.2"/><circle cx="335.7" cy="312.1" r="2.2"/><circle cx="336.0" cy="291.9" r="2.2"/><circle cx="336.2" cy="306.7" r="2.2"/><circle cx="336.5" cy="243.7" r="2.2"/><circle cx="336.7" cy="320.0" r="2.2"/><circle cx="337.0" cy="297.2" r="2.2"/><circle cx="337.3" cy="247.4" r="2.2"/><circle cx="337.5" cy="308.7" r="2.2"/><circle cx="337.8" cy="319.8" r="2.2"/><circle cx="338.0" cy="299.8" r="2.2"/><circle cx="338.3" cy="321.7" r="2.2"/><circle cx="338.6" cy="255.1" r="2.2"/><circle cx="338.8" cy="295.5" r="2.2"/><circle cx="339.1" cy="312.0" r="2.2"/><circle cx="339.3" cy="245.1" r="2.2"/><circle cx="339.6" cy="319.6" r="2.2"/><circle cx="339.9" cy="317.0" r="2.2"/><circle cx="340.1" cy="310.6" r="2.2"/><circle cx="340.4" cy="291.0" r="2.2"/><circle cx="340.6" cy="248.8" r="2.2"/><circle cx="340.9" cy="316.8" r="2.2"/><circle cx="341.2" cy="322.6" r="2.2"/><circle cx="341.4" cy="296.8" r="2.2"/><circle cx="341.7" cy="301.9" r="2.2"/><circle cx="341.9" cy="255.1" r="2.2"/><circle cx="342.2" cy="322.4" r="2.2"/><circle cx="342.5" cy="316.4" r="2.2"/><circle cx="342.7" cy="246.4" r="2.2"/><circle cx="343.0" cy="314.1" r="2.2"/><circle cx="343.2" cy="293.2" r="2.2"/><circle cx="343.5" cy="307.5" r="2.2"/><circle cx="343.8" cy="322.5" r="2.2"/><circle cx="344.0" cy="251.3" r="2.2"/><circle cx="344.3" cy="313.0" r="2.2"/><circle cx="344.5" cy="311.6" r="2.2"/><circle cx="344.8" cy="244.9" r="2.2"/><circle cx="345.1" cy="293.2" r="2.2"/><circle cx="345.3" cy="248.6" r="2.2"/><circle cx="345.6" cy="316.4" r="2.2"/><circle cx="345.8" cy="315.8" r="2.2"/><circle cx="346.1" cy="252.9" r="2.2"/><circle cx="346.4" cy="292.8" r="2.2"/><circle cx="346.6" cy="318.1" r="2.2"/><circle cx="346.9" cy="323.7" r="2.2"/><circle cx="347.1" cy="295.6" r="2.2"/><circle cx="347.4" cy="246.1" r="2.2"/><circle cx="347.7" cy="316.6" r="2.2"/><circle cx="347.9" cy="325.0" r="2.2"/><circle cx="348.2" cy="250.1" r="2.2"/><circle cx="348.4" cy="317.1" r="2.2"/><circle cx="348.7" cy="321.4" r="2.2"/><circle cx="349.0" cy="300.5" r="2.2"/><circle cx="349.2" cy="309.9" r="2.2"/><circle cx="349.5" cy="253.9" r="2.2"/><circle cx="349.7" cy="323.6" r="2.2"/><circle cx="350.0" cy="296.5" r="2.2"/><circle cx="350.3" cy="314.6" r="2.2"/><circle cx="350.5" cy="299.2" r="2.2"/><circle cx="350.8" cy="247.8" r="2.2"/><circle cx="351.0" cy="318.4" r="2.2"/><circle cx="351.3" cy="319.7" r="2.2"/><circle cx="351.6" cy="250.5" r="2.2"/><circle cx="351.8" cy="301.8" r="2.2"/><circle cx="352.1" cy="245.1" r="2.2"/><circle cx="352.3" cy="313.0" r="2.2"/><circle cx="352.6" cy="323.7" r="2.2"/><circle cx="352.9" cy="247.9" r="2.2"/><circle cx="353.1" cy="317.1" r="2.2"/><circle cx="353.4" cy="315.6" r="2.2"/><circle cx="353.6" cy="243.4" r="2.2"/><circle cx="353.9" cy="293.2" r="2.2"/><circle cx="354.2" cy="245.3" r="2.2"/><circle cx="354.4" cy="320.0" r="2.2"/><circle cx="354.7" cy="323.1" r="2.2"/><circle cx="354.9" cy="250.0" r="2.2"/><circle cx="355.2" cy="299.3" r="2.2"/><circle cx="355.5" cy="243.4" r="2.2"/><circle cx="355.7" cy="314.7" r="2.2"/><circle cx="356.0" cy="313.9" r="2.2"/><circle cx="356.2" cy="246.6" r="2.2"/><circle cx="356.5" cy="304.7" r="2.2"/><circle cx="356.8" cy="317.8" r="2.2"/><circle cx="357.0" cy="251.4" r="2.2"/><circle cx="357.3" cy="298.3" r="2.2"/><circle cx="357.5" cy="245.0" r="2.2"/><circle cx="357.8" cy="320.0" r="2.2"/><circle cx="358.1" cy="324.4" r="2.2"/><circle cx="358.3" cy="248.0" r="2.2"/><circle cx="358.6" cy="299.9" r="2.2"/><circle cx="358.8" cy="322.3" r="2.2"/><circle cx="359.1" cy="324.8" r="2.2"/><circle cx="359.4" cy="319.9" r="2.2"/><circle cx="359.6" cy="251.8" r="2.2"/><circle cx="359.9" cy="324.9" r="2.2"/><circle cx="360.1" cy="316.8" r="2.2"/><circle cx="360.4" cy="245.9" r="2.2"/><circle cx="360.7" cy="320.4" r="2.2"/><circle cx="360.9" cy="249.4" r="2.2"/><circle cx="361.2" cy="296.9" r="2.2"/><circle cx="361.4" cy="318.6" r="2.2"/><circle cx="361.7" cy="243.8" r="2.2"/><circle cx="362.0" cy="322.5" r="2.2"/><circle cx="362.2" cy="315.9" r="2.2"/><circle cx="362.5" cy="253.5" r="2.2"/><circle cx="362.7" cy="319.1" r="2.2"/><circle cx="363.0" cy="250.7" r="2.2"/><circle cx="363.3" cy="309.6" r="2.2"/><circle cx="363.5" cy="317.0" r="2.2"/><circle cx="363.8" cy="245.9" r="2.2"/><circle cx="364.0" cy="322.0" r="2.2"/><circle cx="364.3" cy="248.5" r="2.2"/><circle cx="364.6" cy="315.3" r="2.2"/><circle cx="364.8" cy="303.7" r="2.2"/><circle cx="365.1" cy="243.5" r="2.2"/><circle cx="365.3" cy="324.2" r="2.2"/><circle cx="365.6" cy="316.6" r="2.2"/><circle cx="365.9" cy="247.7" r="2.2"/><circle cx="366.1" cy="322.7" r="2.2"/><circle cx="366.4" cy="250.4" r="2.2"/><circle cx="366.6" cy="297.4" r="2.2"/><circle cx="366.9" cy="318.2" r="2.2"/><circle cx="367.2" cy="244.9" r="2.2"/><circle cx="367.4" cy="322.7" r="2.2"/><circle cx="367.7" cy="246.8" r="2.2"/><circle cx="367.9" cy="251.7" r="2.2"/><circle cx="368.2" cy="315.5" r="2.2"/><circle cx="368.5" cy="245.6" r="2.2"/><circle cx="368.7" cy="303.1" r="2.2"/><circle cx="369.0" cy="325.1" r="2.2"/><circle cx="369.2" cy="248.7" r="2.2"/><circle cx="369.5" cy="317.2" r="2.2"/><circle cx="369.8" cy="243.5" r="2.2"/><circle cx="370.0" cy="321.1" r="2.2"/><circle cx="370.3" cy="325.2" r="2.2"/><circle cx="370.5" cy="246.9" r="2.2"/><circle cx="370.8" cy="317.6" r="2.2"/><circle cx="371.1" cy="321.9" r="2.2"/><circle cx="371.3" cy="250.1" r="2.2"/><circle cx="371.6" cy="317.5" r="2.2"/><circle cx="371.8" cy="245.5" r="2.2"/><circle cx="372.1" cy="304.9" r="2.2"/><circle cx="372.4" cy="311.5" r="2.2"/><circle cx="372.6" cy="248.1" r="2.2"/><circle cx="372.9" cy="317.5" r="2.2"/><circle cx="373.1" cy="243.2" r="2.2"/><circle cx="373.4" cy="322.5" r="2.2"/><circle cx="373.7" cy="314.9" r="2.2"/><circle cx="373.9" cy="245.0" r="2.2"/><circle cx="374.2" cy="302.7" r="2.2"/><circle cx="374.4" cy="322.8" r="2.2"/><circle cx="374.7" cy="249.3" r="2.2"/><circle cx="375.0" cy="317.0" r="2.2"/><circle cx="375.2" cy="244.4" r="2.2"/><circle cx="375.5" cy="322.2" r="2.2"/><circle cx="375.7" cy="296.1" r="2.2"/><circle cx="376.0" cy="247.4" r="2.2"/><circle cx="376.3" cy="319.0" r="2.2"/><circle cx="376.5" cy="252.2" r="2.2"/><circle cx="376.8" cy="246.7" r="2.2"/><circle cx="377.0" cy="324.3" r="2.2"/><circle cx="377.3" cy="248.0" r="2.2"/><circle cx="377.6" cy="314.5" r="2.2"/><circle cx="377.8" cy="303.8" r="2.2"/><circle cx="378.1" cy="252.1" r="2.2"/><circle cx="378.3" cy="324.1" r="2.2"/><circle cx="378.6" cy="247.6" r="2.2"/><circle cx="378.9" cy="315.7" r="2.2"/><circle cx="379.1" cy="307.3" r="2.2"/><circle cx="379.4" cy="250.2" r="2.2"/><circle cx="379.6" cy="315.1" r="2.2"/><circle cx="379.9" cy="245.5" r="2.2"/><circle cx="380.2" cy="247.9" r="2.2"/><circle cx="380.4" cy="318.3" r="2.2"/><circle cx="380.7" cy="251.3" r="2.2"/><circle cx="380.9" cy="324.5" r="2.2"/><circle cx="381.2" cy="318.2" r="2.2"/><circle cx="381.5" cy="244.9" r="2.2"/><circle cx="381.7" cy="304.6" r="2.2"/><circle cx="382.0" cy="250.4" r="2.2"/><circle cx="382.2" cy="244.0" r="2.2"/><circle cx="382.5" cy="323.5" r="2.2"/><circle cx="382.8" cy="256.5" r="2.2"/><circle cx="383.0" cy="319.1" r="2.2"/><circle cx="383.3" cy="322.1" r="2.2"/><circle cx="383.5" cy="253.0" r="2.2"/><circle cx="383.8" cy="314.7" r="2.2"/><circle cx="384.1" cy="245.3" r="2.2"/><circle cx="384.3" cy="320.2" r="2.2"/><circle cx="384.6" cy="314.1" r="2.2"/><circle cx="384.8" cy="248.5" r="2.2"/><circle cx="385.1" cy="315.4" r="2.2"/><circle cx="385.4" cy="251.8" r="2.2"/><circle cx="385.6" cy="257.3" r="2.2"/><circle cx="385.9" cy="307.1" r="2.2"/><circle cx="386.1" cy="249.2" r="2.2"/><circle cx="386.4" cy="314.5" r="2.2"/><circle cx="386.7" cy="319.0" r="2.2"/><circle cx="386.9" cy="243.8" r="2.2"/><circle cx="387.2" cy="323.2" r="2.2"/><circle cx="387.4" cy="248.9" r="2.2"/><circle cx="387.7" cy="301.5" r="2.2"/><circle cx="388.0" cy="320.6" r="2.2"/><circle cx="388.2" cy="251.3" r="2.2"/><circle cx="388.5" cy="323.0" r="2.2"/><circle cx="388.7" cy="246.4" r="2.2"/><circle cx="389.0" cy="249.6" r="2.2"/><circle cx="389.3" cy="318.2" r="2.2"/><circle cx="389.5" cy="251.6" r="2.2"/><circle cx="389.8" cy="308.2" r="2.2"/><circle cx="390.0" cy="298.4" r="2.2"/><circle cx="390.3" cy="246.6" r="2.2"/><circle cx="390.6" cy="321.8" r="2.2"/><circle cx="390.8" cy="249.8" r="2.2"/><circle cx="391.1" cy="244.8" r="2.2"/><circle cx="391.3" cy="323.2" r="2.2"/><circle cx="391.6" cy="249.5" r="2.2"/><circle cx="391.9" cy="315.8" r="2.2"/><circle cx="392.1" cy="320.4" r="2.2"/><circle cx="392.4" cy="250.2" r="2.2"/><circle cx="392.6" cy="314.1" r="2.2"/><circle cx="392.9" cy="245.3" r="2.2"/><circle cx="393.2" cy="317.6" r="2.2"/><circle cx="393.4" cy="308.8" r="2.2"/><circle cx="393.7" cy="250.9" r="2.2"/><circle cx="393.9" cy="314.9" r="2.2"/><circle cx="394.2" cy="243.9" r="2.2"/><circle cx="394.5" cy="246.5" r="2.2"/><circle cx="394.7" cy="320.0" r="2.2"/><circle cx="395.0" cy="252.0" r="2.2"/><circle cx="395.2" cy="324.3" r="2.2"/><circle cx="395.5" cy="317.2" r="2.2"/><circle cx="395.8" cy="245.0" r="2.2"/><circle cx="396.0" cy="321.1" r="2.2"/><circle cx="396.3" cy="248.8" r="2.2"/><circle cx="396.5" cy="316.0" r="2.2"/><circle cx="396.8" cy="320.0" r="2.2"/><circle cx="397.1" cy="243.1" r="2.2"/><circle cx="397.3" cy="309.6" r="2.2"/><circle cx="397.6" cy="253.5" r="2.2"/><circle cx="397.8" cy="250.1" r="2.2"/><circle cx="398.1" cy="299.5" r="2.2"/><circle cx="398.4" cy="245.4" r="2.2"/><circle cx="398.6" cy="320.5" r="2.2"/><circle cx="398.9" cy="324.6" r="2.2"/><circle cx="399.1" cy="247.2" r="2.2"/><circle cx="399.4" cy="302.6" r="2.2"/><circle cx="399.7" cy="243.2" r="2.2"/><circle cx="399.9" cy="245.5" r="2.2"/><circle cx="400.2" cy="309.5" r="2.2"/><circle cx="400.4" cy="248.4" r="2.2"/><circle cx="400.7" cy="316.1" r="2.2"/><circle cx="401.0" cy="320.8" r="2.2"/><circle cx="401.2" cy="243.9" r="2.2"/><circle cx="401.5" cy="310.8" r="2.2"/><circle cx="401.7" cy="246.9" r="2.2"/><circle cx="402.0" cy="317.4" r="2.2"/><circle cx="402.3" cy="320.7" r="2.2"/><circle cx="402.5" cy="250.1" r="2.2"/><circle cx="402.8" cy="316.8" r="2.2"/><circle cx="403.0" cy="253.0" r="2.2"/><circle cx="403.3" cy="247.6" r="2.2"/><circle cx="403.6" cy="319.0" r="2.2"/><circle cx="403.8" cy="258.5" r="2.2"/><circle cx="404.1" cy="308.6" r="2.2"/><circle cx="404.3" cy="317.0" r="2.2"/><circle cx="404.6" cy="246.4" r="2.2"/><circle cx="404.9" cy="319.2" r="2.2"/><circle cx="405.1" cy="248.7" r="2.2"/><circle cx="405.4" cy="244.7" r="2.2"/><circle cx="405.6" cy="323.6" r="2.2"/><circle cx="405.9" cy="248.4" r="2.2"/><circle cx="406.2" cy="316.0" r="2.2"/><circle cx="406.4" cy="250.8" r="2.2"/><circle cx="406.7" cy="245.5" r="2.2"/><circle cx="406.9" cy="322.1" r="2.2"/><circle cx="407.2" cy="258.9" r="2.2"/><circle cx="407.5" cy="324.2" r="2.2"/><circle cx="407.7" cy="319.0" r="2.2"/><circle cx="408.0" cy="251.7" r="2.2"/><circle cx="408.2" cy="322.3" r="2.2"/><circle cx="408.5" cy="246.2" r="2.2"/><circle cx="408.8" cy="248.9" r="2.2"/><circle cx="409.0" cy="316.5" r="2.2"/><circle cx="409.3" cy="253.9" r="2.2"/><circle cx="409.5" cy="321.8" r="2.2"/><circle cx="409.8" cy="313.6" r="2.2"/><circle cx="410.1" cy="247.2" r="2.2"/><circle cx="410.3" cy="318.5" r="2.2"/><circle cx="410.6" cy="251.4" r="2.2"/><circle cx="410.8" cy="322.4" r="2.2"/><circle cx="411.1" cy="315.8" r="2.2"/><circle cx="411.4" cy="254.2" r="2.2"/><circle cx="411.6" cy="321.1" r="2.2"/><circle cx="411.9" cy="249.0" r="2.2"/><circle cx="412.1" cy="243.3" r="2.2"/><circle cx="412.4" cy="313.3" r="2.2"/><circle cx="412.7" cy="247.1" r="2.2"/><circle cx="412.9" cy="318.1" r="2.2"/><circle cx="413.2" cy="321.0" r="2.2"/><circle cx="413.4" cy="251.1" r="2.2"/><circle cx="413.7" cy="268.6" r="2.2"/><circle cx="414.0" cy="244.5" r="2.2"/><circle cx="414.2" cy="248.6" r="2.2"/><circle cx="414.5" cy="319.1" r="2.2"/><circle cx="414.7" cy="251.2" r="2.2"/><circle cx="415.0" cy="322.8" r="2.2"/><circle cx="415.3" cy="245.8" r="2.2"/><circle cx="415.5" cy="249.8" r="2.2"/><circle cx="415.8" cy="317.3" r="2.2"/><circle cx="416.0" cy="244.5" r="2.2"/><circle cx="416.3" cy="320.1" r="2.2"/><circle cx="416.6" cy="322.9" r="2.2"/><circle cx="416.8" cy="248.4" r="2.2"/><circle cx="417.1" cy="319.0" r="2.2"/><circle cx="417.3" cy="250.4" r="2.2"/><circle cx="417.6" cy="245.1" r="2.2"/><circle cx="417.9" cy="321.6" r="2.2"/><circle cx="418.1" cy="250.1" r="2.2"/><circle cx="418.4" cy="257.7" r="2.2"/><circle cx="418.6" cy="320.6" r="2.2"/><circle cx="418.9" cy="255.6" r="2.2"/><circle cx="419.2" cy="322.7" r="2.2"/><circle cx="419.4" cy="246.9" r="2.2"/><circle cx="419.7" cy="249.8" r="2.2"/><circle cx="419.9" cy="316.4" r="2.2"/><circle cx="420.2" cy="245.3" r="2.2"/><circle cx="420.5" cy="311.6" r="2.2"/><circle cx="420.7" cy="248.2" r="2.2"/><circle cx="421.0" cy="243.2" r="2.2"/><circle cx="421.2" cy="308.5" r="2.2"/><circle cx="421.5" cy="246.4" r="2.2"/><circle cx="421.8" cy="318.9" r="2.2"/><circle cx="422.0" cy="323.1" r="2.2"/><circle cx="422.3" cy="249.6" r="2.2"/><circle cx="422.5" cy="316.0" r="2.2"/><circle cx="422.8" cy="243.9" r="2.2"/><circle cx="423.1" cy="247.6" r="2.2"/><circle cx="423.3" cy="319.7" r="2.2"/><circle cx="423.6" cy="251.4" r="2.2"/><circle cx="423.8" cy="324.2" r="2.2"/><circle cx="424.1" cy="319.6" r="2.2"/><circle cx="424.4" cy="245.1" r="2.2"/><circle cx="424.6" cy="322.3" r="2.2"/><circle cx="424.9" cy="248.0" r="2.2"/><circle cx="425.1" cy="324.2" r="2.2"/><circle cx="425.4" cy="311.2" r="2.2"/><circle cx="425.7" cy="243.8" r="2.2"/><circle cx="425.9" cy="323.6" r="2.2"/><circle cx="426.2" cy="247.5" r="2.2"/><circle cx="426.4" cy="249.5" r="2.2"/><circle cx="426.7" cy="317.4" r="2.2"/><circle cx="427.0" cy="245.1" r="2.2"/><circle cx="427.2" cy="320.9" r="2.2"/><circle cx="427.5" cy="324.2" r="2.2"/><circle cx="427.7" cy="248.1" r="2.2"/><circle cx="428.0" cy="318.9" r="2.2"/><circle cx="428.3" cy="251.7" r="2.2"/><circle cx="428.5" cy="246.3" r="2.2"/><circle cx="428.8" cy="322.1" r="2.2"/><circle cx="429.0" cy="253.6" r="2.2"/><circle cx="429.3" cy="317.2" r="2.2"/><circle cx="429.6" cy="243.7" r="2.2"/><circle cx="429.8" cy="247.8" r="2.2"/><circle cx="430.1" cy="319.5" r="2.2"/><circle cx="430.3" cy="250.6" r="2.2"/><circle cx="430.6" cy="324.2" r="2.2"/><circle cx="430.9" cy="317.4" r="2.2"/><circle cx="431.1" cy="244.5" r="2.2"/><circle cx="431.4" cy="321.1" r="2.2"/><circle cx="431.6" cy="248.7" r="2.2"/><circle cx="431.9" cy="243.1" r="2.2"/><circle cx="432.2" cy="323.5" r="2.2"/><circle cx="432.4" cy="246.2" r="2.2"/><circle cx="432.7" cy="319.0" r="2.2"/><circle cx="432.9" cy="322.7" r="2.2"/><circle cx="433.2" cy="250.6" r="2.2"/><circle cx="433.5" cy="309.3" r="2.2"/><circle cx="433.7" cy="243.8" r="2.2"/><circle cx="434.0" cy="320.1" r="2.2"/><circle cx="434.2" cy="323.7" r="2.2"/><circle cx="434.5" cy="247.6" r="2.2"/><circle cx="434.8" cy="318.7" r="2.2"/><circle cx="435.0" cy="251.2" r="2.2"/><circle cx="435.3" cy="244.9" r="2.2"/><circle cx="435.5" cy="321.7" r="2.2"/><circle cx="435.8" cy="250.5" r="2.2"/><circle cx="436.1" cy="316.5" r="2.2"/><circle cx="436.3" cy="320.7" r="2.2"/><circle cx="436.6" cy="243.9" r="2.2"/><circle cx="436.8" cy="321.6" r="2.2"/><circle cx="437.1" cy="247.1" r="2.2"/><circle cx="437.4" cy="251.0" r="2.2"/><circle cx="437.6" cy="310.1" r="2.2"/><circle cx="437.9" cy="244.9" r="2.2"/><circle cx="438.1" cy="320.0" r="2.2"/><circle cx="438.4" cy="256.1" r="2.2"/><circle cx="438.7" cy="251.2" r="2.2"/><circle cx="438.9" cy="323.1" r="2.2"/><circle cx="439.2" cy="246.0" r="2.2"/><circle cx="439.4" cy="319.0" r="2.2"/><circle cx="439.7" cy="322.6" r="2.2"/><circle cx="440.0" cy="250.4" r="2.2"/><circle cx="440.2" cy="317.6" r="2.2"/><circle cx="440.5" cy="245.0" r="2.2"/><circle cx="440.7" cy="246.4" r="2.2"/><circle cx="441.0" cy="320.3" r="2.2"/><circle cx="441.3" cy="250.2" r="2.2"/><circle cx="441.5" cy="323.3" r="2.2"/><circle cx="441.8" cy="317.3" r="2.2"/><circle cx="442.0" cy="245.2" r="2.2"/><circle cx="442.3" cy="321.9" r="2.2"/><circle cx="442.6" cy="249.1" r="2.2"/><circle cx="442.8" cy="251.8" r="2.2"/><circle cx="443.1" cy="324.2" r="2.2"/><circle cx="443.3" cy="256.4" r="2.2"/><circle cx="443.6" cy="320.1" r="2.2"/><circle cx="443.9" cy="250.9" r="2.2"/><circle cx="444.1" cy="244.1" r="2.2"/><circle cx="444.4" cy="323.4" r="2.2"/><circle cx="444.6" cy="248.6" r="2.2"/><circle cx="444.9" cy="316.4" r="2.2"/><circle cx="445.2" cy="322.1" r="2.2"/><circle cx="445.4" cy="251.5" r="2.2"/><circle cx="445.7" cy="323.3" r="2.2"/><circle cx="445.9" cy="244.6" r="2.2"/><circle cx="446.2" cy="248.3" r="2.2"/><circle cx="446.5" cy="319.3" r="2.2"/><circle cx="446.7" cy="243.4" r="2.2"/><circle cx="447.0" cy="321.3" r="2.2"/><circle cx="447.2" cy="316.0" r="2.2"/><circle cx="447.5" cy="247.3" r="2.2"/><circle cx="447.8" cy="320.4" r="2.2"/><circle cx="448.0" cy="250.2" r="2.2"/><circle cx="448.3" cy="324.2" r="2.2"/><circle cx="448.5" cy="318.6" r="2.2"/><circle cx="448.8" cy="245.5" r="2.2"/><circle cx="449.1" cy="321.1" r="2.2"/><circle cx="449.3" cy="247.6" r="2.2"/><circle cx="449.6" cy="252.2" r="2.2"/><circle cx="449.8" cy="324.0" r="2.2"/><circle cx="450.1" cy="252.7" r="2.2"/><circle cx="450.4" cy="319.0" r="2.2"/><circle cx="450.6" cy="322.6" r="2.2"/><circle cx="450.9" cy="249.4" r="2.2"/><circle cx="451.1" cy="317.1" r="2.2"/><circle cx="451.4" cy="244.1" r="2.2"/><circle cx="451.7" cy="248.1" r="2.2"/><circle cx="451.9" cy="318.8" r="2.2"/><circle cx="452.2" cy="251.9" r="2.2"/><circle cx="452.4" cy="316.1" r="2.2"/><circle cx="452.7" cy="244.5" r="2.2"/><circle cx="453.0" cy="249.9" r="2.2"/><circle cx="453.2" cy="317.6" r="2.2"/><circle cx="453.5" cy="243.7" r="2.2"/><circle cx="453.7" cy="322.1" r="2.2"/><circle cx="454.0" cy="315.5" r="2.2"/><circle cx="454.3" cy="247.5" r="2.2"/><circle cx="454.5" cy="319.3" r="2.2"/><circle cx="454.8" cy="250.0" r="2.2"/><circle cx="455.0" cy="253.7" r="2.2"/><circle cx="455.3" cy="324.3" r="2.2"/><circle cx="455.6" cy="247.7" r="2.2"/><circle cx="455.8" cy="318.1" r="2.2"/><circle cx="456.1" cy="320.6" r="2.2"/><circle cx="456.3" cy="252.2" r="2.2"/><circle cx="456.6" cy="316.2" r="2.2"/><circle cx="456.9" cy="245.4" r="2.2"/><circle cx="457.1" cy="318.8" r="2.2"/><circle cx="457.4" cy="321.9" r="2.2"/><circle cx="457.6" cy="249.2" r="2.2"/><circle cx="457.9" cy="316.3" r="2.2"/><circle cx="458.2" cy="244.3" r="2.2"/><circle cx="458.4" cy="247.0" r="2.2"/><circle cx="458.7" cy="319.4" r="2.2"/><circle cx="458.9" cy="251.3" r="2.2"/><circle cx="459.2" cy="324.2" r="2.2"/><circle cx="459.5" cy="318.2" r="2.2"/><circle cx="459.7" cy="253.5" r="2.2"/><circle cx="460.0" cy="321.7" r="2.2"/><circle cx="460.2" cy="248.5" r="2.2"/><circle cx="460.5" cy="251.7" r="2.2"/><circle cx="460.8" cy="316.0" r="2.2"/><circle cx="461.0" cy="246.1" r="2.2"/><circle cx="461.3" cy="318.4" r="2.2"/><circle cx="461.5" cy="322.6" r="2.2"/><circle cx="461.8" cy="249.6" r="2.2"/><circle cx="462.1" cy="316.6" r="2.2"/><circle cx="462.3" cy="244.8" r="2.2"/><circle cx="462.6" cy="320.1" r="2.2"/><circle cx="462.8" cy="324.2" r="2.2"/><circle cx="463.1" cy="247.0" r="2.2"/><circle cx="463.4" cy="318.6" r="2.2"/><circle cx="463.6" cy="250.6" r="2.2"/><circle cx="463.9" cy="246.0" r="2.2"/><circle cx="464.1" cy="322.0" r="2.2"/><circle cx="464.4" cy="249.4" r="2.2"/><circle cx="464.7" cy="315.8" r="2.2"/><circle cx="464.9" cy="319.7" r="2.2"/><circle cx="465.2" cy="244.0" r="2.2"/><circle cx="465.4" cy="323.1" r="2.2"/><circle cx="465.7" cy="247.2" r="2.2"/><circle cx="466.0" cy="250.4" r="2.2"/><circle cx="466.2" cy="317.9" r="2.2"/><circle cx="466.5" cy="244.1" r="2.2"/><circle cx="466.7" cy="321.6" r="2.2"/><circle cx="467.0" cy="247.9" r="2.2"/><circle cx="467.3" cy="251.6" r="2.2"/><circle cx="467.5" cy="323.4" r="2.2"/><circle cx="467.8" cy="245.8" r="2.2"/><circle cx="468.0" cy="319.0" r="2.2"/><circle cx="468.3" cy="321.9" r="2.2"/><circle cx="468.6" cy="249.9" r="2.2"/><circle cx="468.8" cy="317.6" r="2.2"/><circle cx="469.1" cy="244.1" r="2.2"/><circle cx="469.3" cy="247.3" r="2.2"/><circle cx="469.6" cy="320.2" r="2.2"/><circle cx="469.9" cy="250.0" r="2.2"/><circle cx="470.1" cy="324.1" r="2.2"/><circle cx="470.4" cy="317.3" r="2.2"/><circle cx="470.6" cy="245.1" r="2.2"/><circle cx="470.9" cy="321.6" r="2.2"/><circle cx="471.2" cy="249.4" r="2.2"/><circle cx="471.4" cy="315.8" r="2.2"/><circle cx="471.7" cy="319.9" r="2.2"/><circle cx="471.9" cy="243.8" r="2.2"/><circle cx="472.2" cy="323.7" r="2.2"/><circle cx="472.5" cy="253.3" r="2.2"/><circle cx="472.7" cy="251.6" r="2.2"/><circle cx="473.0" cy="318.2" r="2.2"/><circle cx="473.2" cy="244.5" r="2.2"/><circle cx="473.5" cy="319.0" r="2.2"/><circle cx="473.8" cy="312.3" r="2.2"/><circle cx="474.0" cy="249.0" r="2.2"/><circle cx="474.3" cy="314.8" r="2.2"/><circle cx="474.5" cy="251.3" r="2.2"/><circle cx="474.8" cy="245.4" r="2.2"/><circle cx="475.1" cy="322.0" r="2.2"/><circle cx="475.3" cy="249.7" r="2.2"/><circle cx="475.6" cy="313.7" r="2.2"/><circle cx="475.8" cy="244.0" r="2.2"/><circle cx="476.1" cy="246.9" r="2.2"/><circle cx="476.4" cy="318.8" r="2.2"/><circle cx="476.6" cy="250.6" r="2.2"/><circle cx="476.9" cy="323.3" r="2.2"/><circle cx="477.1" cy="317.0" r="2.2"/><circle cx="477.4" cy="254.1" r="2.2"/><circle cx="477.7" cy="321.1" r="2.2"/><circle cx="477.9" cy="247.9" r="2.2"/><circle cx="478.2" cy="243.8" r="2.2"/><circle cx="478.4" cy="324.8" r="2.2"/><circle cx="478.7" cy="246.9" r="2.2"/><circle cx="479.0" cy="273.6" r="2.2"/><circle cx="479.2" cy="321.4" r="2.2"/><circle cx="479.5" cy="250.1" r="2.2"/><circle cx="479.7" cy="314.3" r="2.2"/><circle cx="480.0" cy="244.4" r="2.2"/><circle cx="480.3" cy="246.8" r="2.2"/><circle cx="480.5" cy="317.8" r="2.2"/><circle cx="480.8" cy="251.6" r="2.2"/><circle cx="481.0" cy="324.6" r="2.2"/><circle cx="481.3" cy="315.1" r="2.2"/><circle cx="481.6" cy="245.5" r="2.2"/><circle cx="481.8" cy="319.7" r="2.2"/><circle cx="482.1" cy="324.4" r="2.2"/><circle cx="482.3" cy="317.8" r="2.2"/><circle cx="482.6" cy="323.9" r="2.2"/><circle cx="482.9" cy="249.3" r="2.2"/><circle cx="483.1" cy="312.0" r="2.2"/><circle cx="483.4" cy="319.3" r="2.2"/><circle cx="483.6" cy="243.7" r="2.2"/><circle cx="483.9" cy="265.2" r="2.2"/><circle cx="484.2" cy="313.5" r="2.2"/><circle cx="484.4" cy="321.6" r="2.2"/><circle cx="484.7" cy="313.0" r="2.2"/><circle cx="484.9" cy="246.9" r="2.2"/><circle cx="485.2" cy="318.4" r="2.2"/><circle cx="485.5" cy="324.4" r="2.2"/><circle cx="485.7" cy="312.4" r="2.2"/><circle cx="486.0" cy="320.5" r="2.2"/><circle cx="486.2" cy="249.8" r="2.2"/><circle cx="486.5" cy="307.2" r="2.2"/><circle cx="486.8" cy="316.0" r="2.2"/><circle cx="487.0" cy="259.8" r="2.2"/><circle cx="487.3" cy="323.8" r="2.2"/><circle cx="487.5" cy="309.1" r="2.2"/><circle cx="487.8" cy="319.7" r="2.2"/><circle cx="488.1" cy="324.2" r="2.2"/><circle cx="488.3" cy="249.5" r="2.2"/><circle cx="488.6" cy="316.5" r="2.2"/><circle cx="488.8" cy="321.0" r="2.2"/><circle cx="489.1" cy="256.8" r="2.2"/><circle cx="489.4" cy="306.4" r="2.2"/><circle cx="489.6" cy="313.8" r="2.2"/><circle cx="489.9" cy="322.1" r="2.2"/><circle cx="490.1" cy="315.9" r="2.2"/><circle cx="490.4" cy="246.0" r="2.2"/><circle cx="490.7" cy="319.1" r="2.2"/><circle cx="490.9" cy="305.5" r="2.2"/><circle cx="491.2" cy="312.5" r="2.2"/><circle cx="491.4" cy="322.7" r="2.2"/><circle cx="491.7" cy="250.3" r="2.2"/><circle cx="492.0" cy="314.0" r="2.2"/><circle cx="492.2" cy="314.3" r="2.2"/><circle cx="492.5" cy="244.5" r="2.2"/><circle cx="492.7" cy="325.2" r="2.2"/><circle cx="493.0" cy="317.3" r="2.2"/><circle cx="493.3" cy="317.1" r="2.2"/><circle cx="493.5" cy="324.2" r="2.2"/><circle cx="493.8" cy="247.2" r="2.2"/><circle cx="494.0" cy="314.9" r="2.2"/><circle cx="494.3" cy="324.1" r="2.2"/><circle cx="494.6" cy="307.9" r="2.2"/><circle cx="494.8" cy="315.4" r="2.2"/><circle cx="495.1" cy="251.0" r="2.2"/><circle cx="495.3" cy="323.5" r="2.2"/><circle cx="495.6" cy="310.7" r="2.2"/><circle cx="495.9" cy="246.7" r="2.2"/><circle cx="496.1" cy="320.5" r="2.2"/><circle cx="496.4" cy="305.4" r="2.2"/><circle cx="496.6" cy="307.6" r="2.2"/><circle cx="496.9" cy="319.8" r="2.2"/><circle cx="497.2" cy="248.9" r="2.2"/><circle cx="497.4" cy="315.1" r="2.2"/><circle cx="497.7" cy="316.8" r="2.2"/><circle cx="497.9" cy="251.6" r="2.2"/><circle cx="498.2" cy="304.5" r="2.2"/><circle cx="498.5" cy="317.2" r="2.2"/><circle cx="498.7" cy="322.0" r="2.2"/><circle cx="499.0" cy="305.4" r="2.2"/><circle cx="499.2" cy="246.3" r="2.2"/><circle cx="499.5" cy="314.4" r="2.2"/><circle cx="499.8" cy="312.5" r="2.2"/><circle cx="500.0" cy="308.0" r="2.2"/><circle cx="500.3" cy="317.6" r="2.2"/><circle cx="500.5" cy="250.4" r="2.2"/><circle cx="500.8" cy="301.1" r="2.2"/><circle cx="501.1" cy="319.1" r="2.2"/><circle cx="501.3" cy="244.7" r="2.2"/><circle cx="501.6" cy="316.7" r="2.2"/><circle cx="501.8" cy="305.7" r="2.2"/><circle cx="502.1" cy="313.8" r="2.2"/><circle cx="502.4" cy="303.8" r="2.2"/><circle cx="502.6" cy="248.5" r="2.2"/><circle cx="502.9" cy="309.2" r="2.2"/><circle cx="503.1" cy="321.2" r="2.2"/><circle cx="503.4" cy="250.6" r="2.2"/><circle cx="503.7" cy="301.0" r="2.2"/><circle cx="503.9" cy="245.6" r="2.2"/><circle cx="504.2" cy="313.4" r="2.2"/><circle cx="504.4" cy="324.0" r="2.2"/><circle cx="504.7" cy="249.5" r="2.2"/><circle cx="505.0" cy="306.3" r="2.2"/><circle cx="505.2" cy="316.3" r="2.2"/><circle cx="505.5" cy="324.5" r="2.2"/><circle cx="505.7" cy="317.1" r="2.2"/><circle cx="506.0" cy="251.6" r="2.2"/><circle cx="506.3" cy="325.0" r="2.2"/><circle cx="506.5" cy="303.5" r="2.2"/><circle cx="506.8" cy="247.1" r="2.2"/><circle cx="507.0" cy="309.2" r="2.2"/><circle cx="507.3" cy="312.6" r="2.2"/><circle cx="507.6" cy="304.2" r="2.2"/><circle cx="507.8" cy="318.1" r="2.2"/><circle cx="508.1" cy="249.1" r="2.2"/><circle cx="508.3" cy="300.4" r="2.2"/><circle cx="508.6" cy="319.2" r="2.2"/><circle cx="508.9" cy="319.8" r="2.2"/><circle cx="509.1" cy="307.3" r="2.2"/><circle cx="509.4" cy="244.8" r="2.2"/><circle cx="509.6" cy="316.1" r="2.2"/><circle cx="509.9" cy="312.0" r="2.2"/><circle cx="510.2" cy="248.7" r="2.2"/><circle cx="510.4" cy="309.1" r="2.2"/><circle cx="510.7" cy="321.8" r="2.2"/><circle cx="510.9" cy="303.6" r="2.2"/><circle cx="511.2" cy="319.4" r="2.2"/><circle cx="511.5" cy="251.1" r="2.2"/><circle cx="511.7" cy="322.7" r="2.2"/><circle cx="512.0" cy="307.4" r="2.2"/><circle cx="512.2" cy="246.3" r="2.2"/><circle cx="512.5" cy="316.2" r="2.2"/><circle cx="512.8" cy="297.0" r="2.2"/><circle cx="513.0" cy="307.5" r="2.2"/><circle cx="513.3" cy="322.0" r="2.2"/><circle cx="513.5" cy="299.9" r="2.2"/><circle cx="513.8" cy="321.1" r="2.2"/><circle cx="514.1" cy="294.4" r="2.2"/><circle cx="514.3" cy="304.7" r="2.2"/><circle cx="514.6" cy="320.7" r="2.2"/><circle cx="514.8" cy="312.6" r="2.2"/><circle cx="515.1" cy="308.8" r="2.2"/><circle cx="515.4" cy="323.0" r="2.2"/><circle cx="515.6" cy="245.6" r="2.2"/><circle cx="515.9" cy="302.2" r="2.2"/><circle cx="516.1" cy="316.8" r="2.2"/><circle cx="516.4" cy="292.8" r="2.2"/><circle cx="516.7" cy="306.7" r="2.2"/><circle cx="516.9" cy="317.7" r="2.2"/><circle cx="517.2" cy="315.7" r="2.2"/><circle cx="517.4" cy="318.7" r="2.2"/><circle cx="517.7" cy="323.0" r="2.2"/><circle cx="518.0" cy="299.8" r="2.2"/><circle cx="518.2" cy="320.6" r="2.2"/><circle cx="518.5" cy="312.6" r="2.2"/><circle cx="518.7" cy="311.3" r="2.2"/><circle cx="519.0" cy="321.5" r="2.2"/><circle cx="519.3" cy="315.2" r="2.2"/><circle cx="519.5" cy="321.3" r="2.2"/><circle cx="519.8" cy="323.8" r="2.2"/><circle cx="520.0" cy="308.1" r="2.2"/><circle cx="520.3" cy="315.1" r="2.2"/><circle cx="520.6" cy="315.0" r="2.2"/><circle cx="520.8" cy="308.9" r="2.2"/><circle cx="521.1" cy="245.3" r="2.2"/><circle cx="521.3" cy="321.7" r="2.2"/><circle cx="521.6" cy="316.8" r="2.2"/><circle cx="521.9" cy="320.9" r="2.2"/><circle cx="522.1" cy="293.3" r="2.2"/><circle cx="522.4" cy="305.4" r="2.2"/><circle cx="522.6" cy="323.3" r="2.2"/><circle cx="522.9" cy="314.8" r="2.2"/><circle cx="523.2" cy="312.3" r="2.2"/><circle cx="523.4" cy="289.7" r="2.2"/><circle cx="523.7" cy="316.5" r="2.2"/><circle cx="523.9" cy="322.1" r="2.2"/><circle cx="524.2" cy="291.0" r="2.2"/><circle cx="524.5" cy="246.0" r="2.2"/><circle cx="524.7" cy="308.4" r="2.2"/><circle cx="525.0" cy="324.2" r="2.2"/><circle cx="525.2" cy="317.2" r="2.2"/><circle cx="525.5" cy="314.6" r="2.2"/><circle cx="525.8" cy="325.2" r="2.2"/><circle cx="526.0" cy="305.2" r="2.2"/><circle cx="526.3" cy="319.9" r="2.2"/><circle cx="526.5" cy="245.8" r="2.2"/><circle cx="526.8" cy="299.0" r="2.2"/><circle cx="527.1" cy="310.4" r="2.2"/><circle cx="527.3" cy="324.8" r="2.2"/><circle cx="527.6" cy="314.8" r="2.2"/><circle cx="527.8" cy="315.2" r="2.2"/><circle cx="528.1" cy="322.3" r="2.2"/><circle cx="528.4" cy="304.9" r="2.2"/><circle cx="528.6" cy="324.0" r="2.2"/><circle cx="528.9" cy="297.2" r="2.2"/><circle cx="529.1" cy="313.7" r="2.2"/><circle cx="529.4" cy="324.1" r="2.2"/><circle cx="529.7" cy="319.0" r="2.2"/><circle cx="529.9" cy="246.7" r="2.2"/><circle cx="530.2" cy="316.2" r="2.2"/><circle cx="530.4" cy="292.4" r="2.2"/><circle cx="530.7" cy="311.4" r="2.2"/><circle cx="531.0" cy="321.9" r="2.2"/><circle cx="531.2" cy="317.0" r="2.2"/><circle cx="531.5" cy="313.0" r="2.2"/><circle cx="531.7" cy="294.4" r="2.2"/><circle cx="532.0" cy="305.8" r="2.2"/><circle cx="532.3" cy="322.6" r="2.2"/><circle cx="532.5" cy="300.2" r="2.2"/><circle cx="532.8" cy="310.6" r="2.2"/><circle cx="533.0" cy="324.4" r="2.2"/><circle cx="533.3" cy="317.5" r="2.2"/><circle cx="533.6" cy="320.8" r="2.2"/><circle cx="533.8" cy="293.7" r="2.2"/><circle cx="534.1" cy="319.6" r="2.2"/><circle cx="534.3" cy="324.3" r="2.2"/><circle cx="534.6" cy="300.7" r="2.2"/><circle cx="534.9" cy="312.5" r="2.2"/><circle cx="535.1" cy="324.5" r="2.2"/><circle cx="535.4" cy="245.9" r="2.2"/><circle cx="535.6" cy="317.0" r="2.2"/><circle cx="535.9" cy="317.6" r="2.2"/><circle cx="536.2" cy="293.8" r="2.2"/><circle cx="536.4" cy="306.2" r="2.2"/><circle cx="536.7" cy="323.3" r="2.2"/><circle cx="536.9" cy="304.5" r="2.2"/><circle cx="537.2" cy="314.0" r="2.2"/><circle cx="537.5" cy="292.5" r="2.2"/><circle cx="537.7" cy="316.6" r="2.2"/><circle cx="538.0" cy="317.0" r="2.2"/><circle cx="538.2" cy="300.6" r="2.2"/><circle cx="538.5" cy="320.5" r="2.2"/><circle cx="538.8" cy="248.2" r="2.2"/><circle cx="539.0" cy="324.8" r="2.2"/><circle cx="539.3" cy="301.9" r="2.2"/><circle cx="539.5" cy="317.1" r="2.2"/><circle cx="539.8" cy="315.1" r="2.2"/><circle cx="540.1" cy="318.4" r="2.2"/><circle cx="540.3" cy="323.9" r="2.2"/><circle cx="540.6" cy="297.7" r="2.2"/><circle cx="540.8" cy="246.9" r="2.2"/><circle cx="541.1" cy="307.8" r="2.2"/><circle cx="541.4" cy="323.3" r="2.2"/><circle cx="541.6" cy="301.0" r="2.2"/><circle cx="541.9" cy="323.0" r="2.2"/><circle cx="542.1" cy="293.4" r="2.2"/><circle cx="542.4" cy="318.4" r="2.2"/><circle cx="542.7" cy="289.4" r="2.2"/><circle cx="542.9" cy="301.4" r="2.2"/><circle cx="543.2" cy="316.3" r="2.2"/><circle cx="543.4" cy="312.4" r="2.2"/><circle cx="543.7" cy="316.2" r="2.2"/><circle cx="544.0" cy="323.2" r="2.2"/><circle cx="544.2" cy="248.4" r="2.2"/><circle cx="544.5" cy="296.7" r="2.2"/><circle cx="544.7" cy="321.3" r="2.2"/><circle cx="545.0" cy="323.7" r="2.2"/><circle cx="545.3" cy="304.2" r="2.2"/><circle cx="545.5" cy="315.9" r="2.2"/><circle cx="545.8" cy="313.1" r="2.2"/><circle cx="546.0" cy="308.1" r="2.2"/><circle cx="546.3" cy="319.8" r="2.2"/><circle cx="546.6" cy="302.7" r="2.2"/><circle cx="546.8" cy="316.8" r="2.2"/><circle cx="547.1" cy="291.0" r="2.2"/><circle cx="547.3" cy="308.1" r="2.2"/><circle cx="547.6" cy="248.5" r="2.2"/><circle cx="547.9" cy="317.7" r="2.2"/><circle cx="548.1" cy="314.7" r="2.2"/><circle cx="548.4" cy="321.6" r="2.2"/><circle cx="548.6" cy="291.4" r="2.2"/><circle cx="548.9" cy="303.6" r="2.2"/><circle cx="549.2" cy="321.0" r="2.2"/><circle cx="549.4" cy="312.1" r="2.2"/><circle cx="549.7" cy="247.3" r="2.2"/><circle cx="549.9" cy="306.5" r="2.2"/><circle cx="550.2" cy="319.5" r="2.2"/><circle cx="550.5" cy="298.2" r="2.2"/><circle cx="550.7" cy="322.0" r="2.2"/><circle cx="551.0" cy="289.4" r="2.2"/><circle cx="551.2" cy="303.8" r="2.2"/></g>
<line x1="31.5" y1="18.0" x2="551.5" y2="18.0" stroke="#2a2a2a" stroke-width="1.3"/>
<line x1="31.5" y1="419.0" x2="551.5" y2="419.0" stroke="#2a2a2a" stroke-width="1.5"/>
<line x1="31.5" y1="17.35" x2="31.5" y2="419.75" stroke="#1a1a1a" stroke-width="1.5"/>
<line x1="551.5" y1="17.35" x2="551.5" y2="419.75" stroke="#333" stroke-width="1.5"/>
<line x1="291.2" y1="18.0" x2="291.2" y2="419.0" stroke="#111" stroke-width="2.1"/>
<line x1="31.5" y1="218.4" x2="551.5" y2="218.4" stroke="#111" stroke-width="1.8"/>
<line x1="83.5" y1="419.0" x2="83.5" y2="415.0" stroke="#555" stroke-width="1"/>
<line x1="83.5" y1="218.0" x2="83.5" y2="223.0" stroke="#555" stroke-width="1"/>
<line x1="135.5" y1="419.0" x2="135.5" y2="415.0" stroke="#555" stroke-width="1"/>
<line x1="135.5" y1="218.0" x2="135.5" y2="223.0" stroke="#555" stroke-width="1"/>
<line x1="187.5" y1="419.0" x2="187.5" y2="415.0" stroke="#555" stroke-width="1"/>
<line x1="187.5" y1="218.0" x2="187.5" y2="223.0" stroke="#555" stroke-width="1"/>
<line x1="239.5" y1="419.0" x2="239.5" y2="415.0" stroke="#555" stroke-width="1"/>
<line x1="239.5" y1="218.0" x2="239.5" y2="223.0" stroke="#555" stroke-width="1"/>
<line x1="343.5" y1="419.0" x2="343.5" y2="415.0" stroke="#555" stroke-width="1"/>
<line x1="343.5" y1="218.0" x2="343.5" y2="223.0" stroke="#555" stroke-width="1"/>
<line x1="395.5" y1="419.0" x2="395.5" y2="415.0" stroke="#555" stroke-width="1"/>
<line x1="395.5" y1="218.0" x2="395.5" y2="223.0" stroke="#555" stroke-width="1"/>
<line x1="447.5" y1="419.0" x2="447.5" y2="415.0" stroke="#555" stroke-width="1"/>
<line x1="447.5" y1="218.0" x2="447.5" y2="223.0" stroke="#555" stroke-width="1"/>
<line x1="499.5" y1="419.0" x2="499.5" y2="415.0" stroke="#555" stroke-width="1"/>
<line x1="499.5" y1="218.0" x2="499.5" y2="223.0" stroke="#555" stroke-width="1"/>
<line x1="31.5" y1="160.0" x2="35.5" y2="160.0" stroke="#555" stroke-width="1"/>
<line x1="291.5" y1="160.0" x2="286.5" y2="160.0" stroke="#555" stroke-width="1"/>
<line x1="31.5" y1="76.0" x2="35.5" y2="76.0" stroke="#555" stroke-width="1"/>
<line x1="291.5" y1="76.0" x2="286.5" y2="76.0" stroke="#555" stroke-width="1"/>
<line x1="31.5" y1="361.0" x2="35.5" y2="361.0" stroke="#555" stroke-width="1"/>
<line x1="291.5" y1="361.0" x2="286.5" y2="361.0" stroke="#555" stroke-width="1"/>
<line x1="31.5" y1="277.0" x2="35.5" y2="277.0" stroke="#555" stroke-width="1"/>
<line x1="291.5" y1="277.0" x2="286.5" y2="277.0" stroke="#555" stroke-width="1"/>
<text x="160.8" y="7.9" font-size="11.2" text-anchor="middle" font-weight="normal" fill="#222" font-family="Liberation Sans, Arial, sans-serif" >Diode at top-left</text>
<text x="420.3" y="7.9" font-size="10.9" text-anchor="middle" font-weight="normal" fill="#222" font-family="Liberation Sans, Arial, sans-serif" >Diode at bottom-right</text>
<text x="34.3" y="31.5" font-size="20" text-anchor="start" font-weight="bold" fill="#000" font-family="Liberation Sans, Arial, sans-serif" >a</text>
<text x="294" y="31.5" font-size="20" text-anchor="start" font-weight="bold" fill="#000" font-family="Liberation Sans, Arial, sans-serif" >b</text>
<text x="34.3" y="232.5" font-size="20" text-anchor="start" font-weight="bold" fill="#000" font-family="Liberation Sans, Arial, sans-serif" >c</text>
<text x="293.6" y="233" font-size="20" text-anchor="start" font-weight="bold" fill="#000" font-family="Liberation Sans, Arial, sans-serif" >d</text>
<text x="27" y="205.9" font-size="10" text-anchor="end" font-weight="normal" fill="#444" font-family="Liberation Sans, Arial, sans-serif" >0</text>
<text x="27" y="163.9" font-size="10" text-anchor="end" font-weight="normal" fill="#444" font-family="Liberation Sans, Arial, sans-serif" >5</text>
<text x="27" y="121.9" font-size="10" text-anchor="end" font-weight="normal" fill="#444" font-family="Liberation Sans, Arial, sans-serif" >10</text>
<text x="27" y="79.9" font-size="10" text-anchor="end" font-weight="normal" fill="#444" font-family="Liberation Sans, Arial, sans-serif" >15</text>
<text x="27" y="37.9" font-size="10" text-anchor="end" font-weight="normal" fill="#444" font-family="Liberation Sans, Arial, sans-serif" >20</text>
<text x="27" y="406.9" font-size="10" text-anchor="end" font-weight="normal" fill="#444" font-family="Liberation Sans, Arial, sans-serif" >0</text>
<text x="27" y="364.9" font-size="10" text-anchor="end" font-weight="normal" fill="#444" font-family="Liberation Sans, Arial, sans-serif" >5</text>
<text x="27" y="322.9" font-size="10" text-anchor="end" font-weight="normal" fill="#444" font-family="Liberation Sans, Arial, sans-serif" >10</text>
<text x="27" y="280.9" font-size="10" text-anchor="end" font-weight="normal" fill="#444" font-family="Liberation Sans, Arial, sans-serif" >15</text>
<text x="27" y="238.9" font-size="10" text-anchor="end" font-weight="normal" fill="#444" font-family="Liberation Sans, Arial, sans-serif" >20</text>
<text x="32.3" y="432.5" font-size="10.9" text-anchor="middle" font-weight="normal" fill="#2a2a2a" font-family="Liberation Sans, Arial, sans-serif" >0</text>
<text x="84.3" y="432.5" font-size="10.9" text-anchor="middle" font-weight="normal" fill="#2a2a2a" font-family="Liberation Sans, Arial, sans-serif" >200</text>
<text x="136.3" y="432.5" font-size="10.9" text-anchor="middle" font-weight="normal" fill="#2a2a2a" font-family="Liberation Sans, Arial, sans-serif" >400</text>
<text x="188.3" y="432.5" font-size="10.9" text-anchor="middle" font-weight="normal" fill="#2a2a2a" font-family="Liberation Sans, Arial, sans-serif" >600</text>
<text x="240.3" y="432.5" font-size="10.9" text-anchor="middle" font-weight="normal" fill="#2a2a2a" font-family="Liberation Sans, Arial, sans-serif" >800</text>
<text x="292.3" y="432.5" font-size="10.9" text-anchor="middle" font-weight="normal" fill="#2a2a2a" font-family="Liberation Sans, Arial, sans-serif" >0</text>
<text x="344.3" y="432.5" font-size="10.9" text-anchor="middle" font-weight="normal" fill="#2a2a2a" font-family="Liberation Sans, Arial, sans-serif" >200</text>
<text x="396.3" y="432.5" font-size="10.9" text-anchor="middle" font-weight="normal" fill="#2a2a2a" font-family="Liberation Sans, Arial, sans-serif" >400</text>
<text x="448.3" y="432.5" font-size="10.9" text-anchor="middle" font-weight="normal" fill="#2a2a2a" font-family="Liberation Sans, Arial, sans-serif" >600</text>
<text x="500.3" y="432.5" font-size="10.9" text-anchor="middle" font-weight="normal" fill="#2a2a2a" font-family="Liberation Sans, Arial, sans-serif" >800</text>
<text x="552.3" y="432.5" font-size="10.9" text-anchor="middle" font-weight="normal" fill="#2a2a2a" font-family="Liberation Sans, Arial, sans-serif" >1000</text>
<text x="162" y="447" font-size="11.6" text-anchor="middle" font-weight="normal" fill="#222" font-family="Liberation Sans, Arial, sans-serif" >Sample #</text>
<text x="422" y="447" font-size="11.6" text-anchor="middle" font-weight="normal" fill="#222" font-family="Liberation Sans, Arial, sans-serif" >Sample #</text>
<text x="8.5" y="115.2" font-size="11.7" text-anchor="middle" font-weight="normal" fill="#222" font-family="Liberation Sans, Arial, sans-serif" transform="rotate(-90 8.5 115.2)">Photodiode RT (ms)</text>
<text x="8.5" y="317.6" font-size="11.7" text-anchor="middle" font-weight="normal" fill="#222" font-family="Liberation Sans, Arial, sans-serif" transform="rotate(-90 8.5 317.6)">Photodiode RT (ms)</text>
<text x="34.5" y="107" font-size="11.6" text-anchor="start" font-weight="normal" fill="#222" font-family="Liberation Sans, Arial, sans-serif" >M = 10.28 ms, SD = 0.02, N = 925</text>
<text x="34.5" y="191.2" font-size="11.6" text-anchor="start" font-weight="normal" fill="#222" font-family="Liberation Sans, Arial, sans-serif" >M = 0.27 ms, SD = 0.01, N = 75</text>
<text x="294.3" y="148.4" font-size="11.6" text-anchor="start" font-weight="normal" fill="#222" font-family="Liberation Sans, Arial, sans-serif" >M = 8.70 ms, SD = 0.06, N = 1000</text>
<text x="34.6" y="358" font-size="11.6" text-anchor="start" font-weight="normal" fill="#222" font-family="Liberation Sans, Arial, sans-serif" >M = 6.53 ms, SD = 3.43, N = 1000</text>
<text x="294.5" y="283" font-size="11.6" text-anchor="start" font-weight="normal" fill="#222" font-family="Liberation Sans, Arial, sans-serif" >M = 13.23 ms, SD = 3.85, N = 1000</text>
<text x="560.5" y="120.6" font-size="10.8" text-anchor="start" font-weight="normal" fill="#222" font-family="Liberation Sans, Arial, sans-serif" >PsychoPy</text>
<text x="560.5" y="322" font-size="10.8" text-anchor="start" font-weight="normal" fill="#222" font-family="Liberation Sans, Arial, sans-serif" >PyGame</text>
</svg>
</body></html>
